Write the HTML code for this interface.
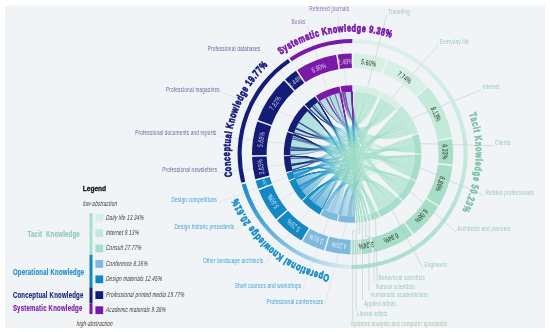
<!DOCTYPE html><html><head><meta charset="utf-8"><style>html,body{margin:0;padding:0;background:#fff;}svg{display:block;font-family:"Liberation Sans",Arial,sans-serif;}</style></head><body><svg width="550" height="332" viewBox="0 0 550 332">
<defs>
<linearGradient id="gT" gradientUnits="userSpaceOnUse" x1="352.6" y1="42" x2="351.04" y2="265.99"><stop offset="0" stop-color="#dcf1e9"/><stop offset="1" stop-color="#abdfca"/></linearGradient>
<linearGradient id="gO" gradientUnits="userSpaceOnUse" x1="351.04" y1="265.99" x2="244.39" y2="182.87"><stop offset="0" stop-color="#d9ecf5"/><stop offset="1" stop-color="#1a8cc6"/></linearGradient>
</defs>
<rect width="550" height="332" fill="#ffffff"/>
<rect x="5" y="5.5" width="540" height="322.5" fill="#f0f4f7"/>
<defs><linearGradient id="c0_0" gradientUnits="userSpaceOnUse" x1="354.36" y1="216.28" x2="354.3" y2="91.72"><stop offset="0" stop-color="#7db9dd" stop-opacity="0.95"/><stop offset="0.16" stop-color="#7db9dd" stop-opacity="0.7"/><stop offset="0.32" stop-color="#2a9fd3" stop-opacity="0.4"/><stop offset="0.48" stop-color="#8fd6bd" stop-opacity="0.32"/><stop offset="1" stop-color="#8fd6bd" stop-opacity="0.12"/></linearGradient><linearGradient id="c0_1" gradientUnits="userSpaceOnUse" x1="352.51" y1="216.3" x2="380.84" y2="98.47"><stop offset="0" stop-color="#7db9dd" stop-opacity="0.95"/><stop offset="0.16" stop-color="#7db9dd" stop-opacity="0.7"/><stop offset="0.32" stop-color="#2a9fd3" stop-opacity="0.4"/><stop offset="0.48" stop-color="#8fd6bd" stop-opacity="0.32"/><stop offset="1" stop-color="#8fd6bd" stop-opacity="0.12"/></linearGradient><linearGradient id="c0_2" gradientUnits="userSpaceOnUse" x1="350.57" y1="216.27" x2="398.1" y2="111.45"><stop offset="0" stop-color="#7db9dd" stop-opacity="0.95"/><stop offset="0.16" stop-color="#7db9dd" stop-opacity="0.7"/><stop offset="0.32" stop-color="#2a9fd3" stop-opacity="0.4"/><stop offset="0.48" stop-color="#8fd6bd" stop-opacity="0.32"/><stop offset="1" stop-color="#8fd6bd" stop-opacity="0.12"/></linearGradient><linearGradient id="c0_3" gradientUnits="userSpaceOnUse" x1="349.57" y1="216.23" x2="412.58" y2="137.15"><stop offset="0" stop-color="#7db9dd" stop-opacity="0.95"/><stop offset="0.16" stop-color="#7db9dd" stop-opacity="0.7"/><stop offset="0.32" stop-color="#2a9fd3" stop-opacity="0.4"/><stop offset="0.48" stop-color="#8fd6bd" stop-opacity="0.32"/><stop offset="1" stop-color="#8fd6bd" stop-opacity="0.12"/></linearGradient><linearGradient id="c0_4" gradientUnits="userSpaceOnUse" x1="349.03" y1="216.2" x2="414.88" y2="155.54"><stop offset="0" stop-color="#7db9dd" stop-opacity="0.95"/><stop offset="0.16" stop-color="#7db9dd" stop-opacity="0.7"/><stop offset="0.32" stop-color="#2a9fd3" stop-opacity="0.4"/><stop offset="0.48" stop-color="#8fd6bd" stop-opacity="0.32"/><stop offset="1" stop-color="#8fd6bd" stop-opacity="0.12"/></linearGradient><linearGradient id="c0_5" gradientUnits="userSpaceOnUse" x1="348.35" y1="216.16" x2="409.24" y2="179.94"><stop offset="0" stop-color="#7db9dd" stop-opacity="0.95"/><stop offset="0.16" stop-color="#7db9dd" stop-opacity="0.7"/><stop offset="0.32" stop-color="#2a9fd3" stop-opacity="0.4"/><stop offset="0.48" stop-color="#8fd6bd" stop-opacity="0.32"/><stop offset="1" stop-color="#8fd6bd" stop-opacity="0.12"/></linearGradient><linearGradient id="c0_6" gradientUnits="userSpaceOnUse" x1="344.36" y1="215.75" x2="396.14" y2="198.56"><stop offset="0" stop-color="#7db9dd" stop-opacity="0.95"/><stop offset="0.16" stop-color="#7db9dd" stop-opacity="0.7"/><stop offset="0.32" stop-color="#2a9fd3" stop-opacity="0.4"/><stop offset="0.48" stop-color="#8fd6bd" stop-opacity="0.32"/><stop offset="1" stop-color="#8fd6bd" stop-opacity="0.12"/></linearGradient><linearGradient id="c0_7" gradientUnits="userSpaceOnUse" x1="340.52" y1="215.12" x2="375.76" y2="211.84"><stop offset="0" stop-color="#7db9dd" stop-opacity="0.95"/><stop offset="0.16" stop-color="#7db9dd" stop-opacity="0.7"/><stop offset="0.32" stop-color="#2a9fd3" stop-opacity="0.4"/><stop offset="0.48" stop-color="#8fd6bd" stop-opacity="0.32"/><stop offset="1" stop-color="#8fd6bd" stop-opacity="0.12"/></linearGradient><linearGradient id="c0_8" gradientUnits="userSpaceOnUse" x1="339.98" y1="215.01" x2="368.27" y2="214.3"><stop offset="0" stop-color="#7db9dd" stop-opacity="0.95"/><stop offset="0.16" stop-color="#7db9dd" stop-opacity="0.7"/><stop offset="0.32" stop-color="#2a9fd3" stop-opacity="0.4"/><stop offset="0.48" stop-color="#8fd6bd" stop-opacity="0.32"/><stop offset="1" stop-color="#8fd6bd" stop-opacity="0.12"/></linearGradient><linearGradient id="c0_9" gradientUnits="userSpaceOnUse" x1="339.69" y1="214.95" x2="365.31" y2="214.99"><stop offset="0" stop-color="#7db9dd" stop-opacity="0.95"/><stop offset="0.16" stop-color="#7db9dd" stop-opacity="0.7"/><stop offset="0.32" stop-color="#2a9fd3" stop-opacity="0.4"/><stop offset="0.48" stop-color="#8fd6bd" stop-opacity="0.32"/><stop offset="1" stop-color="#8fd6bd" stop-opacity="0.12"/></linearGradient><linearGradient id="c0_10" gradientUnits="userSpaceOnUse" x1="339.55" y1="214.92" x2="362.01" y2="215.58"><stop offset="0" stop-color="#7db9dd" stop-opacity="0.95"/><stop offset="0.16" stop-color="#7db9dd" stop-opacity="0.7"/><stop offset="0.32" stop-color="#2a9fd3" stop-opacity="0.4"/><stop offset="0.48" stop-color="#8fd6bd" stop-opacity="0.32"/><stop offset="1" stop-color="#8fd6bd" stop-opacity="0.12"/></linearGradient><linearGradient id="c0_11" gradientUnits="userSpaceOnUse" x1="339.43" y1="214.89" x2="359.45" y2="215.92"><stop offset="0" stop-color="#7db9dd" stop-opacity="0.95"/><stop offset="0.16" stop-color="#7db9dd" stop-opacity="0.7"/><stop offset="0.32" stop-color="#2a9fd3" stop-opacity="0.4"/><stop offset="0.48" stop-color="#8fd6bd" stop-opacity="0.32"/><stop offset="1" stop-color="#8fd6bd" stop-opacity="0.12"/></linearGradient><linearGradient id="c0_12" gradientUnits="userSpaceOnUse" x1="339.38" y1="214.88" x2="357.05" y2="216.14"><stop offset="0" stop-color="#7db9dd" stop-opacity="0.95"/><stop offset="0.16" stop-color="#7db9dd" stop-opacity="0.7"/><stop offset="0.32" stop-color="#2a9fd3" stop-opacity="0.4"/><stop offset="0.48" stop-color="#8fd6bd" stop-opacity="0.32"/><stop offset="1" stop-color="#8fd6bd" stop-opacity="0.12"/></linearGradient><linearGradient id="c1_0" gradientUnits="userSpaceOnUse" x1="335.47" y1="213.9" x2="356.61" y2="91.83"><stop offset="0" stop-color="#7db9dd" stop-opacity="0.95"/><stop offset="0.16" stop-color="#7db9dd" stop-opacity="0.7"/><stop offset="0.32" stop-color="#2a9fd3" stop-opacity="0.4"/><stop offset="0.48" stop-color="#8fd6bd" stop-opacity="0.32"/><stop offset="1" stop-color="#8fd6bd" stop-opacity="0.12"/></linearGradient><linearGradient id="c1_1" gradientUnits="userSpaceOnUse" x1="331.22" y1="212.52" x2="381.64" y2="98.88"><stop offset="0" stop-color="#7db9dd" stop-opacity="0.95"/><stop offset="0.16" stop-color="#7db9dd" stop-opacity="0.7"/><stop offset="0.32" stop-color="#2a9fd3" stop-opacity="0.4"/><stop offset="0.48" stop-color="#8fd6bd" stop-opacity="0.32"/><stop offset="1" stop-color="#8fd6bd" stop-opacity="0.12"/></linearGradient><linearGradient id="c1_2" gradientUnits="userSpaceOnUse" x1="328.01" y1="211.24" x2="399.67" y2="113.18"><stop offset="0" stop-color="#7db9dd" stop-opacity="0.95"/><stop offset="0.16" stop-color="#7db9dd" stop-opacity="0.7"/><stop offset="0.32" stop-color="#2a9fd3" stop-opacity="0.4"/><stop offset="0.48" stop-color="#8fd6bd" stop-opacity="0.32"/><stop offset="1" stop-color="#8fd6bd" stop-opacity="0.12"/></linearGradient><linearGradient id="c1_3" gradientUnits="userSpaceOnUse" x1="326.09" y1="210.38" x2="412.66" y2="137.46"><stop offset="0" stop-color="#7db9dd" stop-opacity="0.95"/><stop offset="0.16" stop-color="#7db9dd" stop-opacity="0.7"/><stop offset="0.32" stop-color="#2a9fd3" stop-opacity="0.4"/><stop offset="0.48" stop-color="#8fd6bd" stop-opacity="0.32"/><stop offset="1" stop-color="#8fd6bd" stop-opacity="0.12"/></linearGradient><linearGradient id="c1_4" gradientUnits="userSpaceOnUse" x1="325.98" y1="210.33" x2="414.88" y2="155.64"><stop offset="0" stop-color="#7db9dd" stop-opacity="0.95"/><stop offset="0.16" stop-color="#7db9dd" stop-opacity="0.7"/><stop offset="0.32" stop-color="#2a9fd3" stop-opacity="0.4"/><stop offset="0.48" stop-color="#8fd6bd" stop-opacity="0.32"/><stop offset="1" stop-color="#8fd6bd" stop-opacity="0.12"/></linearGradient><linearGradient id="c1_5" gradientUnits="userSpaceOnUse" x1="325.73" y1="210.21" x2="409.08" y2="180.3"><stop offset="0" stop-color="#7db9dd" stop-opacity="0.95"/><stop offset="0.16" stop-color="#7db9dd" stop-opacity="0.7"/><stop offset="0.32" stop-color="#2a9fd3" stop-opacity="0.4"/><stop offset="0.48" stop-color="#8fd6bd" stop-opacity="0.32"/><stop offset="1" stop-color="#8fd6bd" stop-opacity="0.12"/></linearGradient><linearGradient id="c1_6" gradientUnits="userSpaceOnUse" x1="325.15" y1="209.93" x2="395.25" y2="199.41"><stop offset="0" stop-color="#7db9dd" stop-opacity="0.95"/><stop offset="0.16" stop-color="#7db9dd" stop-opacity="0.7"/><stop offset="0.32" stop-color="#2a9fd3" stop-opacity="0.4"/><stop offset="0.48" stop-color="#8fd6bd" stop-opacity="0.32"/><stop offset="1" stop-color="#8fd6bd" stop-opacity="0.12"/></linearGradient><linearGradient id="c1_7" gradientUnits="userSpaceOnUse" x1="324.47" y1="209.59" x2="375.14" y2="212.08"><stop offset="0" stop-color="#7db9dd" stop-opacity="0.95"/><stop offset="0.16" stop-color="#7db9dd" stop-opacity="0.7"/><stop offset="0.32" stop-color="#2a9fd3" stop-opacity="0.4"/><stop offset="0.48" stop-color="#8fd6bd" stop-opacity="0.32"/><stop offset="1" stop-color="#8fd6bd" stop-opacity="0.12"/></linearGradient><linearGradient id="c1_8" gradientUnits="userSpaceOnUse" x1="324.13" y1="209.41" x2="368.02" y2="214.36"><stop offset="0" stop-color="#7db9dd" stop-opacity="0.95"/><stop offset="0.16" stop-color="#7db9dd" stop-opacity="0.7"/><stop offset="0.32" stop-color="#2a9fd3" stop-opacity="0.4"/><stop offset="0.48" stop-color="#8fd6bd" stop-opacity="0.32"/><stop offset="1" stop-color="#8fd6bd" stop-opacity="0.12"/></linearGradient><linearGradient id="c1_9" gradientUnits="userSpaceOnUse" x1="323.97" y1="209.33" x2="365.19" y2="215.01"><stop offset="0" stop-color="#7db9dd" stop-opacity="0.95"/><stop offset="0.16" stop-color="#7db9dd" stop-opacity="0.7"/><stop offset="0.32" stop-color="#2a9fd3" stop-opacity="0.4"/><stop offset="0.48" stop-color="#8fd6bd" stop-opacity="0.32"/><stop offset="1" stop-color="#8fd6bd" stop-opacity="0.12"/></linearGradient><linearGradient id="c1_10" gradientUnits="userSpaceOnUse" x1="323.83" y1="209.26" x2="361.94" y2="215.6"><stop offset="0" stop-color="#7db9dd" stop-opacity="0.95"/><stop offset="0.16" stop-color="#7db9dd" stop-opacity="0.7"/><stop offset="0.32" stop-color="#2a9fd3" stop-opacity="0.4"/><stop offset="0.48" stop-color="#8fd6bd" stop-opacity="0.32"/><stop offset="1" stop-color="#8fd6bd" stop-opacity="0.12"/></linearGradient><linearGradient id="c1_11" gradientUnits="userSpaceOnUse" x1="323.76" y1="209.22" x2="359.34" y2="215.93"><stop offset="0" stop-color="#7db9dd" stop-opacity="0.95"/><stop offset="0.16" stop-color="#7db9dd" stop-opacity="0.7"/><stop offset="0.32" stop-color="#2a9fd3" stop-opacity="0.4"/><stop offset="0.48" stop-color="#8fd6bd" stop-opacity="0.32"/><stop offset="1" stop-color="#8fd6bd" stop-opacity="0.12"/></linearGradient><linearGradient id="c1_12" gradientUnits="userSpaceOnUse" x1="323.65" y1="209.16" x2="357.02" y2="216.14"><stop offset="0" stop-color="#7db9dd" stop-opacity="0.95"/><stop offset="0.16" stop-color="#7db9dd" stop-opacity="0.7"/><stop offset="0.32" stop-color="#2a9fd3" stop-opacity="0.4"/><stop offset="0.48" stop-color="#8fd6bd" stop-opacity="0.32"/><stop offset="1" stop-color="#8fd6bd" stop-opacity="0.12"/></linearGradient><linearGradient id="c2_0" gradientUnits="userSpaceOnUse" x1="322.52" y1="208.56" x2="358.8" y2="92.01"><stop offset="0" stop-color="#1388c3" stop-opacity="0.95"/><stop offset="0.16" stop-color="#1388c3" stop-opacity="0.7"/><stop offset="0.32" stop-color="#2a9fd3" stop-opacity="0.4"/><stop offset="0.48" stop-color="#8fd6bd" stop-opacity="0.32"/><stop offset="1" stop-color="#8fd6bd" stop-opacity="0.12"/></linearGradient><linearGradient id="c2_1" gradientUnits="userSpaceOnUse" x1="317.98" y1="205.8" x2="384.68" y2="100.6"><stop offset="0" stop-color="#1388c3" stop-opacity="0.95"/><stop offset="0.16" stop-color="#1388c3" stop-opacity="0.7"/><stop offset="0.32" stop-color="#2a9fd3" stop-opacity="0.4"/><stop offset="0.48" stop-color="#8fd6bd" stop-opacity="0.32"/><stop offset="1" stop-color="#8fd6bd" stop-opacity="0.12"/></linearGradient><linearGradient id="c2_2" gradientUnits="userSpaceOnUse" x1="312.75" y1="201.89" x2="402.22" y2="116.33"><stop offset="0" stop-color="#1388c3" stop-opacity="0.95"/><stop offset="0.16" stop-color="#1388c3" stop-opacity="0.7"/><stop offset="0.32" stop-color="#2a9fd3" stop-opacity="0.4"/><stop offset="0.48" stop-color="#8fd6bd" stop-opacity="0.32"/><stop offset="1" stop-color="#8fd6bd" stop-opacity="0.12"/></linearGradient><linearGradient id="c2_3" gradientUnits="userSpaceOnUse" x1="310.09" y1="199.55" x2="413.38" y2="140.34"><stop offset="0" stop-color="#1388c3" stop-opacity="0.95"/><stop offset="0.16" stop-color="#1388c3" stop-opacity="0.7"/><stop offset="0.32" stop-color="#2a9fd3" stop-opacity="0.4"/><stop offset="0.48" stop-color="#8fd6bd" stop-opacity="0.32"/><stop offset="1" stop-color="#8fd6bd" stop-opacity="0.12"/></linearGradient><linearGradient id="c2_4" gradientUnits="userSpaceOnUse" x1="308.43" y1="197.93" x2="414.87" y2="155.81"><stop offset="0" stop-color="#1388c3" stop-opacity="0.95"/><stop offset="0.16" stop-color="#1388c3" stop-opacity="0.7"/><stop offset="0.32" stop-color="#2a9fd3" stop-opacity="0.4"/><stop offset="0.48" stop-color="#8fd6bd" stop-opacity="0.32"/><stop offset="1" stop-color="#8fd6bd" stop-opacity="0.12"/></linearGradient><linearGradient id="c2_5" gradientUnits="userSpaceOnUse" x1="308.15" y1="197.65" x2="408.96" y2="180.55"><stop offset="0" stop-color="#1388c3" stop-opacity="0.95"/><stop offset="0.16" stop-color="#1388c3" stop-opacity="0.7"/><stop offset="0.32" stop-color="#2a9fd3" stop-opacity="0.4"/><stop offset="0.48" stop-color="#8fd6bd" stop-opacity="0.32"/><stop offset="1" stop-color="#8fd6bd" stop-opacity="0.12"/></linearGradient><linearGradient id="c2_6" gradientUnits="userSpaceOnUse" x1="307.8" y1="197.29" x2="395.03" y2="199.62"><stop offset="0" stop-color="#1388c3" stop-opacity="0.95"/><stop offset="0.16" stop-color="#1388c3" stop-opacity="0.7"/><stop offset="0.32" stop-color="#2a9fd3" stop-opacity="0.4"/><stop offset="0.48" stop-color="#8fd6bd" stop-opacity="0.32"/><stop offset="1" stop-color="#8fd6bd" stop-opacity="0.12"/></linearGradient><linearGradient id="c2_7" gradientUnits="userSpaceOnUse" x1="307.48" y1="196.96" x2="374.66" y2="212.26"><stop offset="0" stop-color="#1388c3" stop-opacity="0.95"/><stop offset="0.16" stop-color="#1388c3" stop-opacity="0.7"/><stop offset="0.32" stop-color="#2a9fd3" stop-opacity="0.4"/><stop offset="0.48" stop-color="#8fd6bd" stop-opacity="0.32"/><stop offset="1" stop-color="#8fd6bd" stop-opacity="0.12"/></linearGradient><linearGradient id="c2_8" gradientUnits="userSpaceOnUse" x1="307.33" y1="196.81" x2="367.82" y2="214.41"><stop offset="0" stop-color="#1388c3" stop-opacity="0.95"/><stop offset="0.16" stop-color="#1388c3" stop-opacity="0.7"/><stop offset="0.32" stop-color="#2a9fd3" stop-opacity="0.4"/><stop offset="0.48" stop-color="#8fd6bd" stop-opacity="0.32"/><stop offset="1" stop-color="#8fd6bd" stop-opacity="0.12"/></linearGradient><linearGradient id="c2_9" gradientUnits="userSpaceOnUse" x1="307.23" y1="196.7" x2="365.06" y2="215.04"><stop offset="0" stop-color="#1388c3" stop-opacity="0.95"/><stop offset="0.16" stop-color="#1388c3" stop-opacity="0.7"/><stop offset="0.32" stop-color="#2a9fd3" stop-opacity="0.4"/><stop offset="0.48" stop-color="#8fd6bd" stop-opacity="0.32"/><stop offset="1" stop-color="#8fd6bd" stop-opacity="0.12"/></linearGradient><linearGradient id="c2_10" gradientUnits="userSpaceOnUse" x1="307.18" y1="196.65" x2="361.91" y2="215.6"><stop offset="0" stop-color="#1388c3" stop-opacity="0.95"/><stop offset="0.16" stop-color="#1388c3" stop-opacity="0.7"/><stop offset="0.32" stop-color="#2a9fd3" stop-opacity="0.4"/><stop offset="0.48" stop-color="#8fd6bd" stop-opacity="0.32"/><stop offset="1" stop-color="#8fd6bd" stop-opacity="0.12"/></linearGradient><linearGradient id="c2_11" gradientUnits="userSpaceOnUse" x1="307.17" y1="196.63" x2="359.26" y2="215.94"><stop offset="0" stop-color="#1388c3" stop-opacity="0.95"/><stop offset="0.16" stop-color="#1388c3" stop-opacity="0.7"/><stop offset="0.32" stop-color="#2a9fd3" stop-opacity="0.4"/><stop offset="0.48" stop-color="#8fd6bd" stop-opacity="0.32"/><stop offset="1" stop-color="#8fd6bd" stop-opacity="0.12"/></linearGradient><linearGradient id="c2_12" gradientUnits="userSpaceOnUse" x1="307.16" y1="196.62" x2="356.99" y2="216.15"><stop offset="0" stop-color="#1388c3" stop-opacity="0.95"/><stop offset="0.16" stop-color="#1388c3" stop-opacity="0.7"/><stop offset="0.32" stop-color="#2a9fd3" stop-opacity="0.4"/><stop offset="0.48" stop-color="#8fd6bd" stop-opacity="0.32"/><stop offset="1" stop-color="#8fd6bd" stop-opacity="0.12"/></linearGradient><linearGradient id="c3_0" gradientUnits="userSpaceOnUse" x1="304.06" y1="193.06" x2="363.2" y2="92.61"><stop offset="0" stop-color="#1388c3" stop-opacity="0.95"/><stop offset="0.16" stop-color="#1388c3" stop-opacity="0.7"/><stop offset="0.32" stop-color="#2a9fd3" stop-opacity="0.4"/><stop offset="0.48" stop-color="#8fd6bd" stop-opacity="0.32"/><stop offset="1" stop-color="#8fd6bd" stop-opacity="0.12"/></linearGradient><linearGradient id="c3_1" gradientUnits="userSpaceOnUse" x1="301.72" y1="189.96" x2="387.33" y2="102.28"><stop offset="0" stop-color="#1388c3" stop-opacity="0.95"/><stop offset="0.16" stop-color="#1388c3" stop-opacity="0.7"/><stop offset="0.32" stop-color="#2a9fd3" stop-opacity="0.4"/><stop offset="0.48" stop-color="#8fd6bd" stop-opacity="0.32"/><stop offset="1" stop-color="#8fd6bd" stop-opacity="0.12"/></linearGradient><linearGradient id="c3_2" gradientUnits="userSpaceOnUse" x1="301.03" y1="188.96" x2="404.48" y2="119.51"><stop offset="0" stop-color="#1388c3" stop-opacity="0.95"/><stop offset="0.16" stop-color="#1388c3" stop-opacity="0.7"/><stop offset="0.32" stop-color="#2a9fd3" stop-opacity="0.4"/><stop offset="0.48" stop-color="#8fd6bd" stop-opacity="0.32"/><stop offset="1" stop-color="#8fd6bd" stop-opacity="0.12"/></linearGradient><linearGradient id="c3_3" gradientUnits="userSpaceOnUse" x1="300.02" y1="187.42" x2="414.13" y2="144.24"><stop offset="0" stop-color="#1388c3" stop-opacity="0.95"/><stop offset="0.16" stop-color="#1388c3" stop-opacity="0.7"/><stop offset="0.32" stop-color="#2a9fd3" stop-opacity="0.4"/><stop offset="0.48" stop-color="#8fd6bd" stop-opacity="0.32"/><stop offset="1" stop-color="#8fd6bd" stop-opacity="0.12"/></linearGradient><linearGradient id="c3_4" gradientUnits="userSpaceOnUse" x1="299.57" y1="186.69" x2="414.87" y2="155.99"><stop offset="0" stop-color="#1388c3" stop-opacity="0.95"/><stop offset="0.16" stop-color="#1388c3" stop-opacity="0.7"/><stop offset="0.32" stop-color="#2a9fd3" stop-opacity="0.4"/><stop offset="0.48" stop-color="#8fd6bd" stop-opacity="0.32"/><stop offset="1" stop-color="#8fd6bd" stop-opacity="0.12"/></linearGradient><linearGradient id="c3_5" gradientUnits="userSpaceOnUse" x1="299.23" y1="186.15" x2="408.65" y2="181.19"><stop offset="0" stop-color="#1388c3" stop-opacity="0.95"/><stop offset="0.16" stop-color="#1388c3" stop-opacity="0.7"/><stop offset="0.32" stop-color="#2a9fd3" stop-opacity="0.4"/><stop offset="0.48" stop-color="#8fd6bd" stop-opacity="0.32"/><stop offset="1" stop-color="#8fd6bd" stop-opacity="0.12"/></linearGradient><linearGradient id="c3_6" gradientUnits="userSpaceOnUse" x1="297.12" y1="182.34" x2="393.46" y2="201.03"><stop offset="0" stop-color="#1388c3" stop-opacity="0.95"/><stop offset="0.16" stop-color="#1388c3" stop-opacity="0.7"/><stop offset="0.32" stop-color="#2a9fd3" stop-opacity="0.4"/><stop offset="0.48" stop-color="#8fd6bd" stop-opacity="0.32"/><stop offset="1" stop-color="#8fd6bd" stop-opacity="0.12"/></linearGradient><linearGradient id="c3_7" gradientUnits="userSpaceOnUse" x1="295.49" y1="178.9" x2="374.44" y2="212.35"><stop offset="0" stop-color="#1388c3" stop-opacity="0.95"/><stop offset="0.16" stop-color="#1388c3" stop-opacity="0.7"/><stop offset="0.32" stop-color="#2a9fd3" stop-opacity="0.4"/><stop offset="0.48" stop-color="#8fd6bd" stop-opacity="0.32"/><stop offset="1" stop-color="#8fd6bd" stop-opacity="0.12"/></linearGradient><linearGradient id="c3_8" gradientUnits="userSpaceOnUse" x1="295.48" y1="178.86" x2="367.63" y2="214.46"><stop offset="0" stop-color="#1388c3" stop-opacity="0.95"/><stop offset="0.16" stop-color="#1388c3" stop-opacity="0.7"/><stop offset="0.32" stop-color="#2a9fd3" stop-opacity="0.4"/><stop offset="0.48" stop-color="#8fd6bd" stop-opacity="0.32"/><stop offset="1" stop-color="#8fd6bd" stop-opacity="0.12"/></linearGradient><linearGradient id="c3_9" gradientUnits="userSpaceOnUse" x1="295.45" y1="178.8" x2="364.96" y2="215.06"><stop offset="0" stop-color="#1388c3" stop-opacity="0.95"/><stop offset="0.16" stop-color="#1388c3" stop-opacity="0.7"/><stop offset="0.32" stop-color="#2a9fd3" stop-opacity="0.4"/><stop offset="0.48" stop-color="#8fd6bd" stop-opacity="0.32"/><stop offset="1" stop-color="#8fd6bd" stop-opacity="0.12"/></linearGradient><linearGradient id="c3_10" gradientUnits="userSpaceOnUse" x1="295.43" y1="178.76" x2="361.87" y2="215.61"><stop offset="0" stop-color="#1388c3" stop-opacity="0.95"/><stop offset="0.16" stop-color="#1388c3" stop-opacity="0.7"/><stop offset="0.32" stop-color="#2a9fd3" stop-opacity="0.4"/><stop offset="0.48" stop-color="#8fd6bd" stop-opacity="0.32"/><stop offset="1" stop-color="#8fd6bd" stop-opacity="0.12"/></linearGradient><linearGradient id="c3_11" gradientUnits="userSpaceOnUse" x1="295.4" y1="178.69" x2="359.14" y2="215.96"><stop offset="0" stop-color="#1388c3" stop-opacity="0.95"/><stop offset="0.16" stop-color="#1388c3" stop-opacity="0.7"/><stop offset="0.32" stop-color="#2a9fd3" stop-opacity="0.4"/><stop offset="0.48" stop-color="#8fd6bd" stop-opacity="0.32"/><stop offset="1" stop-color="#8fd6bd" stop-opacity="0.12"/></linearGradient><linearGradient id="c3_12" gradientUnits="userSpaceOnUse" x1="295.37" y1="178.61" x2="356.96" y2="216.15"><stop offset="0" stop-color="#1388c3" stop-opacity="0.95"/><stop offset="0.16" stop-color="#1388c3" stop-opacity="0.7"/><stop offset="0.32" stop-color="#2a9fd3" stop-opacity="0.4"/><stop offset="0.48" stop-color="#8fd6bd" stop-opacity="0.32"/><stop offset="1" stop-color="#8fd6bd" stop-opacity="0.12"/></linearGradient><linearGradient id="c4_0" gradientUnits="userSpaceOnUse" x1="294.97" y1="177.67" x2="367.3" y2="93.46"><stop offset="0" stop-color="#1388c3" stop-opacity="0.95"/><stop offset="0.16" stop-color="#1388c3" stop-opacity="0.7"/><stop offset="0.32" stop-color="#2a9fd3" stop-opacity="0.4"/><stop offset="0.48" stop-color="#8fd6bd" stop-opacity="0.32"/><stop offset="1" stop-color="#8fd6bd" stop-opacity="0.12"/></linearGradient><linearGradient id="c4_1" gradientUnits="userSpaceOnUse" x1="294.78" y1="177.2" x2="387.65" y2="102.5"><stop offset="0" stop-color="#1388c3" stop-opacity="0.95"/><stop offset="0.16" stop-color="#1388c3" stop-opacity="0.7"/><stop offset="0.32" stop-color="#2a9fd3" stop-opacity="0.4"/><stop offset="0.48" stop-color="#8fd6bd" stop-opacity="0.32"/><stop offset="1" stop-color="#8fd6bd" stop-opacity="0.12"/></linearGradient><linearGradient id="c4_2" gradientUnits="userSpaceOnUse" x1="294.41" y1="176.25" x2="405.82" y2="121.62"><stop offset="0" stop-color="#1388c3" stop-opacity="0.95"/><stop offset="0.16" stop-color="#1388c3" stop-opacity="0.7"/><stop offset="0.32" stop-color="#2a9fd3" stop-opacity="0.4"/><stop offset="0.48" stop-color="#8fd6bd" stop-opacity="0.32"/><stop offset="1" stop-color="#8fd6bd" stop-opacity="0.12"/></linearGradient><linearGradient id="c4_3" gradientUnits="userSpaceOnUse" x1="294.05" y1="175.28" x2="414.38" y2="145.97"><stop offset="0" stop-color="#1388c3" stop-opacity="0.95"/><stop offset="0.16" stop-color="#1388c3" stop-opacity="0.7"/><stop offset="0.32" stop-color="#2a9fd3" stop-opacity="0.4"/><stop offset="0.48" stop-color="#8fd6bd" stop-opacity="0.32"/><stop offset="1" stop-color="#8fd6bd" stop-opacity="0.12"/></linearGradient><linearGradient id="c4_4" gradientUnits="userSpaceOnUse" x1="293.46" y1="173.58" x2="414.83" y2="156.91"><stop offset="0" stop-color="#1388c3" stop-opacity="0.95"/><stop offset="0.16" stop-color="#1388c3" stop-opacity="0.7"/><stop offset="0.32" stop-color="#2a9fd3" stop-opacity="0.4"/><stop offset="0.48" stop-color="#8fd6bd" stop-opacity="0.32"/><stop offset="1" stop-color="#8fd6bd" stop-opacity="0.12"/></linearGradient><linearGradient id="c4_5" gradientUnits="userSpaceOnUse" x1="292.98" y1="172.07" x2="408.3" y2="181.92"><stop offset="0" stop-color="#1388c3" stop-opacity="0.95"/><stop offset="0.16" stop-color="#1388c3" stop-opacity="0.7"/><stop offset="0.32" stop-color="#2a9fd3" stop-opacity="0.4"/><stop offset="0.48" stop-color="#8fd6bd" stop-opacity="0.32"/><stop offset="1" stop-color="#8fd6bd" stop-opacity="0.12"/></linearGradient><linearGradient id="c4_6" gradientUnits="userSpaceOnUse" x1="292.85" y1="171.63" x2="391.91" y2="202.34"><stop offset="0" stop-color="#1388c3" stop-opacity="0.95"/><stop offset="0.16" stop-color="#1388c3" stop-opacity="0.7"/><stop offset="0.32" stop-color="#2a9fd3" stop-opacity="0.4"/><stop offset="0.48" stop-color="#8fd6bd" stop-opacity="0.32"/><stop offset="1" stop-color="#8fd6bd" stop-opacity="0.12"/></linearGradient><linearGradient id="c4_7" gradientUnits="userSpaceOnUse" x1="292.78" y1="171.42" x2="374.42" y2="212.36"><stop offset="0" stop-color="#1388c3" stop-opacity="0.95"/><stop offset="0.16" stop-color="#1388c3" stop-opacity="0.7"/><stop offset="0.32" stop-color="#2a9fd3" stop-opacity="0.4"/><stop offset="0.48" stop-color="#8fd6bd" stop-opacity="0.32"/><stop offset="1" stop-color="#8fd6bd" stop-opacity="0.12"/></linearGradient><linearGradient id="c4_8" gradientUnits="userSpaceOnUse" x1="292.77" y1="171.38" x2="367.53" y2="214.48"><stop offset="0" stop-color="#1388c3" stop-opacity="0.95"/><stop offset="0.16" stop-color="#1388c3" stop-opacity="0.7"/><stop offset="0.32" stop-color="#2a9fd3" stop-opacity="0.4"/><stop offset="0.48" stop-color="#8fd6bd" stop-opacity="0.32"/><stop offset="1" stop-color="#8fd6bd" stop-opacity="0.12"/></linearGradient><linearGradient id="c4_9" gradientUnits="userSpaceOnUse" x1="292.76" y1="171.35" x2="364.92" y2="215.07"><stop offset="0" stop-color="#1388c3" stop-opacity="0.95"/><stop offset="0.16" stop-color="#1388c3" stop-opacity="0.7"/><stop offset="0.32" stop-color="#2a9fd3" stop-opacity="0.4"/><stop offset="0.48" stop-color="#8fd6bd" stop-opacity="0.32"/><stop offset="1" stop-color="#8fd6bd" stop-opacity="0.12"/></linearGradient><linearGradient id="c4_10" gradientUnits="userSpaceOnUse" x1="292.76" y1="171.34" x2="361.85" y2="215.61"><stop offset="0" stop-color="#1388c3" stop-opacity="0.95"/><stop offset="0.16" stop-color="#1388c3" stop-opacity="0.7"/><stop offset="0.32" stop-color="#2a9fd3" stop-opacity="0.4"/><stop offset="0.48" stop-color="#8fd6bd" stop-opacity="0.32"/><stop offset="1" stop-color="#8fd6bd" stop-opacity="0.12"/></linearGradient><linearGradient id="c4_11" gradientUnits="userSpaceOnUse" x1="292.76" y1="171.33" x2="359.04" y2="215.97"><stop offset="0" stop-color="#1388c3" stop-opacity="0.95"/><stop offset="0.16" stop-color="#1388c3" stop-opacity="0.7"/><stop offset="0.32" stop-color="#2a9fd3" stop-opacity="0.4"/><stop offset="0.48" stop-color="#8fd6bd" stop-opacity="0.32"/><stop offset="1" stop-color="#8fd6bd" stop-opacity="0.12"/></linearGradient><linearGradient id="c4_12" gradientUnits="userSpaceOnUse" x1="292.76" y1="171.33" x2="356.94" y2="216.15"><stop offset="0" stop-color="#1388c3" stop-opacity="0.95"/><stop offset="0.16" stop-color="#1388c3" stop-opacity="0.7"/><stop offset="0.32" stop-color="#2a9fd3" stop-opacity="0.4"/><stop offset="0.48" stop-color="#8fd6bd" stop-opacity="0.32"/><stop offset="1" stop-color="#8fd6bd" stop-opacity="0.12"/></linearGradient><linearGradient id="c5_0" gradientUnits="userSpaceOnUse" x1="292.43" y1="170.16" x2="367.57" y2="93.53"><stop offset="0" stop-color="#141c78" stop-opacity="0.95"/><stop offset="0.16" stop-color="#141c78" stop-opacity="0.7"/><stop offset="0.32" stop-color="#2a9fd3" stop-opacity="0.4"/><stop offset="0.48" stop-color="#8fd6bd" stop-opacity="0.32"/><stop offset="1" stop-color="#8fd6bd" stop-opacity="0.12"/></linearGradient><linearGradient id="c5_1" gradientUnits="userSpaceOnUse" x1="291.83" y1="167.74" x2="388.9" y2="103.37"><stop offset="0" stop-color="#141c78" stop-opacity="0.95"/><stop offset="0.16" stop-color="#141c78" stop-opacity="0.7"/><stop offset="0.32" stop-color="#2a9fd3" stop-opacity="0.4"/><stop offset="0.48" stop-color="#8fd6bd" stop-opacity="0.32"/><stop offset="1" stop-color="#8fd6bd" stop-opacity="0.12"/></linearGradient><linearGradient id="c5_2" gradientUnits="userSpaceOnUse" x1="291.37" y1="165.49" x2="406.32" y2="122.45"><stop offset="0" stop-color="#141c78" stop-opacity="0.95"/><stop offset="0.16" stop-color="#141c78" stop-opacity="0.7"/><stop offset="0.32" stop-color="#2a9fd3" stop-opacity="0.4"/><stop offset="0.48" stop-color="#8fd6bd" stop-opacity="0.32"/><stop offset="1" stop-color="#8fd6bd" stop-opacity="0.12"/></linearGradient><linearGradient id="c5_3" gradientUnits="userSpaceOnUse" x1="291.36" y1="165.42" x2="414.47" y2="146.72"><stop offset="0" stop-color="#141c78" stop-opacity="0.95"/><stop offset="0.16" stop-color="#141c78" stop-opacity="0.7"/><stop offset="0.32" stop-color="#2a9fd3" stop-opacity="0.4"/><stop offset="0.48" stop-color="#8fd6bd" stop-opacity="0.32"/><stop offset="1" stop-color="#8fd6bd" stop-opacity="0.12"/></linearGradient><linearGradient id="c5_4" gradientUnits="userSpaceOnUse" x1="291.24" y1="164.77" x2="414.76" y2="158.14"><stop offset="0" stop-color="#141c78" stop-opacity="0.95"/><stop offset="0.16" stop-color="#141c78" stop-opacity="0.7"/><stop offset="0.32" stop-color="#2a9fd3" stop-opacity="0.4"/><stop offset="0.48" stop-color="#8fd6bd" stop-opacity="0.32"/><stop offset="1" stop-color="#8fd6bd" stop-opacity="0.12"/></linearGradient><linearGradient id="c5_5" gradientUnits="userSpaceOnUse" x1="290.73" y1="161.31" x2="406.93" y2="184.49"><stop offset="0" stop-color="#141c78" stop-opacity="0.95"/><stop offset="0.16" stop-color="#141c78" stop-opacity="0.7"/><stop offset="0.32" stop-color="#2a9fd3" stop-opacity="0.4"/><stop offset="0.48" stop-color="#8fd6bd" stop-opacity="0.32"/><stop offset="1" stop-color="#8fd6bd" stop-opacity="0.12"/></linearGradient><linearGradient id="c5_6" gradientUnits="userSpaceOnUse" x1="290.39" y1="157.43" x2="391.44" y2="202.71"><stop offset="0" stop-color="#141c78" stop-opacity="0.95"/><stop offset="0.16" stop-color="#141c78" stop-opacity="0.7"/><stop offset="0.32" stop-color="#2a9fd3" stop-opacity="0.4"/><stop offset="0.48" stop-color="#8fd6bd" stop-opacity="0.32"/><stop offset="1" stop-color="#8fd6bd" stop-opacity="0.12"/></linearGradient><linearGradient id="c5_7" gradientUnits="userSpaceOnUse" x1="290.35" y1="156.42" x2="374.39" y2="212.36"><stop offset="0" stop-color="#141c78" stop-opacity="0.95"/><stop offset="0.16" stop-color="#141c78" stop-opacity="0.7"/><stop offset="0.32" stop-color="#2a9fd3" stop-opacity="0.4"/><stop offset="0.48" stop-color="#8fd6bd" stop-opacity="0.32"/><stop offset="1" stop-color="#8fd6bd" stop-opacity="0.12"/></linearGradient><linearGradient id="c5_8" gradientUnits="userSpaceOnUse" x1="290.35" y1="156.41" x2="367.48" y2="214.5"><stop offset="0" stop-color="#141c78" stop-opacity="0.95"/><stop offset="0.16" stop-color="#141c78" stop-opacity="0.7"/><stop offset="0.32" stop-color="#2a9fd3" stop-opacity="0.4"/><stop offset="0.48" stop-color="#8fd6bd" stop-opacity="0.32"/><stop offset="1" stop-color="#8fd6bd" stop-opacity="0.12"/></linearGradient><linearGradient id="c5_9" gradientUnits="userSpaceOnUse" x1="290.34" y1="156.35" x2="364.86" y2="215.08"><stop offset="0" stop-color="#141c78" stop-opacity="0.95"/><stop offset="0.16" stop-color="#141c78" stop-opacity="0.7"/><stop offset="0.32" stop-color="#2a9fd3" stop-opacity="0.4"/><stop offset="0.48" stop-color="#8fd6bd" stop-opacity="0.32"/><stop offset="1" stop-color="#8fd6bd" stop-opacity="0.12"/></linearGradient><linearGradient id="c5_10" gradientUnits="userSpaceOnUse" x1="290.34" y1="156.29" x2="361.83" y2="215.61"><stop offset="0" stop-color="#141c78" stop-opacity="0.95"/><stop offset="0.16" stop-color="#141c78" stop-opacity="0.7"/><stop offset="0.32" stop-color="#2a9fd3" stop-opacity="0.4"/><stop offset="0.48" stop-color="#8fd6bd" stop-opacity="0.32"/><stop offset="1" stop-color="#8fd6bd" stop-opacity="0.12"/></linearGradient><linearGradient id="c5_11" gradientUnits="userSpaceOnUse" x1="290.34" y1="156.28" x2="359.02" y2="215.97"><stop offset="0" stop-color="#141c78" stop-opacity="0.95"/><stop offset="0.16" stop-color="#141c78" stop-opacity="0.7"/><stop offset="0.32" stop-color="#2a9fd3" stop-opacity="0.4"/><stop offset="0.48" stop-color="#8fd6bd" stop-opacity="0.32"/><stop offset="1" stop-color="#8fd6bd" stop-opacity="0.12"/></linearGradient><linearGradient id="c5_12" gradientUnits="userSpaceOnUse" x1="290.34" y1="156.2" x2="356.89" y2="216.15"><stop offset="0" stop-color="#141c78" stop-opacity="0.95"/><stop offset="0.16" stop-color="#141c78" stop-opacity="0.7"/><stop offset="0.32" stop-color="#2a9fd3" stop-opacity="0.4"/><stop offset="0.48" stop-color="#8fd6bd" stop-opacity="0.32"/><stop offset="1" stop-color="#8fd6bd" stop-opacity="0.12"/></linearGradient><linearGradient id="c6_0" gradientUnits="userSpaceOnUse" x1="290.31" y1="152.83" x2="371.31" y2="94.58"><stop offset="0" stop-color="#141c78" stop-opacity="0.95"/><stop offset="0.16" stop-color="#141c78" stop-opacity="0.7"/><stop offset="0.32" stop-color="#2a9fd3" stop-opacity="0.4"/><stop offset="0.48" stop-color="#8fd6bd" stop-opacity="0.32"/><stop offset="1" stop-color="#8fd6bd" stop-opacity="0.12"/></linearGradient><linearGradient id="c6_1" gradientUnits="userSpaceOnUse" x1="290.42" y1="150.06" x2="390.18" y2="104.31"><stop offset="0" stop-color="#141c78" stop-opacity="0.95"/><stop offset="0.16" stop-color="#141c78" stop-opacity="0.7"/><stop offset="0.32" stop-color="#2a9fd3" stop-opacity="0.4"/><stop offset="0.48" stop-color="#8fd6bd" stop-opacity="0.32"/><stop offset="1" stop-color="#8fd6bd" stop-opacity="0.12"/></linearGradient><linearGradient id="c6_2" gradientUnits="userSpaceOnUse" x1="290.52" y1="148.83" x2="407.15" y2="123.91"><stop offset="0" stop-color="#141c78" stop-opacity="0.95"/><stop offset="0.16" stop-color="#141c78" stop-opacity="0.7"/><stop offset="0.32" stop-color="#2a9fd3" stop-opacity="0.4"/><stop offset="0.48" stop-color="#8fd6bd" stop-opacity="0.32"/><stop offset="1" stop-color="#8fd6bd" stop-opacity="0.12"/></linearGradient><linearGradient id="c6_3" gradientUnits="userSpaceOnUse" x1="290.64" y1="147.48" x2="414.6" y2="147.85"><stop offset="0" stop-color="#141c78" stop-opacity="0.95"/><stop offset="0.16" stop-color="#141c78" stop-opacity="0.7"/><stop offset="0.32" stop-color="#2a9fd3" stop-opacity="0.4"/><stop offset="0.48" stop-color="#8fd6bd" stop-opacity="0.32"/><stop offset="1" stop-color="#8fd6bd" stop-opacity="0.12"/></linearGradient><linearGradient id="c6_4" gradientUnits="userSpaceOnUse" x1="291.31" y1="142.82" x2="414.4" y2="161.91"><stop offset="0" stop-color="#141c78" stop-opacity="0.95"/><stop offset="0.16" stop-color="#141c78" stop-opacity="0.7"/><stop offset="0.32" stop-color="#2a9fd3" stop-opacity="0.4"/><stop offset="0.48" stop-color="#8fd6bd" stop-opacity="0.32"/><stop offset="1" stop-color="#8fd6bd" stop-opacity="0.12"/></linearGradient><linearGradient id="c6_5" gradientUnits="userSpaceOnUse" x1="292.41" y1="137.91" x2="404.93" y2="187.81"><stop offset="0" stop-color="#141c78" stop-opacity="0.95"/><stop offset="0.16" stop-color="#141c78" stop-opacity="0.7"/><stop offset="0.32" stop-color="#2a9fd3" stop-opacity="0.4"/><stop offset="0.48" stop-color="#8fd6bd" stop-opacity="0.32"/><stop offset="1" stop-color="#8fd6bd" stop-opacity="0.12"/></linearGradient><linearGradient id="c6_6" gradientUnits="userSpaceOnUse" x1="292.92" y1="136.14" x2="390.54" y2="203.42"><stop offset="0" stop-color="#141c78" stop-opacity="0.95"/><stop offset="0.16" stop-color="#141c78" stop-opacity="0.7"/><stop offset="0.32" stop-color="#2a9fd3" stop-opacity="0.4"/><stop offset="0.48" stop-color="#8fd6bd" stop-opacity="0.32"/><stop offset="1" stop-color="#8fd6bd" stop-opacity="0.12"/></linearGradient><linearGradient id="c6_7" gradientUnits="userSpaceOnUse" x1="293.26" y1="135.02" x2="373.84" y2="212.57"><stop offset="0" stop-color="#141c78" stop-opacity="0.95"/><stop offset="0.16" stop-color="#141c78" stop-opacity="0.7"/><stop offset="0.32" stop-color="#2a9fd3" stop-opacity="0.4"/><stop offset="0.48" stop-color="#8fd6bd" stop-opacity="0.32"/><stop offset="1" stop-color="#8fd6bd" stop-opacity="0.12"/></linearGradient><linearGradient id="c6_8" gradientUnits="userSpaceOnUse" x1="293.34" y1="134.78" x2="367.47" y2="214.5"><stop offset="0" stop-color="#141c78" stop-opacity="0.95"/><stop offset="0.16" stop-color="#141c78" stop-opacity="0.7"/><stop offset="0.32" stop-color="#2a9fd3" stop-opacity="0.4"/><stop offset="0.48" stop-color="#8fd6bd" stop-opacity="0.32"/><stop offset="1" stop-color="#8fd6bd" stop-opacity="0.12"/></linearGradient><linearGradient id="c6_9" gradientUnits="userSpaceOnUse" x1="293.4" y1="134.58" x2="364.53" y2="215.15"><stop offset="0" stop-color="#141c78" stop-opacity="0.95"/><stop offset="0.16" stop-color="#141c78" stop-opacity="0.7"/><stop offset="0.32" stop-color="#2a9fd3" stop-opacity="0.4"/><stop offset="0.48" stop-color="#8fd6bd" stop-opacity="0.32"/><stop offset="1" stop-color="#8fd6bd" stop-opacity="0.12"/></linearGradient><linearGradient id="c6_10" gradientUnits="userSpaceOnUse" x1="293.49" y1="134.31" x2="361.65" y2="215.64"><stop offset="0" stop-color="#141c78" stop-opacity="0.95"/><stop offset="0.16" stop-color="#141c78" stop-opacity="0.7"/><stop offset="0.32" stop-color="#2a9fd3" stop-opacity="0.4"/><stop offset="0.48" stop-color="#8fd6bd" stop-opacity="0.32"/><stop offset="1" stop-color="#8fd6bd" stop-opacity="0.12"/></linearGradient><linearGradient id="c6_11" gradientUnits="userSpaceOnUse" x1="293.54" y1="134.18" x2="358.9" y2="215.98"><stop offset="0" stop-color="#141c78" stop-opacity="0.95"/><stop offset="0.16" stop-color="#141c78" stop-opacity="0.7"/><stop offset="0.32" stop-color="#2a9fd3" stop-opacity="0.4"/><stop offset="0.48" stop-color="#8fd6bd" stop-opacity="0.32"/><stop offset="1" stop-color="#8fd6bd" stop-opacity="0.12"/></linearGradient><linearGradient id="c6_12" gradientUnits="userSpaceOnUse" x1="293.55" y1="134.13" x2="356.83" y2="216.16"><stop offset="0" stop-color="#141c78" stop-opacity="0.95"/><stop offset="0.16" stop-color="#141c78" stop-opacity="0.7"/><stop offset="0.32" stop-color="#2a9fd3" stop-opacity="0.4"/><stop offset="0.48" stop-color="#8fd6bd" stop-opacity="0.32"/><stop offset="1" stop-color="#8fd6bd" stop-opacity="0.12"/></linearGradient><linearGradient id="c7_0" gradientUnits="userSpaceOnUse" x1="293.99" y1="132.89" x2="375.13" y2="95.92"><stop offset="0" stop-color="#141c78" stop-opacity="0.95"/><stop offset="0.16" stop-color="#141c78" stop-opacity="0.7"/><stop offset="0.32" stop-color="#2a9fd3" stop-opacity="0.4"/><stop offset="0.48" stop-color="#8fd6bd" stop-opacity="0.32"/><stop offset="1" stop-color="#8fd6bd" stop-opacity="0.12"/></linearGradient><linearGradient id="c7_1" gradientUnits="userSpaceOnUse" x1="294.82" y1="130.69" x2="391.46" y2="105.31"><stop offset="0" stop-color="#141c78" stop-opacity="0.95"/><stop offset="0.16" stop-color="#141c78" stop-opacity="0.7"/><stop offset="0.32" stop-color="#2a9fd3" stop-opacity="0.4"/><stop offset="0.48" stop-color="#8fd6bd" stop-opacity="0.32"/><stop offset="1" stop-color="#8fd6bd" stop-opacity="0.12"/></linearGradient><linearGradient id="c7_2" gradientUnits="userSpaceOnUse" x1="295.63" y1="128.78" x2="407.97" y2="125.45"><stop offset="0" stop-color="#141c78" stop-opacity="0.95"/><stop offset="0.16" stop-color="#141c78" stop-opacity="0.7"/><stop offset="0.32" stop-color="#2a9fd3" stop-opacity="0.4"/><stop offset="0.48" stop-color="#8fd6bd" stop-opacity="0.32"/><stop offset="1" stop-color="#8fd6bd" stop-opacity="0.12"/></linearGradient><linearGradient id="c7_3" gradientUnits="userSpaceOnUse" x1="295.83" y1="128.34" x2="414.74" y2="149.53"><stop offset="0" stop-color="#141c78" stop-opacity="0.95"/><stop offset="0.16" stop-color="#141c78" stop-opacity="0.7"/><stop offset="0.32" stop-color="#2a9fd3" stop-opacity="0.4"/><stop offset="0.48" stop-color="#8fd6bd" stop-opacity="0.32"/><stop offset="1" stop-color="#8fd6bd" stop-opacity="0.12"/></linearGradient><linearGradient id="c7_4" gradientUnits="userSpaceOnUse" x1="297.35" y1="125.22" x2="413.47" y2="167.26"><stop offset="0" stop-color="#141c78" stop-opacity="0.95"/><stop offset="0.16" stop-color="#141c78" stop-opacity="0.7"/><stop offset="0.32" stop-color="#2a9fd3" stop-opacity="0.4"/><stop offset="0.48" stop-color="#8fd6bd" stop-opacity="0.32"/><stop offset="1" stop-color="#8fd6bd" stop-opacity="0.12"/></linearGradient><linearGradient id="c7_5" gradientUnits="userSpaceOnUse" x1="298.88" y1="122.46" x2="404.19" y2="188.93"><stop offset="0" stop-color="#141c78" stop-opacity="0.95"/><stop offset="0.16" stop-color="#141c78" stop-opacity="0.7"/><stop offset="0.32" stop-color="#2a9fd3" stop-opacity="0.4"/><stop offset="0.48" stop-color="#8fd6bd" stop-opacity="0.32"/><stop offset="1" stop-color="#8fd6bd" stop-opacity="0.12"/></linearGradient><linearGradient id="c7_6" gradientUnits="userSpaceOnUse" x1="302.85" y1="116.5" x2="386.79" y2="206.08"><stop offset="0" stop-color="#141c78" stop-opacity="0.95"/><stop offset="0.16" stop-color="#141c78" stop-opacity="0.7"/><stop offset="0.32" stop-color="#2a9fd3" stop-opacity="0.4"/><stop offset="0.48" stop-color="#8fd6bd" stop-opacity="0.32"/><stop offset="1" stop-color="#8fd6bd" stop-opacity="0.12"/></linearGradient><linearGradient id="c7_7" gradientUnits="userSpaceOnUse" x1="307.69" y1="110.82" x2="372.58" y2="213.01"><stop offset="0" stop-color="#141c78" stop-opacity="0.95"/><stop offset="0.16" stop-color="#141c78" stop-opacity="0.7"/><stop offset="0.32" stop-color="#2a9fd3" stop-opacity="0.4"/><stop offset="0.48" stop-color="#8fd6bd" stop-opacity="0.32"/><stop offset="1" stop-color="#8fd6bd" stop-opacity="0.12"/></linearGradient><linearGradient id="c7_8" gradientUnits="userSpaceOnUse" x1="308.01" y1="110.49" x2="367.39" y2="214.52"><stop offset="0" stop-color="#141c78" stop-opacity="0.95"/><stop offset="0.16" stop-color="#141c78" stop-opacity="0.7"/><stop offset="0.32" stop-color="#2a9fd3" stop-opacity="0.4"/><stop offset="0.48" stop-color="#8fd6bd" stop-opacity="0.32"/><stop offset="1" stop-color="#8fd6bd" stop-opacity="0.12"/></linearGradient><linearGradient id="c7_9" gradientUnits="userSpaceOnUse" x1="308.1" y1="110.4" x2="364.15" y2="215.22"><stop offset="0" stop-color="#141c78" stop-opacity="0.95"/><stop offset="0.16" stop-color="#141c78" stop-opacity="0.7"/><stop offset="0.32" stop-color="#2a9fd3" stop-opacity="0.4"/><stop offset="0.48" stop-color="#8fd6bd" stop-opacity="0.32"/><stop offset="1" stop-color="#8fd6bd" stop-opacity="0.12"/></linearGradient><linearGradient id="c7_10" gradientUnits="userSpaceOnUse" x1="308.23" y1="110.27" x2="361.33" y2="215.68"><stop offset="0" stop-color="#141c78" stop-opacity="0.95"/><stop offset="0.16" stop-color="#141c78" stop-opacity="0.7"/><stop offset="0.32" stop-color="#2a9fd3" stop-opacity="0.4"/><stop offset="0.48" stop-color="#8fd6bd" stop-opacity="0.32"/><stop offset="1" stop-color="#8fd6bd" stop-opacity="0.12"/></linearGradient><linearGradient id="c7_11" gradientUnits="userSpaceOnUse" x1="308.33" y1="110.17" x2="358.7" y2="216"><stop offset="0" stop-color="#141c78" stop-opacity="0.95"/><stop offset="0.16" stop-color="#141c78" stop-opacity="0.7"/><stop offset="0.32" stop-color="#2a9fd3" stop-opacity="0.4"/><stop offset="0.48" stop-color="#8fd6bd" stop-opacity="0.32"/><stop offset="1" stop-color="#8fd6bd" stop-opacity="0.12"/></linearGradient><linearGradient id="c7_12" gradientUnits="userSpaceOnUse" x1="308.47" y1="110.02" x2="356.7" y2="216.17"><stop offset="0" stop-color="#141c78" stop-opacity="0.95"/><stop offset="0.16" stop-color="#141c78" stop-opacity="0.7"/><stop offset="0.32" stop-color="#2a9fd3" stop-opacity="0.4"/><stop offset="0.48" stop-color="#8fd6bd" stop-opacity="0.32"/><stop offset="1" stop-color="#8fd6bd" stop-opacity="0.12"/></linearGradient><linearGradient id="c8_0" gradientUnits="userSpaceOnUse" x1="309.38" y1="109.13" x2="375.68" y2="96.13"><stop offset="0" stop-color="#141c78" stop-opacity="0.95"/><stop offset="0.16" stop-color="#141c78" stop-opacity="0.7"/><stop offset="0.32" stop-color="#2a9fd3" stop-opacity="0.4"/><stop offset="0.48" stop-color="#8fd6bd" stop-opacity="0.32"/><stop offset="1" stop-color="#8fd6bd" stop-opacity="0.12"/></linearGradient><linearGradient id="c8_1" gradientUnits="userSpaceOnUse" x1="309.59" y1="108.93" x2="392.51" y2="106.16"><stop offset="0" stop-color="#141c78" stop-opacity="0.95"/><stop offset="0.16" stop-color="#141c78" stop-opacity="0.7"/><stop offset="0.32" stop-color="#2a9fd3" stop-opacity="0.4"/><stop offset="0.48" stop-color="#8fd6bd" stop-opacity="0.32"/><stop offset="1" stop-color="#8fd6bd" stop-opacity="0.12"/></linearGradient><linearGradient id="c8_2" gradientUnits="userSpaceOnUse" x1="310.91" y1="107.71" x2="409.23" y2="128.03"><stop offset="0" stop-color="#141c78" stop-opacity="0.95"/><stop offset="0.16" stop-color="#141c78" stop-opacity="0.7"/><stop offset="0.32" stop-color="#2a9fd3" stop-opacity="0.4"/><stop offset="0.48" stop-color="#8fd6bd" stop-opacity="0.32"/><stop offset="1" stop-color="#8fd6bd" stop-opacity="0.12"/></linearGradient><linearGradient id="c8_3" gradientUnits="userSpaceOnUse" x1="312.33" y1="106.46" x2="414.8" y2="150.47"><stop offset="0" stop-color="#141c78" stop-opacity="0.95"/><stop offset="0.16" stop-color="#141c78" stop-opacity="0.7"/><stop offset="0.32" stop-color="#2a9fd3" stop-opacity="0.4"/><stop offset="0.48" stop-color="#8fd6bd" stop-opacity="0.32"/><stop offset="1" stop-color="#8fd6bd" stop-opacity="0.12"/></linearGradient><linearGradient id="c8_4" gradientUnits="userSpaceOnUse" x1="312.58" y1="106.25" x2="413" y2="169.27"><stop offset="0" stop-color="#141c78" stop-opacity="0.95"/><stop offset="0.16" stop-color="#141c78" stop-opacity="0.7"/><stop offset="0.32" stop-color="#2a9fd3" stop-opacity="0.4"/><stop offset="0.48" stop-color="#8fd6bd" stop-opacity="0.32"/><stop offset="1" stop-color="#8fd6bd" stop-opacity="0.12"/></linearGradient><linearGradient id="c8_5" gradientUnits="userSpaceOnUse" x1="313.44" y1="105.55" x2="403.51" y2="189.91"><stop offset="0" stop-color="#141c78" stop-opacity="0.95"/><stop offset="0.16" stop-color="#141c78" stop-opacity="0.7"/><stop offset="0.32" stop-color="#2a9fd3" stop-opacity="0.4"/><stop offset="0.48" stop-color="#8fd6bd" stop-opacity="0.32"/><stop offset="1" stop-color="#8fd6bd" stop-opacity="0.12"/></linearGradient><linearGradient id="c8_6" gradientUnits="userSpaceOnUse" x1="316.2" y1="103.44" x2="382.22" y2="208.81"><stop offset="0" stop-color="#141c78" stop-opacity="0.95"/><stop offset="0.16" stop-color="#141c78" stop-opacity="0.7"/><stop offset="0.32" stop-color="#2a9fd3" stop-opacity="0.4"/><stop offset="0.48" stop-color="#8fd6bd" stop-opacity="0.32"/><stop offset="1" stop-color="#8fd6bd" stop-opacity="0.12"/></linearGradient><linearGradient id="c8_7" gradientUnits="userSpaceOnUse" x1="318.25" y1="102.02" x2="371.79" y2="213.27"><stop offset="0" stop-color="#141c78" stop-opacity="0.95"/><stop offset="0.16" stop-color="#141c78" stop-opacity="0.7"/><stop offset="0.32" stop-color="#2a9fd3" stop-opacity="0.4"/><stop offset="0.48" stop-color="#8fd6bd" stop-opacity="0.32"/><stop offset="1" stop-color="#8fd6bd" stop-opacity="0.12"/></linearGradient><linearGradient id="c8_8" gradientUnits="userSpaceOnUse" x1="318.29" y1="102" x2="367.32" y2="214.54"><stop offset="0" stop-color="#141c78" stop-opacity="0.95"/><stop offset="0.16" stop-color="#141c78" stop-opacity="0.7"/><stop offset="0.32" stop-color="#2a9fd3" stop-opacity="0.4"/><stop offset="0.48" stop-color="#8fd6bd" stop-opacity="0.32"/><stop offset="1" stop-color="#8fd6bd" stop-opacity="0.12"/></linearGradient><linearGradient id="c8_9" gradientUnits="userSpaceOnUse" x1="318.31" y1="101.98" x2="364.03" y2="215.24"><stop offset="0" stop-color="#141c78" stop-opacity="0.95"/><stop offset="0.16" stop-color="#141c78" stop-opacity="0.7"/><stop offset="0.32" stop-color="#2a9fd3" stop-opacity="0.4"/><stop offset="0.48" stop-color="#8fd6bd" stop-opacity="0.32"/><stop offset="1" stop-color="#8fd6bd" stop-opacity="0.12"/></linearGradient><linearGradient id="c8_10" gradientUnits="userSpaceOnUse" x1="318.34" y1="101.97" x2="361.17" y2="215.71"><stop offset="0" stop-color="#141c78" stop-opacity="0.95"/><stop offset="0.16" stop-color="#141c78" stop-opacity="0.7"/><stop offset="0.32" stop-color="#2a9fd3" stop-opacity="0.4"/><stop offset="0.48" stop-color="#8fd6bd" stop-opacity="0.32"/><stop offset="1" stop-color="#8fd6bd" stop-opacity="0.12"/></linearGradient><linearGradient id="c8_11" gradientUnits="userSpaceOnUse" x1="318.36" y1="101.95" x2="358.6" y2="216.01"><stop offset="0" stop-color="#141c78" stop-opacity="0.95"/><stop offset="0.16" stop-color="#141c78" stop-opacity="0.7"/><stop offset="0.32" stop-color="#2a9fd3" stop-opacity="0.4"/><stop offset="0.48" stop-color="#8fd6bd" stop-opacity="0.32"/><stop offset="1" stop-color="#8fd6bd" stop-opacity="0.12"/></linearGradient><linearGradient id="c8_12" gradientUnits="userSpaceOnUse" x1="318.45" y1="101.89" x2="356.49" y2="216.18"><stop offset="0" stop-color="#141c78" stop-opacity="0.95"/><stop offset="0.16" stop-color="#141c78" stop-opacity="0.7"/><stop offset="0.32" stop-color="#2a9fd3" stop-opacity="0.4"/><stop offset="0.48" stop-color="#8fd6bd" stop-opacity="0.32"/><stop offset="1" stop-color="#8fd6bd" stop-opacity="0.12"/></linearGradient><linearGradient id="c9_0" gradientUnits="userSpaceOnUse" x1="319.51" y1="101.21" x2="376.02" y2="96.27"><stop offset="0" stop-color="#7a19a8" stop-opacity="0.95"/><stop offset="0.16" stop-color="#7a19a8" stop-opacity="0.7"/><stop offset="0.32" stop-color="#2a9fd3" stop-opacity="0.4"/><stop offset="0.48" stop-color="#8fd6bd" stop-opacity="0.32"/><stop offset="1" stop-color="#8fd6bd" stop-opacity="0.12"/></linearGradient><linearGradient id="c9_1" gradientUnits="userSpaceOnUse" x1="322.66" y1="99.36" x2="394" y2="107.45"><stop offset="0" stop-color="#7a19a8" stop-opacity="0.95"/><stop offset="0.16" stop-color="#7a19a8" stop-opacity="0.7"/><stop offset="0.32" stop-color="#2a9fd3" stop-opacity="0.4"/><stop offset="0.48" stop-color="#8fd6bd" stop-opacity="0.32"/><stop offset="1" stop-color="#8fd6bd" stop-opacity="0.12"/></linearGradient><linearGradient id="c9_2" gradientUnits="userSpaceOnUse" x1="325.88" y1="97.72" x2="410.4" y2="130.75"><stop offset="0" stop-color="#7a19a8" stop-opacity="0.95"/><stop offset="0.16" stop-color="#7a19a8" stop-opacity="0.7"/><stop offset="0.32" stop-color="#2a9fd3" stop-opacity="0.4"/><stop offset="0.48" stop-color="#8fd6bd" stop-opacity="0.32"/><stop offset="1" stop-color="#8fd6bd" stop-opacity="0.12"/></linearGradient><linearGradient id="c9_3" gradientUnits="userSpaceOnUse" x1="326.16" y1="97.59" x2="414.83" y2="151.02"><stop offset="0" stop-color="#7a19a8" stop-opacity="0.95"/><stop offset="0.16" stop-color="#7a19a8" stop-opacity="0.7"/><stop offset="0.32" stop-color="#2a9fd3" stop-opacity="0.4"/><stop offset="0.48" stop-color="#8fd6bd" stop-opacity="0.32"/><stop offset="1" stop-color="#8fd6bd" stop-opacity="0.12"/></linearGradient><linearGradient id="c9_4" gradientUnits="userSpaceOnUse" x1="327.87" y1="96.82" x2="412.74" y2="170.27"><stop offset="0" stop-color="#7a19a8" stop-opacity="0.95"/><stop offset="0.16" stop-color="#7a19a8" stop-opacity="0.7"/><stop offset="0.32" stop-color="#2a9fd3" stop-opacity="0.4"/><stop offset="0.48" stop-color="#8fd6bd" stop-opacity="0.32"/><stop offset="1" stop-color="#8fd6bd" stop-opacity="0.12"/></linearGradient><linearGradient id="c9_5" gradientUnits="userSpaceOnUse" x1="332.22" y1="95.13" x2="401.22" y2="192.95"><stop offset="0" stop-color="#7a19a8" stop-opacity="0.95"/><stop offset="0.16" stop-color="#7a19a8" stop-opacity="0.7"/><stop offset="0.32" stop-color="#2a9fd3" stop-opacity="0.4"/><stop offset="0.48" stop-color="#8fd6bd" stop-opacity="0.32"/><stop offset="1" stop-color="#8fd6bd" stop-opacity="0.12"/></linearGradient><linearGradient id="c9_6" gradientUnits="userSpaceOnUse" x1="337.33" y1="93.6" x2="379.98" y2="209.96"><stop offset="0" stop-color="#7a19a8" stop-opacity="0.95"/><stop offset="0.16" stop-color="#7a19a8" stop-opacity="0.7"/><stop offset="0.32" stop-color="#2a9fd3" stop-opacity="0.4"/><stop offset="0.48" stop-color="#8fd6bd" stop-opacity="0.32"/><stop offset="1" stop-color="#8fd6bd" stop-opacity="0.12"/></linearGradient><linearGradient id="c9_7" gradientUnits="userSpaceOnUse" x1="339.92" y1="93" x2="371.26" y2="213.44"><stop offset="0" stop-color="#7a19a8" stop-opacity="0.95"/><stop offset="0.16" stop-color="#7a19a8" stop-opacity="0.7"/><stop offset="0.32" stop-color="#2a9fd3" stop-opacity="0.4"/><stop offset="0.48" stop-color="#8fd6bd" stop-opacity="0.32"/><stop offset="1" stop-color="#8fd6bd" stop-opacity="0.12"/></linearGradient><linearGradient id="c9_8" gradientUnits="userSpaceOnUse" x1="340.27" y1="92.93" x2="367.22" y2="214.56"><stop offset="0" stop-color="#7a19a8" stop-opacity="0.95"/><stop offset="0.16" stop-color="#7a19a8" stop-opacity="0.7"/><stop offset="0.32" stop-color="#2a9fd3" stop-opacity="0.4"/><stop offset="0.48" stop-color="#8fd6bd" stop-opacity="0.32"/><stop offset="1" stop-color="#8fd6bd" stop-opacity="0.12"/></linearGradient><linearGradient id="c9_9" gradientUnits="userSpaceOnUse" x1="340.39" y1="92.91" x2="363.95" y2="215.26"><stop offset="0" stop-color="#7a19a8" stop-opacity="0.95"/><stop offset="0.16" stop-color="#7a19a8" stop-opacity="0.7"/><stop offset="0.32" stop-color="#2a9fd3" stop-opacity="0.4"/><stop offset="0.48" stop-color="#8fd6bd" stop-opacity="0.32"/><stop offset="1" stop-color="#8fd6bd" stop-opacity="0.12"/></linearGradient><linearGradient id="c9_10" gradientUnits="userSpaceOnUse" x1="340.54" y1="92.88" x2="361.04" y2="215.73"><stop offset="0" stop-color="#7a19a8" stop-opacity="0.95"/><stop offset="0.16" stop-color="#7a19a8" stop-opacity="0.7"/><stop offset="0.32" stop-color="#2a9fd3" stop-opacity="0.4"/><stop offset="0.48" stop-color="#8fd6bd" stop-opacity="0.32"/><stop offset="1" stop-color="#8fd6bd" stop-opacity="0.12"/></linearGradient><linearGradient id="c9_11" gradientUnits="userSpaceOnUse" x1="340.65" y1="92.86" x2="358.53" y2="216.02"><stop offset="0" stop-color="#7a19a8" stop-opacity="0.95"/><stop offset="0.16" stop-color="#7a19a8" stop-opacity="0.7"/><stop offset="0.32" stop-color="#2a9fd3" stop-opacity="0.4"/><stop offset="0.48" stop-color="#8fd6bd" stop-opacity="0.32"/><stop offset="1" stop-color="#8fd6bd" stop-opacity="0.12"/></linearGradient><linearGradient id="c9_12" gradientUnits="userSpaceOnUse" x1="340.72" y1="92.84" x2="356.38" y2="216.19"><stop offset="0" stop-color="#7a19a8" stop-opacity="0.95"/><stop offset="0.16" stop-color="#7a19a8" stop-opacity="0.7"/><stop offset="0.32" stop-color="#2a9fd3" stop-opacity="0.4"/><stop offset="0.48" stop-color="#8fd6bd" stop-opacity="0.32"/><stop offset="1" stop-color="#8fd6bd" stop-opacity="0.12"/></linearGradient><linearGradient id="c10_0" gradientUnits="userSpaceOnUse" x1="342.19" y1="92.58" x2="377" y2="96.68"><stop offset="0" stop-color="#7a19a8" stop-opacity="0.95"/><stop offset="0.16" stop-color="#7a19a8" stop-opacity="0.7"/><stop offset="0.32" stop-color="#2a9fd3" stop-opacity="0.4"/><stop offset="0.48" stop-color="#8fd6bd" stop-opacity="0.32"/><stop offset="1" stop-color="#8fd6bd" stop-opacity="0.12"/></linearGradient><linearGradient id="c10_1" gradientUnits="userSpaceOnUse" x1="342.8" y1="92.48" x2="395.5" y2="108.82"><stop offset="0" stop-color="#7a19a8" stop-opacity="0.95"/><stop offset="0.16" stop-color="#7a19a8" stop-opacity="0.7"/><stop offset="0.32" stop-color="#2a9fd3" stop-opacity="0.4"/><stop offset="0.48" stop-color="#8fd6bd" stop-opacity="0.32"/><stop offset="1" stop-color="#8fd6bd" stop-opacity="0.12"/></linearGradient><linearGradient id="c10_2" gradientUnits="userSpaceOnUse" x1="343.62" y1="92.35" x2="411.07" y2="132.5"><stop offset="0" stop-color="#7a19a8" stop-opacity="0.95"/><stop offset="0.16" stop-color="#7a19a8" stop-opacity="0.7"/><stop offset="0.32" stop-color="#2a9fd3" stop-opacity="0.4"/><stop offset="0.48" stop-color="#8fd6bd" stop-opacity="0.32"/><stop offset="1" stop-color="#8fd6bd" stop-opacity="0.12"/></linearGradient><linearGradient id="c10_3" gradientUnits="userSpaceOnUse" x1="344.58" y1="92.22" x2="414.86" y2="151.88"><stop offset="0" stop-color="#7a19a8" stop-opacity="0.95"/><stop offset="0.16" stop-color="#7a19a8" stop-opacity="0.7"/><stop offset="0.32" stop-color="#2a9fd3" stop-opacity="0.4"/><stop offset="0.48" stop-color="#8fd6bd" stop-opacity="0.32"/><stop offset="1" stop-color="#8fd6bd" stop-opacity="0.12"/></linearGradient><linearGradient id="c10_4" gradientUnits="userSpaceOnUse" x1="347.99" y1="91.87" x2="411.56" y2="174.12"><stop offset="0" stop-color="#7a19a8" stop-opacity="0.95"/><stop offset="0.16" stop-color="#7a19a8" stop-opacity="0.7"/><stop offset="0.32" stop-color="#2a9fd3" stop-opacity="0.4"/><stop offset="0.48" stop-color="#8fd6bd" stop-opacity="0.32"/><stop offset="1" stop-color="#8fd6bd" stop-opacity="0.12"/></linearGradient><linearGradient id="c10_5" gradientUnits="userSpaceOnUse" x1="351.36" y1="91.71" x2="399.2" y2="195.34"><stop offset="0" stop-color="#7a19a8" stop-opacity="0.95"/><stop offset="0.16" stop-color="#7a19a8" stop-opacity="0.7"/><stop offset="0.32" stop-color="#2a9fd3" stop-opacity="0.4"/><stop offset="0.48" stop-color="#8fd6bd" stop-opacity="0.32"/><stop offset="1" stop-color="#8fd6bd" stop-opacity="0.12"/></linearGradient><linearGradient id="c10_6" gradientUnits="userSpaceOnUse" x1="351.72" y1="91.71" x2="378.86" y2="210.5"><stop offset="0" stop-color="#7a19a8" stop-opacity="0.95"/><stop offset="0.16" stop-color="#7a19a8" stop-opacity="0.7"/><stop offset="0.32" stop-color="#2a9fd3" stop-opacity="0.4"/><stop offset="0.48" stop-color="#8fd6bd" stop-opacity="0.32"/><stop offset="1" stop-color="#8fd6bd" stop-opacity="0.12"/></linearGradient><linearGradient id="c10_7" gradientUnits="userSpaceOnUse" x1="351.86" y1="91.7" x2="370.73" y2="213.6"><stop offset="0" stop-color="#7a19a8" stop-opacity="0.95"/><stop offset="0.16" stop-color="#7a19a8" stop-opacity="0.7"/><stop offset="0.32" stop-color="#2a9fd3" stop-opacity="0.4"/><stop offset="0.48" stop-color="#8fd6bd" stop-opacity="0.32"/><stop offset="1" stop-color="#8fd6bd" stop-opacity="0.12"/></linearGradient><linearGradient id="c10_8" gradientUnits="userSpaceOnUse" x1="351.9" y1="91.7" x2="367.1" y2="214.59"><stop offset="0" stop-color="#7a19a8" stop-opacity="0.95"/><stop offset="0.16" stop-color="#7a19a8" stop-opacity="0.7"/><stop offset="0.32" stop-color="#2a9fd3" stop-opacity="0.4"/><stop offset="0.48" stop-color="#8fd6bd" stop-opacity="0.32"/><stop offset="1" stop-color="#8fd6bd" stop-opacity="0.12"/></linearGradient><linearGradient id="c10_9" gradientUnits="userSpaceOnUse" x1="351.96" y1="91.7" x2="363.8" y2="215.28"><stop offset="0" stop-color="#7a19a8" stop-opacity="0.95"/><stop offset="0.16" stop-color="#7a19a8" stop-opacity="0.7"/><stop offset="0.32" stop-color="#2a9fd3" stop-opacity="0.4"/><stop offset="0.48" stop-color="#8fd6bd" stop-opacity="0.32"/><stop offset="1" stop-color="#8fd6bd" stop-opacity="0.12"/></linearGradient><linearGradient id="c10_10" gradientUnits="userSpaceOnUse" x1="352.02" y1="91.7" x2="360.91" y2="215.74"><stop offset="0" stop-color="#7a19a8" stop-opacity="0.95"/><stop offset="0.16" stop-color="#7a19a8" stop-opacity="0.7"/><stop offset="0.32" stop-color="#2a9fd3" stop-opacity="0.4"/><stop offset="0.48" stop-color="#8fd6bd" stop-opacity="0.32"/><stop offset="1" stop-color="#8fd6bd" stop-opacity="0.12"/></linearGradient><linearGradient id="c10_11" gradientUnits="userSpaceOnUse" x1="352.04" y1="91.7" x2="358.44" y2="216.03"><stop offset="0" stop-color="#7a19a8" stop-opacity="0.95"/><stop offset="0.16" stop-color="#7a19a8" stop-opacity="0.7"/><stop offset="0.32" stop-color="#2a9fd3" stop-opacity="0.4"/><stop offset="0.48" stop-color="#8fd6bd" stop-opacity="0.32"/><stop offset="1" stop-color="#8fd6bd" stop-opacity="0.12"/></linearGradient><linearGradient id="c10_12" gradientUnits="userSpaceOnUse" x1="352.17" y1="91.7" x2="356.21" y2="216.2"><stop offset="0" stop-color="#7a19a8" stop-opacity="0.95"/><stop offset="0.16" stop-color="#7a19a8" stop-opacity="0.7"/><stop offset="0.32" stop-color="#2a9fd3" stop-opacity="0.4"/><stop offset="0.48" stop-color="#8fd6bd" stop-opacity="0.32"/><stop offset="1" stop-color="#8fd6bd" stop-opacity="0.12"/></linearGradient><linearGradient id="fc0_0" gradientUnits="userSpaceOnUse" x1="354.36" y1="216.28" x2="354.3" y2="91.72"><stop offset="0" stop-color="#7db9dd" stop-opacity="0.55"/><stop offset="0.3" stop-color="#9adcd2" stop-opacity="0.55"/><stop offset="0.5" stop-color="#b6e6d3" stop-opacity="0.62"/><stop offset="1" stop-color="#b3e5d1" stop-opacity="0.8"/></linearGradient><linearGradient id="fc0_1" gradientUnits="userSpaceOnUse" x1="352.51" y1="216.3" x2="380.84" y2="98.47"><stop offset="0" stop-color="#7db9dd" stop-opacity="0.55"/><stop offset="0.3" stop-color="#9adcd2" stop-opacity="0.55"/><stop offset="0.5" stop-color="#b6e6d3" stop-opacity="0.62"/><stop offset="1" stop-color="#b3e5d1" stop-opacity="0.8"/></linearGradient><linearGradient id="fc0_2" gradientUnits="userSpaceOnUse" x1="350.57" y1="216.27" x2="398.1" y2="111.45"><stop offset="0" stop-color="#7db9dd" stop-opacity="0.55"/><stop offset="0.3" stop-color="#9adcd2" stop-opacity="0.55"/><stop offset="0.5" stop-color="#b6e6d3" stop-opacity="0.62"/><stop offset="1" stop-color="#b3e5d1" stop-opacity="0.8"/></linearGradient><linearGradient id="fc0_3" gradientUnits="userSpaceOnUse" x1="349.57" y1="216.23" x2="412.58" y2="137.15"><stop offset="0" stop-color="#7db9dd" stop-opacity="0.55"/><stop offset="0.3" stop-color="#9adcd2" stop-opacity="0.55"/><stop offset="0.5" stop-color="#b6e6d3" stop-opacity="0.62"/><stop offset="1" stop-color="#b3e5d1" stop-opacity="0.8"/></linearGradient><linearGradient id="fc0_4" gradientUnits="userSpaceOnUse" x1="349.03" y1="216.2" x2="414.88" y2="155.54"><stop offset="0" stop-color="#7db9dd" stop-opacity="0.55"/><stop offset="0.3" stop-color="#9adcd2" stop-opacity="0.55"/><stop offset="0.5" stop-color="#b6e6d3" stop-opacity="0.62"/><stop offset="1" stop-color="#b3e5d1" stop-opacity="0.8"/></linearGradient><linearGradient id="fc0_5" gradientUnits="userSpaceOnUse" x1="348.35" y1="216.16" x2="409.24" y2="179.94"><stop offset="0" stop-color="#7db9dd" stop-opacity="0.55"/><stop offset="0.3" stop-color="#9adcd2" stop-opacity="0.55"/><stop offset="0.5" stop-color="#b6e6d3" stop-opacity="0.62"/><stop offset="1" stop-color="#b3e5d1" stop-opacity="0.8"/></linearGradient><linearGradient id="fc0_6" gradientUnits="userSpaceOnUse" x1="344.36" y1="215.75" x2="396.14" y2="198.56"><stop offset="0" stop-color="#7db9dd" stop-opacity="0.55"/><stop offset="0.3" stop-color="#9adcd2" stop-opacity="0.55"/><stop offset="0.5" stop-color="#b6e6d3" stop-opacity="0.62"/><stop offset="1" stop-color="#b3e5d1" stop-opacity="0.8"/></linearGradient><linearGradient id="fc0_7" gradientUnits="userSpaceOnUse" x1="340.52" y1="215.12" x2="375.76" y2="211.84"><stop offset="0" stop-color="#7db9dd" stop-opacity="0.55"/><stop offset="0.3" stop-color="#9adcd2" stop-opacity="0.55"/><stop offset="0.5" stop-color="#b6e6d3" stop-opacity="0.62"/><stop offset="1" stop-color="#b3e5d1" stop-opacity="0.8"/></linearGradient><linearGradient id="fc0_8" gradientUnits="userSpaceOnUse" x1="339.98" y1="215.01" x2="368.27" y2="214.3"><stop offset="0" stop-color="#7db9dd" stop-opacity="0.55"/><stop offset="0.3" stop-color="#9adcd2" stop-opacity="0.55"/><stop offset="0.5" stop-color="#b6e6d3" stop-opacity="0.62"/><stop offset="1" stop-color="#b3e5d1" stop-opacity="0.8"/></linearGradient><linearGradient id="fc0_9" gradientUnits="userSpaceOnUse" x1="339.69" y1="214.95" x2="365.31" y2="214.99"><stop offset="0" stop-color="#7db9dd" stop-opacity="0.55"/><stop offset="0.3" stop-color="#9adcd2" stop-opacity="0.55"/><stop offset="0.5" stop-color="#b6e6d3" stop-opacity="0.62"/><stop offset="1" stop-color="#b3e5d1" stop-opacity="0.8"/></linearGradient><linearGradient id="fc0_10" gradientUnits="userSpaceOnUse" x1="339.55" y1="214.92" x2="362.01" y2="215.58"><stop offset="0" stop-color="#7db9dd" stop-opacity="0.55"/><stop offset="0.3" stop-color="#9adcd2" stop-opacity="0.55"/><stop offset="0.5" stop-color="#b6e6d3" stop-opacity="0.62"/><stop offset="1" stop-color="#b3e5d1" stop-opacity="0.8"/></linearGradient><linearGradient id="fc0_11" gradientUnits="userSpaceOnUse" x1="339.43" y1="214.89" x2="359.45" y2="215.92"><stop offset="0" stop-color="#7db9dd" stop-opacity="0.55"/><stop offset="0.3" stop-color="#9adcd2" stop-opacity="0.55"/><stop offset="0.5" stop-color="#b6e6d3" stop-opacity="0.62"/><stop offset="1" stop-color="#b3e5d1" stop-opacity="0.8"/></linearGradient><linearGradient id="fc0_12" gradientUnits="userSpaceOnUse" x1="339.38" y1="214.88" x2="357.05" y2="216.14"><stop offset="0" stop-color="#7db9dd" stop-opacity="0.55"/><stop offset="0.3" stop-color="#9adcd2" stop-opacity="0.55"/><stop offset="0.5" stop-color="#b6e6d3" stop-opacity="0.62"/><stop offset="1" stop-color="#b3e5d1" stop-opacity="0.8"/></linearGradient><linearGradient id="fc1_0" gradientUnits="userSpaceOnUse" x1="335.47" y1="213.9" x2="356.61" y2="91.83"><stop offset="0" stop-color="#7db9dd" stop-opacity="0.55"/><stop offset="0.3" stop-color="#9adcd2" stop-opacity="0.55"/><stop offset="0.5" stop-color="#b6e6d3" stop-opacity="0.62"/><stop offset="1" stop-color="#b3e5d1" stop-opacity="0.8"/></linearGradient><linearGradient id="fc1_1" gradientUnits="userSpaceOnUse" x1="331.22" y1="212.52" x2="381.64" y2="98.88"><stop offset="0" stop-color="#7db9dd" stop-opacity="0.55"/><stop offset="0.3" stop-color="#9adcd2" stop-opacity="0.55"/><stop offset="0.5" stop-color="#b6e6d3" stop-opacity="0.62"/><stop offset="1" stop-color="#b3e5d1" stop-opacity="0.8"/></linearGradient><linearGradient id="fc1_2" gradientUnits="userSpaceOnUse" x1="328.01" y1="211.24" x2="399.67" y2="113.18"><stop offset="0" stop-color="#7db9dd" stop-opacity="0.55"/><stop offset="0.3" stop-color="#9adcd2" stop-opacity="0.55"/><stop offset="0.5" stop-color="#b6e6d3" stop-opacity="0.62"/><stop offset="1" stop-color="#b3e5d1" stop-opacity="0.8"/></linearGradient><linearGradient id="fc1_3" gradientUnits="userSpaceOnUse" x1="326.09" y1="210.38" x2="412.66" y2="137.46"><stop offset="0" stop-color="#7db9dd" stop-opacity="0.55"/><stop offset="0.3" stop-color="#9adcd2" stop-opacity="0.55"/><stop offset="0.5" stop-color="#b6e6d3" stop-opacity="0.62"/><stop offset="1" stop-color="#b3e5d1" stop-opacity="0.8"/></linearGradient><linearGradient id="fc1_4" gradientUnits="userSpaceOnUse" x1="325.98" y1="210.33" x2="414.88" y2="155.64"><stop offset="0" stop-color="#7db9dd" stop-opacity="0.55"/><stop offset="0.3" stop-color="#9adcd2" stop-opacity="0.55"/><stop offset="0.5" stop-color="#b6e6d3" stop-opacity="0.62"/><stop offset="1" stop-color="#b3e5d1" stop-opacity="0.8"/></linearGradient><linearGradient id="fc1_5" gradientUnits="userSpaceOnUse" x1="325.73" y1="210.21" x2="409.08" y2="180.3"><stop offset="0" stop-color="#7db9dd" stop-opacity="0.55"/><stop offset="0.3" stop-color="#9adcd2" stop-opacity="0.55"/><stop offset="0.5" stop-color="#b6e6d3" stop-opacity="0.62"/><stop offset="1" stop-color="#b3e5d1" stop-opacity="0.8"/></linearGradient><linearGradient id="fc1_6" gradientUnits="userSpaceOnUse" x1="325.15" y1="209.93" x2="395.25" y2="199.41"><stop offset="0" stop-color="#7db9dd" stop-opacity="0.55"/><stop offset="0.3" stop-color="#9adcd2" stop-opacity="0.55"/><stop offset="0.5" stop-color="#b6e6d3" stop-opacity="0.62"/><stop offset="1" stop-color="#b3e5d1" stop-opacity="0.8"/></linearGradient><linearGradient id="fc1_7" gradientUnits="userSpaceOnUse" x1="324.47" y1="209.59" x2="375.14" y2="212.08"><stop offset="0" stop-color="#7db9dd" stop-opacity="0.55"/><stop offset="0.3" stop-color="#9adcd2" stop-opacity="0.55"/><stop offset="0.5" stop-color="#b6e6d3" stop-opacity="0.62"/><stop offset="1" stop-color="#b3e5d1" stop-opacity="0.8"/></linearGradient><linearGradient id="fc1_8" gradientUnits="userSpaceOnUse" x1="324.13" y1="209.41" x2="368.02" y2="214.36"><stop offset="0" stop-color="#7db9dd" stop-opacity="0.55"/><stop offset="0.3" stop-color="#9adcd2" stop-opacity="0.55"/><stop offset="0.5" stop-color="#b6e6d3" stop-opacity="0.62"/><stop offset="1" stop-color="#b3e5d1" stop-opacity="0.8"/></linearGradient><linearGradient id="fc1_9" gradientUnits="userSpaceOnUse" x1="323.97" y1="209.33" x2="365.19" y2="215.01"><stop offset="0" stop-color="#7db9dd" stop-opacity="0.55"/><stop offset="0.3" stop-color="#9adcd2" stop-opacity="0.55"/><stop offset="0.5" stop-color="#b6e6d3" stop-opacity="0.62"/><stop offset="1" stop-color="#b3e5d1" stop-opacity="0.8"/></linearGradient><linearGradient id="fc1_10" gradientUnits="userSpaceOnUse" x1="323.83" y1="209.26" x2="361.94" y2="215.6"><stop offset="0" stop-color="#7db9dd" stop-opacity="0.55"/><stop offset="0.3" stop-color="#9adcd2" stop-opacity="0.55"/><stop offset="0.5" stop-color="#b6e6d3" stop-opacity="0.62"/><stop offset="1" stop-color="#b3e5d1" stop-opacity="0.8"/></linearGradient><linearGradient id="fc1_11" gradientUnits="userSpaceOnUse" x1="323.76" y1="209.22" x2="359.34" y2="215.93"><stop offset="0" stop-color="#7db9dd" stop-opacity="0.55"/><stop offset="0.3" stop-color="#9adcd2" stop-opacity="0.55"/><stop offset="0.5" stop-color="#b6e6d3" stop-opacity="0.62"/><stop offset="1" stop-color="#b3e5d1" stop-opacity="0.8"/></linearGradient><linearGradient id="fc1_12" gradientUnits="userSpaceOnUse" x1="323.65" y1="209.16" x2="357.02" y2="216.14"><stop offset="0" stop-color="#7db9dd" stop-opacity="0.55"/><stop offset="0.3" stop-color="#9adcd2" stop-opacity="0.55"/><stop offset="0.5" stop-color="#b6e6d3" stop-opacity="0.62"/><stop offset="1" stop-color="#b3e5d1" stop-opacity="0.8"/></linearGradient><linearGradient id="fc2_0" gradientUnits="userSpaceOnUse" x1="322.52" y1="208.56" x2="358.8" y2="92.01"><stop offset="0" stop-color="#1388c3" stop-opacity="0.55"/><stop offset="0.3" stop-color="#9adcd2" stop-opacity="0.55"/><stop offset="0.5" stop-color="#b6e6d3" stop-opacity="0.62"/><stop offset="1" stop-color="#b3e5d1" stop-opacity="0.8"/></linearGradient><linearGradient id="fc2_1" gradientUnits="userSpaceOnUse" x1="317.98" y1="205.8" x2="384.68" y2="100.6"><stop offset="0" stop-color="#1388c3" stop-opacity="0.55"/><stop offset="0.3" stop-color="#9adcd2" stop-opacity="0.55"/><stop offset="0.5" stop-color="#b6e6d3" stop-opacity="0.62"/><stop offset="1" stop-color="#b3e5d1" stop-opacity="0.8"/></linearGradient><linearGradient id="fc2_2" gradientUnits="userSpaceOnUse" x1="312.75" y1="201.89" x2="402.22" y2="116.33"><stop offset="0" stop-color="#1388c3" stop-opacity="0.55"/><stop offset="0.3" stop-color="#9adcd2" stop-opacity="0.55"/><stop offset="0.5" stop-color="#b6e6d3" stop-opacity="0.62"/><stop offset="1" stop-color="#b3e5d1" stop-opacity="0.8"/></linearGradient><linearGradient id="fc2_3" gradientUnits="userSpaceOnUse" x1="310.09" y1="199.55" x2="413.38" y2="140.34"><stop offset="0" stop-color="#1388c3" stop-opacity="0.55"/><stop offset="0.3" stop-color="#9adcd2" stop-opacity="0.55"/><stop offset="0.5" stop-color="#b6e6d3" stop-opacity="0.62"/><stop offset="1" stop-color="#b3e5d1" stop-opacity="0.8"/></linearGradient><linearGradient id="fc2_4" gradientUnits="userSpaceOnUse" x1="308.43" y1="197.93" x2="414.87" y2="155.81"><stop offset="0" stop-color="#1388c3" stop-opacity="0.55"/><stop offset="0.3" stop-color="#9adcd2" stop-opacity="0.55"/><stop offset="0.5" stop-color="#b6e6d3" stop-opacity="0.62"/><stop offset="1" stop-color="#b3e5d1" stop-opacity="0.8"/></linearGradient><linearGradient id="fc2_5" gradientUnits="userSpaceOnUse" x1="308.15" y1="197.65" x2="408.96" y2="180.55"><stop offset="0" stop-color="#1388c3" stop-opacity="0.55"/><stop offset="0.3" stop-color="#9adcd2" stop-opacity="0.55"/><stop offset="0.5" stop-color="#b6e6d3" stop-opacity="0.62"/><stop offset="1" stop-color="#b3e5d1" stop-opacity="0.8"/></linearGradient><linearGradient id="fc2_6" gradientUnits="userSpaceOnUse" x1="307.8" y1="197.29" x2="395.03" y2="199.62"><stop offset="0" stop-color="#1388c3" stop-opacity="0.55"/><stop offset="0.3" stop-color="#9adcd2" stop-opacity="0.55"/><stop offset="0.5" stop-color="#b6e6d3" stop-opacity="0.62"/><stop offset="1" stop-color="#b3e5d1" stop-opacity="0.8"/></linearGradient><linearGradient id="fc2_7" gradientUnits="userSpaceOnUse" x1="307.48" y1="196.96" x2="374.66" y2="212.26"><stop offset="0" stop-color="#1388c3" stop-opacity="0.55"/><stop offset="0.3" stop-color="#9adcd2" stop-opacity="0.55"/><stop offset="0.5" stop-color="#b6e6d3" stop-opacity="0.62"/><stop offset="1" stop-color="#b3e5d1" stop-opacity="0.8"/></linearGradient><linearGradient id="fc2_8" gradientUnits="userSpaceOnUse" x1="307.33" y1="196.81" x2="367.82" y2="214.41"><stop offset="0" stop-color="#1388c3" stop-opacity="0.55"/><stop offset="0.3" stop-color="#9adcd2" stop-opacity="0.55"/><stop offset="0.5" stop-color="#b6e6d3" stop-opacity="0.62"/><stop offset="1" stop-color="#b3e5d1" stop-opacity="0.8"/></linearGradient><linearGradient id="fc2_9" gradientUnits="userSpaceOnUse" x1="307.23" y1="196.7" x2="365.06" y2="215.04"><stop offset="0" stop-color="#1388c3" stop-opacity="0.55"/><stop offset="0.3" stop-color="#9adcd2" stop-opacity="0.55"/><stop offset="0.5" stop-color="#b6e6d3" stop-opacity="0.62"/><stop offset="1" stop-color="#b3e5d1" stop-opacity="0.8"/></linearGradient><linearGradient id="fc2_10" gradientUnits="userSpaceOnUse" x1="307.18" y1="196.65" x2="361.91" y2="215.6"><stop offset="0" stop-color="#1388c3" stop-opacity="0.55"/><stop offset="0.3" stop-color="#9adcd2" stop-opacity="0.55"/><stop offset="0.5" stop-color="#b6e6d3" stop-opacity="0.62"/><stop offset="1" stop-color="#b3e5d1" stop-opacity="0.8"/></linearGradient><linearGradient id="fc2_11" gradientUnits="userSpaceOnUse" x1="307.17" y1="196.63" x2="359.26" y2="215.94"><stop offset="0" stop-color="#1388c3" stop-opacity="0.55"/><stop offset="0.3" stop-color="#9adcd2" stop-opacity="0.55"/><stop offset="0.5" stop-color="#b6e6d3" stop-opacity="0.62"/><stop offset="1" stop-color="#b3e5d1" stop-opacity="0.8"/></linearGradient><linearGradient id="fc2_12" gradientUnits="userSpaceOnUse" x1="307.16" y1="196.62" x2="356.99" y2="216.15"><stop offset="0" stop-color="#1388c3" stop-opacity="0.55"/><stop offset="0.3" stop-color="#9adcd2" stop-opacity="0.55"/><stop offset="0.5" stop-color="#b6e6d3" stop-opacity="0.62"/><stop offset="1" stop-color="#b3e5d1" stop-opacity="0.8"/></linearGradient><linearGradient id="fc3_0" gradientUnits="userSpaceOnUse" x1="304.06" y1="193.06" x2="363.2" y2="92.61"><stop offset="0" stop-color="#1388c3" stop-opacity="0.55"/><stop offset="0.3" stop-color="#9adcd2" stop-opacity="0.55"/><stop offset="0.5" stop-color="#b6e6d3" stop-opacity="0.62"/><stop offset="1" stop-color="#b3e5d1" stop-opacity="0.8"/></linearGradient><linearGradient id="fc3_1" gradientUnits="userSpaceOnUse" x1="301.72" y1="189.96" x2="387.33" y2="102.28"><stop offset="0" stop-color="#1388c3" stop-opacity="0.55"/><stop offset="0.3" stop-color="#9adcd2" stop-opacity="0.55"/><stop offset="0.5" stop-color="#b6e6d3" stop-opacity="0.62"/><stop offset="1" stop-color="#b3e5d1" stop-opacity="0.8"/></linearGradient><linearGradient id="fc3_2" gradientUnits="userSpaceOnUse" x1="301.03" y1="188.96" x2="404.48" y2="119.51"><stop offset="0" stop-color="#1388c3" stop-opacity="0.55"/><stop offset="0.3" stop-color="#9adcd2" stop-opacity="0.55"/><stop offset="0.5" stop-color="#b6e6d3" stop-opacity="0.62"/><stop offset="1" stop-color="#b3e5d1" stop-opacity="0.8"/></linearGradient><linearGradient id="fc3_3" gradientUnits="userSpaceOnUse" x1="300.02" y1="187.42" x2="414.13" y2="144.24"><stop offset="0" stop-color="#1388c3" stop-opacity="0.55"/><stop offset="0.3" stop-color="#9adcd2" stop-opacity="0.55"/><stop offset="0.5" stop-color="#b6e6d3" stop-opacity="0.62"/><stop offset="1" stop-color="#b3e5d1" stop-opacity="0.8"/></linearGradient><linearGradient id="fc3_4" gradientUnits="userSpaceOnUse" x1="299.57" y1="186.69" x2="414.87" y2="155.99"><stop offset="0" stop-color="#1388c3" stop-opacity="0.55"/><stop offset="0.3" stop-color="#9adcd2" stop-opacity="0.55"/><stop offset="0.5" stop-color="#b6e6d3" stop-opacity="0.62"/><stop offset="1" stop-color="#b3e5d1" stop-opacity="0.8"/></linearGradient><linearGradient id="fc3_5" gradientUnits="userSpaceOnUse" x1="299.23" y1="186.15" x2="408.65" y2="181.19"><stop offset="0" stop-color="#1388c3" stop-opacity="0.55"/><stop offset="0.3" stop-color="#9adcd2" stop-opacity="0.55"/><stop offset="0.5" stop-color="#b6e6d3" stop-opacity="0.62"/><stop offset="1" stop-color="#b3e5d1" stop-opacity="0.8"/></linearGradient><linearGradient id="fc3_6" gradientUnits="userSpaceOnUse" x1="297.12" y1="182.34" x2="393.46" y2="201.03"><stop offset="0" stop-color="#1388c3" stop-opacity="0.55"/><stop offset="0.3" stop-color="#9adcd2" stop-opacity="0.55"/><stop offset="0.5" stop-color="#b6e6d3" stop-opacity="0.62"/><stop offset="1" stop-color="#b3e5d1" stop-opacity="0.8"/></linearGradient><linearGradient id="fc3_7" gradientUnits="userSpaceOnUse" x1="295.49" y1="178.9" x2="374.44" y2="212.35"><stop offset="0" stop-color="#1388c3" stop-opacity="0.55"/><stop offset="0.3" stop-color="#9adcd2" stop-opacity="0.55"/><stop offset="0.5" stop-color="#b6e6d3" stop-opacity="0.62"/><stop offset="1" stop-color="#b3e5d1" stop-opacity="0.8"/></linearGradient><linearGradient id="fc3_8" gradientUnits="userSpaceOnUse" x1="295.48" y1="178.86" x2="367.63" y2="214.46"><stop offset="0" stop-color="#1388c3" stop-opacity="0.55"/><stop offset="0.3" stop-color="#9adcd2" stop-opacity="0.55"/><stop offset="0.5" stop-color="#b6e6d3" stop-opacity="0.62"/><stop offset="1" stop-color="#b3e5d1" stop-opacity="0.8"/></linearGradient><linearGradient id="fc3_9" gradientUnits="userSpaceOnUse" x1="295.45" y1="178.8" x2="364.96" y2="215.06"><stop offset="0" stop-color="#1388c3" stop-opacity="0.55"/><stop offset="0.3" stop-color="#9adcd2" stop-opacity="0.55"/><stop offset="0.5" stop-color="#b6e6d3" stop-opacity="0.62"/><stop offset="1" stop-color="#b3e5d1" stop-opacity="0.8"/></linearGradient><linearGradient id="fc3_10" gradientUnits="userSpaceOnUse" x1="295.43" y1="178.76" x2="361.87" y2="215.61"><stop offset="0" stop-color="#1388c3" stop-opacity="0.55"/><stop offset="0.3" stop-color="#9adcd2" stop-opacity="0.55"/><stop offset="0.5" stop-color="#b6e6d3" stop-opacity="0.62"/><stop offset="1" stop-color="#b3e5d1" stop-opacity="0.8"/></linearGradient><linearGradient id="fc3_11" gradientUnits="userSpaceOnUse" x1="295.4" y1="178.69" x2="359.14" y2="215.96"><stop offset="0" stop-color="#1388c3" stop-opacity="0.55"/><stop offset="0.3" stop-color="#9adcd2" stop-opacity="0.55"/><stop offset="0.5" stop-color="#b6e6d3" stop-opacity="0.62"/><stop offset="1" stop-color="#b3e5d1" stop-opacity="0.8"/></linearGradient><linearGradient id="fc3_12" gradientUnits="userSpaceOnUse" x1="295.37" y1="178.61" x2="356.96" y2="216.15"><stop offset="0" stop-color="#1388c3" stop-opacity="0.55"/><stop offset="0.3" stop-color="#9adcd2" stop-opacity="0.55"/><stop offset="0.5" stop-color="#b6e6d3" stop-opacity="0.62"/><stop offset="1" stop-color="#b3e5d1" stop-opacity="0.8"/></linearGradient><linearGradient id="fc4_0" gradientUnits="userSpaceOnUse" x1="294.97" y1="177.67" x2="367.3" y2="93.46"><stop offset="0" stop-color="#1388c3" stop-opacity="0.55"/><stop offset="0.3" stop-color="#9adcd2" stop-opacity="0.55"/><stop offset="0.5" stop-color="#b6e6d3" stop-opacity="0.62"/><stop offset="1" stop-color="#b3e5d1" stop-opacity="0.8"/></linearGradient><linearGradient id="fc4_1" gradientUnits="userSpaceOnUse" x1="294.78" y1="177.2" x2="387.65" y2="102.5"><stop offset="0" stop-color="#1388c3" stop-opacity="0.55"/><stop offset="0.3" stop-color="#9adcd2" stop-opacity="0.55"/><stop offset="0.5" stop-color="#b6e6d3" stop-opacity="0.62"/><stop offset="1" stop-color="#b3e5d1" stop-opacity="0.8"/></linearGradient><linearGradient id="fc4_2" gradientUnits="userSpaceOnUse" x1="294.41" y1="176.25" x2="405.82" y2="121.62"><stop offset="0" stop-color="#1388c3" stop-opacity="0.55"/><stop offset="0.3" stop-color="#9adcd2" stop-opacity="0.55"/><stop offset="0.5" stop-color="#b6e6d3" stop-opacity="0.62"/><stop offset="1" stop-color="#b3e5d1" stop-opacity="0.8"/></linearGradient><linearGradient id="fc4_3" gradientUnits="userSpaceOnUse" x1="294.05" y1="175.28" x2="414.38" y2="145.97"><stop offset="0" stop-color="#1388c3" stop-opacity="0.55"/><stop offset="0.3" stop-color="#9adcd2" stop-opacity="0.55"/><stop offset="0.5" stop-color="#b6e6d3" stop-opacity="0.62"/><stop offset="1" stop-color="#b3e5d1" stop-opacity="0.8"/></linearGradient><linearGradient id="fc4_4" gradientUnits="userSpaceOnUse" x1="293.46" y1="173.58" x2="414.83" y2="156.91"><stop offset="0" stop-color="#1388c3" stop-opacity="0.55"/><stop offset="0.3" stop-color="#9adcd2" stop-opacity="0.55"/><stop offset="0.5" stop-color="#b6e6d3" stop-opacity="0.62"/><stop offset="1" stop-color="#b3e5d1" stop-opacity="0.8"/></linearGradient><linearGradient id="fc4_5" gradientUnits="userSpaceOnUse" x1="292.98" y1="172.07" x2="408.3" y2="181.92"><stop offset="0" stop-color="#1388c3" stop-opacity="0.55"/><stop offset="0.3" stop-color="#9adcd2" stop-opacity="0.55"/><stop offset="0.5" stop-color="#b6e6d3" stop-opacity="0.62"/><stop offset="1" stop-color="#b3e5d1" stop-opacity="0.8"/></linearGradient><linearGradient id="fc4_6" gradientUnits="userSpaceOnUse" x1="292.85" y1="171.63" x2="391.91" y2="202.34"><stop offset="0" stop-color="#1388c3" stop-opacity="0.55"/><stop offset="0.3" stop-color="#9adcd2" stop-opacity="0.55"/><stop offset="0.5" stop-color="#b6e6d3" stop-opacity="0.62"/><stop offset="1" stop-color="#b3e5d1" stop-opacity="0.8"/></linearGradient><linearGradient id="fc4_7" gradientUnits="userSpaceOnUse" x1="292.78" y1="171.42" x2="374.42" y2="212.36"><stop offset="0" stop-color="#1388c3" stop-opacity="0.55"/><stop offset="0.3" stop-color="#9adcd2" stop-opacity="0.55"/><stop offset="0.5" stop-color="#b6e6d3" stop-opacity="0.62"/><stop offset="1" stop-color="#b3e5d1" stop-opacity="0.8"/></linearGradient><linearGradient id="fc4_8" gradientUnits="userSpaceOnUse" x1="292.77" y1="171.38" x2="367.53" y2="214.48"><stop offset="0" stop-color="#1388c3" stop-opacity="0.55"/><stop offset="0.3" stop-color="#9adcd2" stop-opacity="0.55"/><stop offset="0.5" stop-color="#b6e6d3" stop-opacity="0.62"/><stop offset="1" stop-color="#b3e5d1" stop-opacity="0.8"/></linearGradient><linearGradient id="fc4_9" gradientUnits="userSpaceOnUse" x1="292.76" y1="171.35" x2="364.92" y2="215.07"><stop offset="0" stop-color="#1388c3" stop-opacity="0.55"/><stop offset="0.3" stop-color="#9adcd2" stop-opacity="0.55"/><stop offset="0.5" stop-color="#b6e6d3" stop-opacity="0.62"/><stop offset="1" stop-color="#b3e5d1" stop-opacity="0.8"/></linearGradient><linearGradient id="fc4_10" gradientUnits="userSpaceOnUse" x1="292.76" y1="171.34" x2="361.85" y2="215.61"><stop offset="0" stop-color="#1388c3" stop-opacity="0.55"/><stop offset="0.3" stop-color="#9adcd2" stop-opacity="0.55"/><stop offset="0.5" stop-color="#b6e6d3" stop-opacity="0.62"/><stop offset="1" stop-color="#b3e5d1" stop-opacity="0.8"/></linearGradient><linearGradient id="fc4_11" gradientUnits="userSpaceOnUse" x1="292.76" y1="171.33" x2="359.04" y2="215.97"><stop offset="0" stop-color="#1388c3" stop-opacity="0.55"/><stop offset="0.3" stop-color="#9adcd2" stop-opacity="0.55"/><stop offset="0.5" stop-color="#b6e6d3" stop-opacity="0.62"/><stop offset="1" stop-color="#b3e5d1" stop-opacity="0.8"/></linearGradient><linearGradient id="fc4_12" gradientUnits="userSpaceOnUse" x1="292.76" y1="171.33" x2="356.94" y2="216.15"><stop offset="0" stop-color="#1388c3" stop-opacity="0.55"/><stop offset="0.3" stop-color="#9adcd2" stop-opacity="0.55"/><stop offset="0.5" stop-color="#b6e6d3" stop-opacity="0.62"/><stop offset="1" stop-color="#b3e5d1" stop-opacity="0.8"/></linearGradient><linearGradient id="fc5_0" gradientUnits="userSpaceOnUse" x1="292.43" y1="170.16" x2="367.57" y2="93.53"><stop offset="0" stop-color="#74cfc6" stop-opacity="0.55"/><stop offset="0.3" stop-color="#9adcd2" stop-opacity="0.55"/><stop offset="0.5" stop-color="#b6e6d3" stop-opacity="0.62"/><stop offset="1" stop-color="#b3e5d1" stop-opacity="0.8"/></linearGradient><linearGradient id="fc5_1" gradientUnits="userSpaceOnUse" x1="291.83" y1="167.74" x2="388.9" y2="103.37"><stop offset="0" stop-color="#74cfc6" stop-opacity="0.55"/><stop offset="0.3" stop-color="#9adcd2" stop-opacity="0.55"/><stop offset="0.5" stop-color="#b6e6d3" stop-opacity="0.62"/><stop offset="1" stop-color="#b3e5d1" stop-opacity="0.8"/></linearGradient><linearGradient id="fc5_2" gradientUnits="userSpaceOnUse" x1="291.37" y1="165.49" x2="406.32" y2="122.45"><stop offset="0" stop-color="#74cfc6" stop-opacity="0.55"/><stop offset="0.3" stop-color="#9adcd2" stop-opacity="0.55"/><stop offset="0.5" stop-color="#b6e6d3" stop-opacity="0.62"/><stop offset="1" stop-color="#b3e5d1" stop-opacity="0.8"/></linearGradient><linearGradient id="fc5_3" gradientUnits="userSpaceOnUse" x1="291.36" y1="165.42" x2="414.47" y2="146.72"><stop offset="0" stop-color="#74cfc6" stop-opacity="0.55"/><stop offset="0.3" stop-color="#9adcd2" stop-opacity="0.55"/><stop offset="0.5" stop-color="#b6e6d3" stop-opacity="0.62"/><stop offset="1" stop-color="#b3e5d1" stop-opacity="0.8"/></linearGradient><linearGradient id="fc5_4" gradientUnits="userSpaceOnUse" x1="291.24" y1="164.77" x2="414.76" y2="158.14"><stop offset="0" stop-color="#74cfc6" stop-opacity="0.55"/><stop offset="0.3" stop-color="#9adcd2" stop-opacity="0.55"/><stop offset="0.5" stop-color="#b6e6d3" stop-opacity="0.62"/><stop offset="1" stop-color="#b3e5d1" stop-opacity="0.8"/></linearGradient><linearGradient id="fc5_5" gradientUnits="userSpaceOnUse" x1="290.73" y1="161.31" x2="406.93" y2="184.49"><stop offset="0" stop-color="#74cfc6" stop-opacity="0.55"/><stop offset="0.3" stop-color="#9adcd2" stop-opacity="0.55"/><stop offset="0.5" stop-color="#b6e6d3" stop-opacity="0.62"/><stop offset="1" stop-color="#b3e5d1" stop-opacity="0.8"/></linearGradient><linearGradient id="fc5_6" gradientUnits="userSpaceOnUse" x1="290.39" y1="157.43" x2="391.44" y2="202.71"><stop offset="0" stop-color="#74cfc6" stop-opacity="0.55"/><stop offset="0.3" stop-color="#9adcd2" stop-opacity="0.55"/><stop offset="0.5" stop-color="#b6e6d3" stop-opacity="0.62"/><stop offset="1" stop-color="#b3e5d1" stop-opacity="0.8"/></linearGradient><linearGradient id="fc5_7" gradientUnits="userSpaceOnUse" x1="290.35" y1="156.42" x2="374.39" y2="212.36"><stop offset="0" stop-color="#74cfc6" stop-opacity="0.55"/><stop offset="0.3" stop-color="#9adcd2" stop-opacity="0.55"/><stop offset="0.5" stop-color="#b6e6d3" stop-opacity="0.62"/><stop offset="1" stop-color="#b3e5d1" stop-opacity="0.8"/></linearGradient><linearGradient id="fc5_8" gradientUnits="userSpaceOnUse" x1="290.35" y1="156.41" x2="367.48" y2="214.5"><stop offset="0" stop-color="#74cfc6" stop-opacity="0.55"/><stop offset="0.3" stop-color="#9adcd2" stop-opacity="0.55"/><stop offset="0.5" stop-color="#b6e6d3" stop-opacity="0.62"/><stop offset="1" stop-color="#b3e5d1" stop-opacity="0.8"/></linearGradient><linearGradient id="fc5_9" gradientUnits="userSpaceOnUse" x1="290.34" y1="156.35" x2="364.86" y2="215.08"><stop offset="0" stop-color="#74cfc6" stop-opacity="0.55"/><stop offset="0.3" stop-color="#9adcd2" stop-opacity="0.55"/><stop offset="0.5" stop-color="#b6e6d3" stop-opacity="0.62"/><stop offset="1" stop-color="#b3e5d1" stop-opacity="0.8"/></linearGradient><linearGradient id="fc5_10" gradientUnits="userSpaceOnUse" x1="290.34" y1="156.29" x2="361.83" y2="215.61"><stop offset="0" stop-color="#74cfc6" stop-opacity="0.55"/><stop offset="0.3" stop-color="#9adcd2" stop-opacity="0.55"/><stop offset="0.5" stop-color="#b6e6d3" stop-opacity="0.62"/><stop offset="1" stop-color="#b3e5d1" stop-opacity="0.8"/></linearGradient><linearGradient id="fc5_11" gradientUnits="userSpaceOnUse" x1="290.34" y1="156.28" x2="359.02" y2="215.97"><stop offset="0" stop-color="#74cfc6" stop-opacity="0.55"/><stop offset="0.3" stop-color="#9adcd2" stop-opacity="0.55"/><stop offset="0.5" stop-color="#b6e6d3" stop-opacity="0.62"/><stop offset="1" stop-color="#b3e5d1" stop-opacity="0.8"/></linearGradient><linearGradient id="fc5_12" gradientUnits="userSpaceOnUse" x1="290.34" y1="156.2" x2="356.89" y2="216.15"><stop offset="0" stop-color="#74cfc6" stop-opacity="0.55"/><stop offset="0.3" stop-color="#9adcd2" stop-opacity="0.55"/><stop offset="0.5" stop-color="#b6e6d3" stop-opacity="0.62"/><stop offset="1" stop-color="#b3e5d1" stop-opacity="0.8"/></linearGradient><linearGradient id="fc6_0" gradientUnits="userSpaceOnUse" x1="290.31" y1="152.83" x2="371.31" y2="94.58"><stop offset="0" stop-color="#74cfc6" stop-opacity="0.55"/><stop offset="0.3" stop-color="#9adcd2" stop-opacity="0.55"/><stop offset="0.5" stop-color="#b6e6d3" stop-opacity="0.62"/><stop offset="1" stop-color="#b3e5d1" stop-opacity="0.8"/></linearGradient><linearGradient id="fc6_1" gradientUnits="userSpaceOnUse" x1="290.42" y1="150.06" x2="390.18" y2="104.31"><stop offset="0" stop-color="#74cfc6" stop-opacity="0.55"/><stop offset="0.3" stop-color="#9adcd2" stop-opacity="0.55"/><stop offset="0.5" stop-color="#b6e6d3" stop-opacity="0.62"/><stop offset="1" stop-color="#b3e5d1" stop-opacity="0.8"/></linearGradient><linearGradient id="fc6_2" gradientUnits="userSpaceOnUse" x1="290.52" y1="148.83" x2="407.15" y2="123.91"><stop offset="0" stop-color="#74cfc6" stop-opacity="0.55"/><stop offset="0.3" stop-color="#9adcd2" stop-opacity="0.55"/><stop offset="0.5" stop-color="#b6e6d3" stop-opacity="0.62"/><stop offset="1" stop-color="#b3e5d1" stop-opacity="0.8"/></linearGradient><linearGradient id="fc6_3" gradientUnits="userSpaceOnUse" x1="290.64" y1="147.48" x2="414.6" y2="147.85"><stop offset="0" stop-color="#74cfc6" stop-opacity="0.55"/><stop offset="0.3" stop-color="#9adcd2" stop-opacity="0.55"/><stop offset="0.5" stop-color="#b6e6d3" stop-opacity="0.62"/><stop offset="1" stop-color="#b3e5d1" stop-opacity="0.8"/></linearGradient><linearGradient id="fc6_4" gradientUnits="userSpaceOnUse" x1="291.31" y1="142.82" x2="414.4" y2="161.91"><stop offset="0" stop-color="#74cfc6" stop-opacity="0.55"/><stop offset="0.3" stop-color="#9adcd2" stop-opacity="0.55"/><stop offset="0.5" stop-color="#b6e6d3" stop-opacity="0.62"/><stop offset="1" stop-color="#b3e5d1" stop-opacity="0.8"/></linearGradient><linearGradient id="fc6_5" gradientUnits="userSpaceOnUse" x1="292.41" y1="137.91" x2="404.93" y2="187.81"><stop offset="0" stop-color="#74cfc6" stop-opacity="0.55"/><stop offset="0.3" stop-color="#9adcd2" stop-opacity="0.55"/><stop offset="0.5" stop-color="#b6e6d3" stop-opacity="0.62"/><stop offset="1" stop-color="#b3e5d1" stop-opacity="0.8"/></linearGradient><linearGradient id="fc6_6" gradientUnits="userSpaceOnUse" x1="292.92" y1="136.14" x2="390.54" y2="203.42"><stop offset="0" stop-color="#74cfc6" stop-opacity="0.55"/><stop offset="0.3" stop-color="#9adcd2" stop-opacity="0.55"/><stop offset="0.5" stop-color="#b6e6d3" stop-opacity="0.62"/><stop offset="1" stop-color="#b3e5d1" stop-opacity="0.8"/></linearGradient><linearGradient id="fc6_7" gradientUnits="userSpaceOnUse" x1="293.26" y1="135.02" x2="373.84" y2="212.57"><stop offset="0" stop-color="#74cfc6" stop-opacity="0.55"/><stop offset="0.3" stop-color="#9adcd2" stop-opacity="0.55"/><stop offset="0.5" stop-color="#b6e6d3" stop-opacity="0.62"/><stop offset="1" stop-color="#b3e5d1" stop-opacity="0.8"/></linearGradient><linearGradient id="fc6_8" gradientUnits="userSpaceOnUse" x1="293.34" y1="134.78" x2="367.47" y2="214.5"><stop offset="0" stop-color="#74cfc6" stop-opacity="0.55"/><stop offset="0.3" stop-color="#9adcd2" stop-opacity="0.55"/><stop offset="0.5" stop-color="#b6e6d3" stop-opacity="0.62"/><stop offset="1" stop-color="#b3e5d1" stop-opacity="0.8"/></linearGradient><linearGradient id="fc6_9" gradientUnits="userSpaceOnUse" x1="293.4" y1="134.58" x2="364.53" y2="215.15"><stop offset="0" stop-color="#74cfc6" stop-opacity="0.55"/><stop offset="0.3" stop-color="#9adcd2" stop-opacity="0.55"/><stop offset="0.5" stop-color="#b6e6d3" stop-opacity="0.62"/><stop offset="1" stop-color="#b3e5d1" stop-opacity="0.8"/></linearGradient><linearGradient id="fc6_10" gradientUnits="userSpaceOnUse" x1="293.49" y1="134.31" x2="361.65" y2="215.64"><stop offset="0" stop-color="#74cfc6" stop-opacity="0.55"/><stop offset="0.3" stop-color="#9adcd2" stop-opacity="0.55"/><stop offset="0.5" stop-color="#b6e6d3" stop-opacity="0.62"/><stop offset="1" stop-color="#b3e5d1" stop-opacity="0.8"/></linearGradient><linearGradient id="fc6_11" gradientUnits="userSpaceOnUse" x1="293.54" y1="134.18" x2="358.9" y2="215.98"><stop offset="0" stop-color="#74cfc6" stop-opacity="0.55"/><stop offset="0.3" stop-color="#9adcd2" stop-opacity="0.55"/><stop offset="0.5" stop-color="#b6e6d3" stop-opacity="0.62"/><stop offset="1" stop-color="#b3e5d1" stop-opacity="0.8"/></linearGradient><linearGradient id="fc6_12" gradientUnits="userSpaceOnUse" x1="293.55" y1="134.13" x2="356.83" y2="216.16"><stop offset="0" stop-color="#74cfc6" stop-opacity="0.55"/><stop offset="0.3" stop-color="#9adcd2" stop-opacity="0.55"/><stop offset="0.5" stop-color="#b6e6d3" stop-opacity="0.62"/><stop offset="1" stop-color="#b3e5d1" stop-opacity="0.8"/></linearGradient><linearGradient id="fc7_0" gradientUnits="userSpaceOnUse" x1="293.99" y1="132.89" x2="375.13" y2="95.92"><stop offset="0" stop-color="#74cfc6" stop-opacity="0.55"/><stop offset="0.3" stop-color="#9adcd2" stop-opacity="0.55"/><stop offset="0.5" stop-color="#b6e6d3" stop-opacity="0.62"/><stop offset="1" stop-color="#b3e5d1" stop-opacity="0.8"/></linearGradient><linearGradient id="fc7_1" gradientUnits="userSpaceOnUse" x1="294.82" y1="130.69" x2="391.46" y2="105.31"><stop offset="0" stop-color="#74cfc6" stop-opacity="0.55"/><stop offset="0.3" stop-color="#9adcd2" stop-opacity="0.55"/><stop offset="0.5" stop-color="#b6e6d3" stop-opacity="0.62"/><stop offset="1" stop-color="#b3e5d1" stop-opacity="0.8"/></linearGradient><linearGradient id="fc7_2" gradientUnits="userSpaceOnUse" x1="295.63" y1="128.78" x2="407.97" y2="125.45"><stop offset="0" stop-color="#74cfc6" stop-opacity="0.55"/><stop offset="0.3" stop-color="#9adcd2" stop-opacity="0.55"/><stop offset="0.5" stop-color="#b6e6d3" stop-opacity="0.62"/><stop offset="1" stop-color="#b3e5d1" stop-opacity="0.8"/></linearGradient><linearGradient id="fc7_3" gradientUnits="userSpaceOnUse" x1="295.83" y1="128.34" x2="414.74" y2="149.53"><stop offset="0" stop-color="#74cfc6" stop-opacity="0.55"/><stop offset="0.3" stop-color="#9adcd2" stop-opacity="0.55"/><stop offset="0.5" stop-color="#b6e6d3" stop-opacity="0.62"/><stop offset="1" stop-color="#b3e5d1" stop-opacity="0.8"/></linearGradient><linearGradient id="fc7_4" gradientUnits="userSpaceOnUse" x1="297.35" y1="125.22" x2="413.47" y2="167.26"><stop offset="0" stop-color="#74cfc6" stop-opacity="0.55"/><stop offset="0.3" stop-color="#9adcd2" stop-opacity="0.55"/><stop offset="0.5" stop-color="#b6e6d3" stop-opacity="0.62"/><stop offset="1" stop-color="#b3e5d1" stop-opacity="0.8"/></linearGradient><linearGradient id="fc7_5" gradientUnits="userSpaceOnUse" x1="298.88" y1="122.46" x2="404.19" y2="188.93"><stop offset="0" stop-color="#74cfc6" stop-opacity="0.55"/><stop offset="0.3" stop-color="#9adcd2" stop-opacity="0.55"/><stop offset="0.5" stop-color="#b6e6d3" stop-opacity="0.62"/><stop offset="1" stop-color="#b3e5d1" stop-opacity="0.8"/></linearGradient><linearGradient id="fc7_6" gradientUnits="userSpaceOnUse" x1="302.85" y1="116.5" x2="386.79" y2="206.08"><stop offset="0" stop-color="#74cfc6" stop-opacity="0.55"/><stop offset="0.3" stop-color="#9adcd2" stop-opacity="0.55"/><stop offset="0.5" stop-color="#b6e6d3" stop-opacity="0.62"/><stop offset="1" stop-color="#b3e5d1" stop-opacity="0.8"/></linearGradient><linearGradient id="fc7_7" gradientUnits="userSpaceOnUse" x1="307.69" y1="110.82" x2="372.58" y2="213.01"><stop offset="0" stop-color="#74cfc6" stop-opacity="0.55"/><stop offset="0.3" stop-color="#9adcd2" stop-opacity="0.55"/><stop offset="0.5" stop-color="#b6e6d3" stop-opacity="0.62"/><stop offset="1" stop-color="#b3e5d1" stop-opacity="0.8"/></linearGradient><linearGradient id="fc7_8" gradientUnits="userSpaceOnUse" x1="308.01" y1="110.49" x2="367.39" y2="214.52"><stop offset="0" stop-color="#74cfc6" stop-opacity="0.55"/><stop offset="0.3" stop-color="#9adcd2" stop-opacity="0.55"/><stop offset="0.5" stop-color="#b6e6d3" stop-opacity="0.62"/><stop offset="1" stop-color="#b3e5d1" stop-opacity="0.8"/></linearGradient><linearGradient id="fc7_9" gradientUnits="userSpaceOnUse" x1="308.1" y1="110.4" x2="364.15" y2="215.22"><stop offset="0" stop-color="#74cfc6" stop-opacity="0.55"/><stop offset="0.3" stop-color="#9adcd2" stop-opacity="0.55"/><stop offset="0.5" stop-color="#b6e6d3" stop-opacity="0.62"/><stop offset="1" stop-color="#b3e5d1" stop-opacity="0.8"/></linearGradient><linearGradient id="fc7_10" gradientUnits="userSpaceOnUse" x1="308.23" y1="110.27" x2="361.33" y2="215.68"><stop offset="0" stop-color="#74cfc6" stop-opacity="0.55"/><stop offset="0.3" stop-color="#9adcd2" stop-opacity="0.55"/><stop offset="0.5" stop-color="#b6e6d3" stop-opacity="0.62"/><stop offset="1" stop-color="#b3e5d1" stop-opacity="0.8"/></linearGradient><linearGradient id="fc7_11" gradientUnits="userSpaceOnUse" x1="308.33" y1="110.17" x2="358.7" y2="216"><stop offset="0" stop-color="#74cfc6" stop-opacity="0.55"/><stop offset="0.3" stop-color="#9adcd2" stop-opacity="0.55"/><stop offset="0.5" stop-color="#b6e6d3" stop-opacity="0.62"/><stop offset="1" stop-color="#b3e5d1" stop-opacity="0.8"/></linearGradient><linearGradient id="fc7_12" gradientUnits="userSpaceOnUse" x1="308.47" y1="110.02" x2="356.7" y2="216.17"><stop offset="0" stop-color="#74cfc6" stop-opacity="0.55"/><stop offset="0.3" stop-color="#9adcd2" stop-opacity="0.55"/><stop offset="0.5" stop-color="#b6e6d3" stop-opacity="0.62"/><stop offset="1" stop-color="#b3e5d1" stop-opacity="0.8"/></linearGradient><linearGradient id="fc8_0" gradientUnits="userSpaceOnUse" x1="309.38" y1="109.13" x2="375.68" y2="96.13"><stop offset="0" stop-color="#74cfc6" stop-opacity="0.55"/><stop offset="0.3" stop-color="#9adcd2" stop-opacity="0.55"/><stop offset="0.5" stop-color="#b6e6d3" stop-opacity="0.62"/><stop offset="1" stop-color="#b3e5d1" stop-opacity="0.8"/></linearGradient><linearGradient id="fc8_1" gradientUnits="userSpaceOnUse" x1="309.59" y1="108.93" x2="392.51" y2="106.16"><stop offset="0" stop-color="#74cfc6" stop-opacity="0.55"/><stop offset="0.3" stop-color="#9adcd2" stop-opacity="0.55"/><stop offset="0.5" stop-color="#b6e6d3" stop-opacity="0.62"/><stop offset="1" stop-color="#b3e5d1" stop-opacity="0.8"/></linearGradient><linearGradient id="fc8_2" gradientUnits="userSpaceOnUse" x1="310.91" y1="107.71" x2="409.23" y2="128.03"><stop offset="0" stop-color="#74cfc6" stop-opacity="0.55"/><stop offset="0.3" stop-color="#9adcd2" stop-opacity="0.55"/><stop offset="0.5" stop-color="#b6e6d3" stop-opacity="0.62"/><stop offset="1" stop-color="#b3e5d1" stop-opacity="0.8"/></linearGradient><linearGradient id="fc8_3" gradientUnits="userSpaceOnUse" x1="312.33" y1="106.46" x2="414.8" y2="150.47"><stop offset="0" stop-color="#74cfc6" stop-opacity="0.55"/><stop offset="0.3" stop-color="#9adcd2" stop-opacity="0.55"/><stop offset="0.5" stop-color="#b6e6d3" stop-opacity="0.62"/><stop offset="1" stop-color="#b3e5d1" stop-opacity="0.8"/></linearGradient><linearGradient id="fc8_4" gradientUnits="userSpaceOnUse" x1="312.58" y1="106.25" x2="413" y2="169.27"><stop offset="0" stop-color="#74cfc6" stop-opacity="0.55"/><stop offset="0.3" stop-color="#9adcd2" stop-opacity="0.55"/><stop offset="0.5" stop-color="#b6e6d3" stop-opacity="0.62"/><stop offset="1" stop-color="#b3e5d1" stop-opacity="0.8"/></linearGradient><linearGradient id="fc8_5" gradientUnits="userSpaceOnUse" x1="313.44" y1="105.55" x2="403.51" y2="189.91"><stop offset="0" stop-color="#74cfc6" stop-opacity="0.55"/><stop offset="0.3" stop-color="#9adcd2" stop-opacity="0.55"/><stop offset="0.5" stop-color="#b6e6d3" stop-opacity="0.62"/><stop offset="1" stop-color="#b3e5d1" stop-opacity="0.8"/></linearGradient><linearGradient id="fc8_6" gradientUnits="userSpaceOnUse" x1="316.2" y1="103.44" x2="382.22" y2="208.81"><stop offset="0" stop-color="#74cfc6" stop-opacity="0.55"/><stop offset="0.3" stop-color="#9adcd2" stop-opacity="0.55"/><stop offset="0.5" stop-color="#b6e6d3" stop-opacity="0.62"/><stop offset="1" stop-color="#b3e5d1" stop-opacity="0.8"/></linearGradient><linearGradient id="fc8_7" gradientUnits="userSpaceOnUse" x1="318.25" y1="102.02" x2="371.79" y2="213.27"><stop offset="0" stop-color="#74cfc6" stop-opacity="0.55"/><stop offset="0.3" stop-color="#9adcd2" stop-opacity="0.55"/><stop offset="0.5" stop-color="#b6e6d3" stop-opacity="0.62"/><stop offset="1" stop-color="#b3e5d1" stop-opacity="0.8"/></linearGradient><linearGradient id="fc8_8" gradientUnits="userSpaceOnUse" x1="318.29" y1="102" x2="367.32" y2="214.54"><stop offset="0" stop-color="#74cfc6" stop-opacity="0.55"/><stop offset="0.3" stop-color="#9adcd2" stop-opacity="0.55"/><stop offset="0.5" stop-color="#b6e6d3" stop-opacity="0.62"/><stop offset="1" stop-color="#b3e5d1" stop-opacity="0.8"/></linearGradient><linearGradient id="fc8_9" gradientUnits="userSpaceOnUse" x1="318.31" y1="101.98" x2="364.03" y2="215.24"><stop offset="0" stop-color="#74cfc6" stop-opacity="0.55"/><stop offset="0.3" stop-color="#9adcd2" stop-opacity="0.55"/><stop offset="0.5" stop-color="#b6e6d3" stop-opacity="0.62"/><stop offset="1" stop-color="#b3e5d1" stop-opacity="0.8"/></linearGradient><linearGradient id="fc8_10" gradientUnits="userSpaceOnUse" x1="318.34" y1="101.97" x2="361.17" y2="215.71"><stop offset="0" stop-color="#74cfc6" stop-opacity="0.55"/><stop offset="0.3" stop-color="#9adcd2" stop-opacity="0.55"/><stop offset="0.5" stop-color="#b6e6d3" stop-opacity="0.62"/><stop offset="1" stop-color="#b3e5d1" stop-opacity="0.8"/></linearGradient><linearGradient id="fc8_11" gradientUnits="userSpaceOnUse" x1="318.36" y1="101.95" x2="358.6" y2="216.01"><stop offset="0" stop-color="#74cfc6" stop-opacity="0.55"/><stop offset="0.3" stop-color="#9adcd2" stop-opacity="0.55"/><stop offset="0.5" stop-color="#b6e6d3" stop-opacity="0.62"/><stop offset="1" stop-color="#b3e5d1" stop-opacity="0.8"/></linearGradient><linearGradient id="fc8_12" gradientUnits="userSpaceOnUse" x1="318.45" y1="101.89" x2="356.49" y2="216.18"><stop offset="0" stop-color="#74cfc6" stop-opacity="0.55"/><stop offset="0.3" stop-color="#9adcd2" stop-opacity="0.55"/><stop offset="0.5" stop-color="#b6e6d3" stop-opacity="0.62"/><stop offset="1" stop-color="#b3e5d1" stop-opacity="0.8"/></linearGradient><linearGradient id="fc9_0" gradientUnits="userSpaceOnUse" x1="319.51" y1="101.21" x2="376.02" y2="96.27"><stop offset="0" stop-color="#74cfc6" stop-opacity="0.55"/><stop offset="0.3" stop-color="#9adcd2" stop-opacity="0.55"/><stop offset="0.5" stop-color="#b6e6d3" stop-opacity="0.62"/><stop offset="1" stop-color="#b3e5d1" stop-opacity="0.8"/></linearGradient><linearGradient id="fc9_1" gradientUnits="userSpaceOnUse" x1="322.66" y1="99.36" x2="394" y2="107.45"><stop offset="0" stop-color="#74cfc6" stop-opacity="0.55"/><stop offset="0.3" stop-color="#9adcd2" stop-opacity="0.55"/><stop offset="0.5" stop-color="#b6e6d3" stop-opacity="0.62"/><stop offset="1" stop-color="#b3e5d1" stop-opacity="0.8"/></linearGradient><linearGradient id="fc9_2" gradientUnits="userSpaceOnUse" x1="325.88" y1="97.72" x2="410.4" y2="130.75"><stop offset="0" stop-color="#74cfc6" stop-opacity="0.55"/><stop offset="0.3" stop-color="#9adcd2" stop-opacity="0.55"/><stop offset="0.5" stop-color="#b6e6d3" stop-opacity="0.62"/><stop offset="1" stop-color="#b3e5d1" stop-opacity="0.8"/></linearGradient><linearGradient id="fc9_3" gradientUnits="userSpaceOnUse" x1="326.16" y1="97.59" x2="414.83" y2="151.02"><stop offset="0" stop-color="#74cfc6" stop-opacity="0.55"/><stop offset="0.3" stop-color="#9adcd2" stop-opacity="0.55"/><stop offset="0.5" stop-color="#b6e6d3" stop-opacity="0.62"/><stop offset="1" stop-color="#b3e5d1" stop-opacity="0.8"/></linearGradient><linearGradient id="fc9_4" gradientUnits="userSpaceOnUse" x1="327.87" y1="96.82" x2="412.74" y2="170.27"><stop offset="0" stop-color="#74cfc6" stop-opacity="0.55"/><stop offset="0.3" stop-color="#9adcd2" stop-opacity="0.55"/><stop offset="0.5" stop-color="#b6e6d3" stop-opacity="0.62"/><stop offset="1" stop-color="#b3e5d1" stop-opacity="0.8"/></linearGradient><linearGradient id="fc9_5" gradientUnits="userSpaceOnUse" x1="332.22" y1="95.13" x2="401.22" y2="192.95"><stop offset="0" stop-color="#74cfc6" stop-opacity="0.55"/><stop offset="0.3" stop-color="#9adcd2" stop-opacity="0.55"/><stop offset="0.5" stop-color="#b6e6d3" stop-opacity="0.62"/><stop offset="1" stop-color="#b3e5d1" stop-opacity="0.8"/></linearGradient><linearGradient id="fc9_6" gradientUnits="userSpaceOnUse" x1="337.33" y1="93.6" x2="379.98" y2="209.96"><stop offset="0" stop-color="#74cfc6" stop-opacity="0.55"/><stop offset="0.3" stop-color="#9adcd2" stop-opacity="0.55"/><stop offset="0.5" stop-color="#b6e6d3" stop-opacity="0.62"/><stop offset="1" stop-color="#b3e5d1" stop-opacity="0.8"/></linearGradient><linearGradient id="fc9_7" gradientUnits="userSpaceOnUse" x1="339.92" y1="93" x2="371.26" y2="213.44"><stop offset="0" stop-color="#74cfc6" stop-opacity="0.55"/><stop offset="0.3" stop-color="#9adcd2" stop-opacity="0.55"/><stop offset="0.5" stop-color="#b6e6d3" stop-opacity="0.62"/><stop offset="1" stop-color="#b3e5d1" stop-opacity="0.8"/></linearGradient><linearGradient id="fc9_8" gradientUnits="userSpaceOnUse" x1="340.27" y1="92.93" x2="367.22" y2="214.56"><stop offset="0" stop-color="#74cfc6" stop-opacity="0.55"/><stop offset="0.3" stop-color="#9adcd2" stop-opacity="0.55"/><stop offset="0.5" stop-color="#b6e6d3" stop-opacity="0.62"/><stop offset="1" stop-color="#b3e5d1" stop-opacity="0.8"/></linearGradient><linearGradient id="fc9_9" gradientUnits="userSpaceOnUse" x1="340.39" y1="92.91" x2="363.95" y2="215.26"><stop offset="0" stop-color="#74cfc6" stop-opacity="0.55"/><stop offset="0.3" stop-color="#9adcd2" stop-opacity="0.55"/><stop offset="0.5" stop-color="#b6e6d3" stop-opacity="0.62"/><stop offset="1" stop-color="#b3e5d1" stop-opacity="0.8"/></linearGradient><linearGradient id="fc9_10" gradientUnits="userSpaceOnUse" x1="340.54" y1="92.88" x2="361.04" y2="215.73"><stop offset="0" stop-color="#74cfc6" stop-opacity="0.55"/><stop offset="0.3" stop-color="#9adcd2" stop-opacity="0.55"/><stop offset="0.5" stop-color="#b6e6d3" stop-opacity="0.62"/><stop offset="1" stop-color="#b3e5d1" stop-opacity="0.8"/></linearGradient><linearGradient id="fc9_11" gradientUnits="userSpaceOnUse" x1="340.65" y1="92.86" x2="358.53" y2="216.02"><stop offset="0" stop-color="#74cfc6" stop-opacity="0.55"/><stop offset="0.3" stop-color="#9adcd2" stop-opacity="0.55"/><stop offset="0.5" stop-color="#b6e6d3" stop-opacity="0.62"/><stop offset="1" stop-color="#b3e5d1" stop-opacity="0.8"/></linearGradient><linearGradient id="fc9_12" gradientUnits="userSpaceOnUse" x1="340.72" y1="92.84" x2="356.38" y2="216.19"><stop offset="0" stop-color="#74cfc6" stop-opacity="0.55"/><stop offset="0.3" stop-color="#9adcd2" stop-opacity="0.55"/><stop offset="0.5" stop-color="#b6e6d3" stop-opacity="0.62"/><stop offset="1" stop-color="#b3e5d1" stop-opacity="0.8"/></linearGradient><linearGradient id="fc10_0" gradientUnits="userSpaceOnUse" x1="342.19" y1="92.58" x2="377" y2="96.68"><stop offset="0" stop-color="#74cfc6" stop-opacity="0.55"/><stop offset="0.3" stop-color="#9adcd2" stop-opacity="0.55"/><stop offset="0.5" stop-color="#b6e6d3" stop-opacity="0.62"/><stop offset="1" stop-color="#b3e5d1" stop-opacity="0.8"/></linearGradient><linearGradient id="fc10_1" gradientUnits="userSpaceOnUse" x1="342.8" y1="92.48" x2="395.5" y2="108.82"><stop offset="0" stop-color="#74cfc6" stop-opacity="0.55"/><stop offset="0.3" stop-color="#9adcd2" stop-opacity="0.55"/><stop offset="0.5" stop-color="#b6e6d3" stop-opacity="0.62"/><stop offset="1" stop-color="#b3e5d1" stop-opacity="0.8"/></linearGradient><linearGradient id="fc10_2" gradientUnits="userSpaceOnUse" x1="343.62" y1="92.35" x2="411.07" y2="132.5"><stop offset="0" stop-color="#74cfc6" stop-opacity="0.55"/><stop offset="0.3" stop-color="#9adcd2" stop-opacity="0.55"/><stop offset="0.5" stop-color="#b6e6d3" stop-opacity="0.62"/><stop offset="1" stop-color="#b3e5d1" stop-opacity="0.8"/></linearGradient><linearGradient id="fc10_3" gradientUnits="userSpaceOnUse" x1="344.58" y1="92.22" x2="414.86" y2="151.88"><stop offset="0" stop-color="#74cfc6" stop-opacity="0.55"/><stop offset="0.3" stop-color="#9adcd2" stop-opacity="0.55"/><stop offset="0.5" stop-color="#b6e6d3" stop-opacity="0.62"/><stop offset="1" stop-color="#b3e5d1" stop-opacity="0.8"/></linearGradient><linearGradient id="fc10_4" gradientUnits="userSpaceOnUse" x1="347.99" y1="91.87" x2="411.56" y2="174.12"><stop offset="0" stop-color="#74cfc6" stop-opacity="0.55"/><stop offset="0.3" stop-color="#9adcd2" stop-opacity="0.55"/><stop offset="0.5" stop-color="#b6e6d3" stop-opacity="0.62"/><stop offset="1" stop-color="#b3e5d1" stop-opacity="0.8"/></linearGradient><linearGradient id="fc10_5" gradientUnits="userSpaceOnUse" x1="351.36" y1="91.71" x2="399.2" y2="195.34"><stop offset="0" stop-color="#74cfc6" stop-opacity="0.55"/><stop offset="0.3" stop-color="#9adcd2" stop-opacity="0.55"/><stop offset="0.5" stop-color="#b6e6d3" stop-opacity="0.62"/><stop offset="1" stop-color="#b3e5d1" stop-opacity="0.8"/></linearGradient><linearGradient id="fc10_6" gradientUnits="userSpaceOnUse" x1="351.72" y1="91.71" x2="378.86" y2="210.5"><stop offset="0" stop-color="#74cfc6" stop-opacity="0.55"/><stop offset="0.3" stop-color="#9adcd2" stop-opacity="0.55"/><stop offset="0.5" stop-color="#b6e6d3" stop-opacity="0.62"/><stop offset="1" stop-color="#b3e5d1" stop-opacity="0.8"/></linearGradient><linearGradient id="fc10_7" gradientUnits="userSpaceOnUse" x1="351.86" y1="91.7" x2="370.73" y2="213.6"><stop offset="0" stop-color="#74cfc6" stop-opacity="0.55"/><stop offset="0.3" stop-color="#9adcd2" stop-opacity="0.55"/><stop offset="0.5" stop-color="#b6e6d3" stop-opacity="0.62"/><stop offset="1" stop-color="#b3e5d1" stop-opacity="0.8"/></linearGradient><linearGradient id="fc10_8" gradientUnits="userSpaceOnUse" x1="351.9" y1="91.7" x2="367.1" y2="214.59"><stop offset="0" stop-color="#74cfc6" stop-opacity="0.55"/><stop offset="0.3" stop-color="#9adcd2" stop-opacity="0.55"/><stop offset="0.5" stop-color="#b6e6d3" stop-opacity="0.62"/><stop offset="1" stop-color="#b3e5d1" stop-opacity="0.8"/></linearGradient><linearGradient id="fc10_9" gradientUnits="userSpaceOnUse" x1="351.96" y1="91.7" x2="363.8" y2="215.28"><stop offset="0" stop-color="#74cfc6" stop-opacity="0.55"/><stop offset="0.3" stop-color="#9adcd2" stop-opacity="0.55"/><stop offset="0.5" stop-color="#b6e6d3" stop-opacity="0.62"/><stop offset="1" stop-color="#b3e5d1" stop-opacity="0.8"/></linearGradient><linearGradient id="fc10_10" gradientUnits="userSpaceOnUse" x1="352.02" y1="91.7" x2="360.91" y2="215.74"><stop offset="0" stop-color="#74cfc6" stop-opacity="0.55"/><stop offset="0.3" stop-color="#9adcd2" stop-opacity="0.55"/><stop offset="0.5" stop-color="#b6e6d3" stop-opacity="0.62"/><stop offset="1" stop-color="#b3e5d1" stop-opacity="0.8"/></linearGradient><linearGradient id="fc10_11" gradientUnits="userSpaceOnUse" x1="352.04" y1="91.7" x2="358.44" y2="216.03"><stop offset="0" stop-color="#74cfc6" stop-opacity="0.55"/><stop offset="0.3" stop-color="#9adcd2" stop-opacity="0.55"/><stop offset="0.5" stop-color="#b6e6d3" stop-opacity="0.62"/><stop offset="1" stop-color="#b3e5d1" stop-opacity="0.8"/></linearGradient><linearGradient id="fc10_12" gradientUnits="userSpaceOnUse" x1="352.17" y1="91.7" x2="356.21" y2="216.2"><stop offset="0" stop-color="#74cfc6" stop-opacity="0.55"/><stop offset="0.3" stop-color="#9adcd2" stop-opacity="0.55"/><stop offset="0.5" stop-color="#b6e6d3" stop-opacity="0.62"/><stop offset="1" stop-color="#b3e5d1" stop-opacity="0.8"/></linearGradient></defs><g stroke="none"><path d="M354.94,216.26A62.3,62.3 0 0 1 353.79,216.29Q352.6,154.0 353.9,91.71A62.3,62.3 0 0 1 354.7,91.74Q352.6,154.0 354.94,216.26Z" fill="url(#fc0_0)"/><path d="M353.79,216.29A62.3,62.3 0 0 1 351.24,216.29Q352.6,154.0 380.45,98.27A62.3,62.3 0 0 1 381.24,98.67Q352.6,154.0 353.79,216.29Z" fill="url(#fc0_1)"/><path d="M351.24,216.29A62.3,62.3 0 0 1 349.91,216.24Q352.6,154.0 397.68,111A62.3,62.3 0 0 1 398.52,111.9Q352.6,154.0 351.24,216.29Z" fill="url(#fc0_2)"/><path d="M349.91,216.24A62.3,62.3 0 0 1 349.23,216.21Q352.6,154.0 412.5,136.88A62.3,62.3 0 0 1 412.65,137.42Q352.6,154.0 349.91,216.24Z" fill="url(#fc0_3)"/><path d="M349.23,216.21A62.3,62.3 0 0 1 348.83,216.19Q352.6,154.0 414.88,155.47A62.3,62.3 0 0 1 414.88,155.61Q352.6,154.0 349.23,216.21Z" fill="url(#fc0_4)"/><path d="M348.83,216.19A62.3,62.3 0 0 1 347.88,216.12Q352.6,154.0 409.36,179.69A62.3,62.3 0 0 1 409.12,180.2Q352.6,154.0 348.83,216.19Z" fill="url(#fc0_5)"/><path d="M347.88,216.12A62.3,62.3 0 0 1 340.87,215.19Q352.6,154.0 396.92,197.78A62.3,62.3 0 0 1 395.34,199.33Q352.6,154.0 347.88,216.12Z" fill="url(#fc0_6)"/><path d="M340.87,215.19A62.3,62.3 0 0 1 340.18,215.05Q352.6,154.0 376.09,211.7A62.3,62.3 0 0 1 375.43,211.97Q352.6,154.0 340.87,215.19Z" fill="url(#fc0_7)"/><path d="M340.18,215.05A62.3,62.3 0 0 1 339.77,214.96Q352.6,154.0 368.48,214.24A62.3,62.3 0 0 1 368.06,214.35Q352.6,154.0 340.18,215.05Z" fill="url(#fc0_8)"/><path d="M339.77,214.96A62.3,62.3 0 0 1 339.62,214.93Q352.6,154.0 365.36,214.98A62.3,62.3 0 0 1 365.26,215Q352.6,154.0 339.77,214.96Z" fill="url(#fc0_9)"/><path d="M339.62,214.93A62.3,62.3 0 0 1 339.48,214.9Q352.6,154.0 362.07,215.58A62.3,62.3 0 0 1 361.96,215.59Q352.6,154.0 339.62,214.93Z" fill="url(#fc0_10)"/><path d="M339.48,214.9A62.3,62.3 0 0 1 339.39,214.88Q352.6,154.0 359.5,215.92A62.3,62.3 0 0 1 359.4,215.93Q352.6,154.0 339.48,214.9Z" fill="url(#fc0_11)"/><path d="M339.39,214.88A62.3,62.3 0 0 1 339.38,214.88Q352.6,154.0 357.05,216.14A62.3,62.3 0 0 1 357.05,216.14Q352.6,154.0 339.39,214.88Z" fill="url(#fc0_12)"/><path d="M338.43,214.67A62.3,62.3 0 0 1 332.56,212.99Q352.6,154.0 354.7,91.74A62.3,62.3 0 0 1 358.52,91.98Q352.6,154.0 338.43,214.67Z" fill="url(#fc1_0)"/><path d="M332.56,212.99A62.3,62.3 0 0 1 329.9,212.02Q352.6,154.0 381.24,98.67A62.3,62.3 0 0 1 382.03,99.09Q352.6,154.0 332.56,212.99Z" fill="url(#fc1_1)"/><path d="M329.9,212.02A62.3,62.3 0 0 1 326.14,210.4Q352.6,154.0 398.52,111.9A62.3,62.3 0 0 1 400.78,114.5Q352.6,154.0 329.9,212.02Z" fill="url(#fc1_2)"/><path d="M326.14,210.4A62.3,62.3 0 0 1 326.04,210.36Q352.6,154.0 412.65,137.42A62.3,62.3 0 0 1 412.67,137.5Q352.6,154.0 326.14,210.4Z" fill="url(#fc1_3)"/><path d="M326.04,210.36A62.3,62.3 0 0 1 325.91,210.29Q352.6,154.0 414.88,155.61A62.3,62.3 0 0 1 414.88,155.66Q352.6,154.0 326.04,210.36Z" fill="url(#fc1_4)"/><path d="M325.91,210.29A62.3,62.3 0 0 1 325.54,210.12Q352.6,154.0 409.12,180.2A62.3,62.3 0 0 1 409.03,180.4Q352.6,154.0 325.91,210.29Z" fill="url(#fc1_5)"/><path d="M325.54,210.12A62.3,62.3 0 0 1 324.76,209.73Q352.6,154.0 395.34,199.33A62.3,62.3 0 0 1 395.16,199.5Q352.6,154.0 325.54,210.12Z" fill="url(#fc1_6)"/><path d="M324.76,209.73A62.3,62.3 0 0 1 324.17,209.44Q352.6,154.0 375.43,211.97A62.3,62.3 0 0 1 374.86,212.19Q352.6,154.0 324.76,209.73Z" fill="url(#fc1_7)"/><path d="M324.17,209.44A62.3,62.3 0 0 1 324.08,209.39Q352.6,154.0 368.06,214.35A62.3,62.3 0 0 1 367.97,214.37Q352.6,154.0 324.17,209.44Z" fill="url(#fc1_8)"/><path d="M324.08,209.39A62.3,62.3 0 0 1 323.85,209.27Q352.6,154.0 365.26,215A62.3,62.3 0 0 1 365.12,215.03Q352.6,154.0 324.08,209.39Z" fill="url(#fc1_9)"/><path d="M323.85,209.27A62.3,62.3 0 0 1 323.82,209.25Q352.6,154.0 361.96,215.59A62.3,62.3 0 0 1 361.93,215.6Q352.6,154.0 323.85,209.27Z" fill="url(#fc1_10)"/><path d="M323.82,209.25A62.3,62.3 0 0 1 323.7,209.19Q352.6,154.0 359.4,215.93A62.3,62.3 0 0 1 359.28,215.94Q352.6,154.0 323.82,209.25Z" fill="url(#fc1_11)"/><path d="M323.7,209.19A62.3,62.3 0 0 1 323.59,209.13Q352.6,154.0 357.05,216.14A62.3,62.3 0 0 1 357,216.14Q352.6,154.0 323.7,209.19Z" fill="url(#fc1_12)"/><path d="M322.73,208.67A62.3,62.3 0 0 1 322.31,208.44Q352.6,154.0 358.52,91.98A62.3,62.3 0 0 1 359.09,92.04Q352.6,154.0 322.73,208.67Z" fill="url(#fc2_0)"/><path d="M322.31,208.44A62.3,62.3 0 0 1 313.89,202.81Q352.6,154.0 382.03,99.09A62.3,62.3 0 0 1 387.25,102.23Q352.6,154.0 322.31,208.44Z" fill="url(#fc2_1)"/><path d="M313.89,202.81A62.3,62.3 0 0 1 311.64,200.95Q352.6,154.0 400.78,114.5A62.3,62.3 0 0 1 403.59,118.21Q352.6,154.0 313.89,202.81Z" fill="url(#fc2_2)"/><path d="M311.64,200.95A62.3,62.3 0 0 1 308.59,198.1Q352.6,154.0 412.67,137.5A62.3,62.3 0 0 1 413.96,143.22Q352.6,154.0 311.64,200.95Z" fill="url(#fc2_3)"/><path d="M308.59,198.1A62.3,62.3 0 0 1 308.27,197.77Q352.6,154.0 414.88,155.66A62.3,62.3 0 0 1 414.87,155.95Q352.6,154.0 308.59,198.1Z" fill="url(#fc2_4)"/><path d="M308.27,197.77A62.3,62.3 0 0 1 308.03,197.53Q352.6,154.0 409.03,180.4A62.3,62.3 0 0 1 408.88,180.71Q352.6,154.0 308.27,197.77Z" fill="url(#fc2_5)"/><path d="M308.03,197.53A62.3,62.3 0 0 1 307.56,197.05Q352.6,154.0 395.16,199.5A62.3,62.3 0 0 1 394.89,199.75Q352.6,154.0 308.03,197.53Z" fill="url(#fc2_6)"/><path d="M307.56,197.05A62.3,62.3 0 0 1 307.39,196.87Q352.6,154.0 374.86,212.19A62.3,62.3 0 0 1 374.46,212.34Q352.6,154.0 307.56,197.05Z" fill="url(#fc2_7)"/><path d="M307.39,196.87A62.3,62.3 0 0 1 307.27,196.74Q352.6,154.0 367.97,214.37A62.3,62.3 0 0 1 367.67,214.45Q352.6,154.0 307.39,196.87Z" fill="url(#fc2_8)"/><path d="M307.27,196.74A62.3,62.3 0 0 1 307.2,196.66Q352.6,154.0 365.12,215.03A62.3,62.3 0 0 1 365,215.05Q352.6,154.0 307.27,196.74Z" fill="url(#fc2_9)"/><path d="M307.2,196.66A62.3,62.3 0 0 1 307.17,196.63Q352.6,154.0 361.93,215.6A62.3,62.3 0 0 1 361.88,215.6Q352.6,154.0 307.2,196.66Z" fill="url(#fc2_10)"/><path d="M307.17,196.63A62.3,62.3 0 0 1 307.16,196.62Q352.6,154.0 359.28,215.94A62.3,62.3 0 0 1 359.25,215.94Q352.6,154.0 307.17,196.63Z" fill="url(#fc2_11)"/><path d="M307.16,196.62A62.3,62.3 0 0 1 307.15,196.61Q352.6,154.0 357,216.14A62.3,62.3 0 0 1 356.98,216.15Q352.6,154.0 307.16,196.62Z" fill="url(#fc2_12)"/><path d="M306.48,195.89A62.3,62.3 0 0 1 301.82,190.09Q352.6,154.0 359.09,92.04A62.3,62.3 0 0 1 367.27,93.45Q352.6,154.0 306.48,195.89Z" fill="url(#fc3_0)"/><path d="M301.82,190.09A62.3,62.3 0 0 1 301.63,189.82Q352.6,154.0 387.25,102.23A62.3,62.3 0 0 1 387.41,102.33Q352.6,154.0 301.82,190.09Z" fill="url(#fc3_1)"/><path d="M301.63,189.82A62.3,62.3 0 0 1 300.45,188.09Q352.6,154.0 403.59,118.21A62.3,62.3 0 0 1 405.33,120.83Q352.6,154.0 301.63,189.82Z" fill="url(#fc3_2)"/><path d="M300.45,188.09A62.3,62.3 0 0 1 299.6,186.75Q352.6,154.0 413.96,143.22A62.3,62.3 0 0 1 414.29,145.27Q352.6,154.0 300.45,188.09Z" fill="url(#fc3_3)"/><path d="M299.6,186.75A62.3,62.3 0 0 1 299.53,186.63Q352.6,154.0 414.87,155.95A62.3,62.3 0 0 1 414.87,156.04Q352.6,154.0 299.6,186.75Z" fill="url(#fc3_4)"/><path d="M299.53,186.63A62.3,62.3 0 0 1 298.95,185.67Q352.6,154.0 408.88,180.71A62.3,62.3 0 0 1 408.42,181.67Q352.6,154.0 299.53,186.63Z" fill="url(#fc3_5)"/><path d="M298.95,185.67A62.3,62.3 0 0 1 295.49,178.9Q352.6,154.0 394.89,199.75A62.3,62.3 0 0 1 392,202.26Q352.6,154.0 298.95,185.67Z" fill="url(#fc3_6)"/><path d="M295.49,178.9A62.3,62.3 0 0 1 295.49,178.89Q352.6,154.0 374.46,212.34A62.3,62.3 0 0 1 374.43,212.35Q352.6,154.0 295.49,178.9Z" fill="url(#fc3_7)"/><path d="M295.49,178.89A62.3,62.3 0 0 1 295.47,178.84Q352.6,154.0 367.67,214.45A62.3,62.3 0 0 1 367.58,214.47Q352.6,154.0 295.49,178.89Z" fill="url(#fc3_8)"/><path d="M295.47,178.84A62.3,62.3 0 0 1 295.44,178.77Q352.6,154.0 365,215.05A62.3,62.3 0 0 1 364.92,215.07Q352.6,154.0 295.47,178.84Z" fill="url(#fc3_9)"/><path d="M295.44,178.77A62.3,62.3 0 0 1 295.43,178.75Q352.6,154.0 361.88,215.6A62.3,62.3 0 0 1 361.86,215.61Q352.6,154.0 295.44,178.77Z" fill="url(#fc3_10)"/><path d="M295.43,178.75A62.3,62.3 0 0 1 295.38,178.64Q352.6,154.0 359.25,215.94A62.3,62.3 0 0 1 359.04,215.97Q352.6,154.0 295.43,178.75Z" fill="url(#fc3_11)"/><path d="M295.38,178.64A62.3,62.3 0 0 1 295.36,178.59Q352.6,154.0 356.98,216.15A62.3,62.3 0 0 1 356.94,216.15Q352.6,154.0 295.38,178.64Z" fill="url(#fc3_12)"/><path d="M294.98,177.69A62.3,62.3 0 0 1 294.96,177.64Q352.6,154.0 367.27,93.45A62.3,62.3 0 0 1 367.33,93.47Q352.6,154.0 294.98,177.69Z" fill="url(#fc4_0)"/><path d="M294.96,177.64A62.3,62.3 0 0 1 294.61,176.76Q352.6,154.0 387.41,102.33A62.3,62.3 0 0 1 387.9,102.67Q352.6,154.0 294.96,177.64Z" fill="url(#fc4_1)"/><path d="M294.61,176.76A62.3,62.3 0 0 1 294.21,175.73Q352.6,154.0 405.33,120.83A62.3,62.3 0 0 1 406.3,122.41Q352.6,154.0 294.61,176.76Z" fill="url(#fc4_2)"/><path d="M294.21,175.73A62.3,62.3 0 0 1 293.89,174.83Q352.6,154.0 414.29,145.27A62.3,62.3 0 0 1 414.47,146.67Q352.6,154.0 294.21,175.73Z" fill="url(#fc4_3)"/><path d="M293.89,174.83A62.3,62.3 0 0 1 293.05,172.31Q352.6,154.0 414.87,156.04A62.3,62.3 0 0 1 414.78,157.79Q352.6,154.0 293.89,174.83Z" fill="url(#fc4_4)"/><path d="M293.05,172.31A62.3,62.3 0 0 1 292.91,171.83Q352.6,154.0 408.42,181.67A62.3,62.3 0 0 1 408.17,182.16Q352.6,154.0 293.05,172.31Z" fill="url(#fc4_5)"/><path d="M292.91,171.83A62.3,62.3 0 0 1 292.79,171.42Q352.6,154.0 392,202.26A62.3,62.3 0 0 1 391.81,202.41Q352.6,154.0 292.91,171.83Z" fill="url(#fc4_6)"/><path d="M292.79,171.42A62.3,62.3 0 0 1 292.78,171.41Q352.6,154.0 374.43,212.35A62.3,62.3 0 0 1 374.4,212.36Q352.6,154.0 292.79,171.42Z" fill="url(#fc4_7)"/><path d="M292.78,171.41A62.3,62.3 0 0 1 292.77,171.36Q352.6,154.0 367.58,214.47A62.3,62.3 0 0 1 367.48,214.5Q352.6,154.0 292.78,171.41Z" fill="url(#fc4_8)"/><path d="M292.77,171.36A62.3,62.3 0 0 1 292.76,171.35Q352.6,154.0 364.92,215.07A62.3,62.3 0 0 1 364.91,215.07Q352.6,154.0 292.77,171.36Z" fill="url(#fc4_9)"/><path d="M292.76,171.35A62.3,62.3 0 0 1 292.76,171.34Q352.6,154.0 361.86,215.61A62.3,62.3 0 0 1 361.84,215.61Q352.6,154.0 292.76,171.35Z" fill="url(#fc4_10)"/><path d="M292.76,171.34A62.3,62.3 0 0 1 292.76,171.33Q352.6,154.0 359.04,215.97A62.3,62.3 0 0 1 359.03,215.97Q352.6,154.0 292.76,171.34Z" fill="url(#fc4_11)"/><path d="M292.76,171.33A62.3,62.3 0 0 1 292.76,171.33Q352.6,154.0 356.94,216.15A62.3,62.3 0 0 1 356.94,216.15Q352.6,154.0 292.76,171.33Z" fill="url(#fc4_12)"/><path d="M292.49,170.39A62.3,62.3 0 0 1 292.37,169.93Q352.6,154.0 367.33,93.47A62.3,62.3 0 0 1 367.81,93.59Q352.6,154.0 292.49,170.39Z" fill="url(#fc5_0)"/><path d="M292.37,169.93A62.3,62.3 0 0 1 291.38,165.52Q352.6,154.0 387.9,102.67A62.3,62.3 0 0 1 389.89,104.09Q352.6,154.0 292.37,169.93Z" fill="url(#fc5_1)"/><path d="M291.38,165.52A62.3,62.3 0 0 1 291.36,165.46Q352.6,154.0 406.3,122.41A62.3,62.3 0 0 1 406.35,122.49Q352.6,154.0 291.38,165.52Z" fill="url(#fc5_2)"/><path d="M291.36,165.46A62.3,62.3 0 0 1 291.35,165.38Q352.6,154.0 414.47,146.67A62.3,62.3 0 0 1 414.48,146.77Q352.6,154.0 291.36,165.46Z" fill="url(#fc5_3)"/><path d="M291.35,165.38A62.3,62.3 0 0 1 291.13,164.17Q352.6,154.0 414.78,157.79A62.3,62.3 0 0 1 414.74,158.48Q352.6,154.0 291.35,165.38Z" fill="url(#fc5_4)"/><path d="M291.13,164.17A62.3,62.3 0 0 1 290.46,158.43Q352.6,154.0 408.17,182.16A62.3,62.3 0 0 1 405.58,186.77Q352.6,154.0 291.13,164.17Z" fill="url(#fc5_5)"/><path d="M290.46,158.43A62.3,62.3 0 0 1 290.35,156.43Q352.6,154.0 391.81,202.41A62.3,62.3 0 0 1 391.06,203.01Q352.6,154.0 290.46,158.43Z" fill="url(#fc5_6)"/><path d="M290.35,156.43A62.3,62.3 0 0 1 290.35,156.41Q352.6,154.0 374.4,212.36A62.3,62.3 0 0 1 374.38,212.37Q352.6,154.0 290.35,156.43Z" fill="url(#fc5_7)"/><path d="M290.35,156.41A62.3,62.3 0 0 1 290.35,156.41Q352.6,154.0 367.48,214.5A62.3,62.3 0 0 1 367.48,214.5Q352.6,154.0 290.35,156.41Z" fill="url(#fc5_8)"/><path d="M290.35,156.41A62.3,62.3 0 0 1 290.34,156.3Q352.6,154.0 364.91,215.07A62.3,62.3 0 0 1 364.81,215.09Q352.6,154.0 290.35,156.41Z" fill="url(#fc5_9)"/><path d="M290.34,156.3A62.3,62.3 0 0 1 290.34,156.28Q352.6,154.0 361.84,215.61A62.3,62.3 0 0 1 361.82,215.61Q352.6,154.0 290.34,156.3Z" fill="url(#fc5_10)"/><path d="M290.34,156.28A62.3,62.3 0 0 1 290.34,156.27Q352.6,154.0 359.03,215.97A62.3,62.3 0 0 1 359.02,215.97Q352.6,154.0 290.34,156.28Z" fill="url(#fc5_11)"/><path d="M290.34,156.27A62.3,62.3 0 0 1 290.34,156.12Q352.6,154.0 356.94,216.15A62.3,62.3 0 0 1 356.83,216.16Q352.6,154.0 290.34,156.27Z" fill="url(#fc5_12)"/><path d="M290.31,155.14A62.3,62.3 0 0 1 290.4,150.52Q352.6,154.0 367.81,93.59A62.3,62.3 0 0 1 374.74,95.77Q352.6,154.0 290.31,155.14Z" fill="url(#fc6_0)"/><path d="M290.4,150.52A62.3,62.3 0 0 1 290.46,149.6Q352.6,154.0 389.89,104.09A62.3,62.3 0 0 1 390.48,104.54Q352.6,154.0 290.4,150.52Z" fill="url(#fc6_1)"/><path d="M290.46,149.6A62.3,62.3 0 0 1 290.58,148.06Q352.6,154.0 406.35,122.49A62.3,62.3 0 0 1 407.92,125.34Q352.6,154.0 290.46,149.6Z" fill="url(#fc6_2)"/><path d="M290.58,148.06A62.3,62.3 0 0 1 290.71,146.9Q352.6,154.0 414.48,146.77A62.3,62.3 0 0 1 414.69,148.94Q352.6,154.0 290.58,148.06Z" fill="url(#fc6_3)"/><path d="M290.71,146.9A62.3,62.3 0 0 1 292.19,138.79Q352.6,154.0 414.74,158.48A62.3,62.3 0 0 1 413.87,165.3Q352.6,154.0 290.71,146.9Z" fill="url(#fc6_4)"/><path d="M292.19,138.79A62.3,62.3 0 0 1 292.66,137.03Q352.6,154.0 405.58,186.77A62.3,62.3 0 0 1 404.25,188.84Q352.6,154.0 292.19,138.79Z" fill="url(#fc6_5)"/><path d="M292.66,137.03A62.3,62.3 0 0 1 293.19,135.25Q352.6,154.0 391.06,203.01A62.3,62.3 0 0 1 390.01,203.82Q352.6,154.0 292.66,137.03Z" fill="url(#fc6_6)"/><path d="M293.19,135.25A62.3,62.3 0 0 1 293.34,134.78Q352.6,154.0 374.38,212.37A62.3,62.3 0 0 1 373.29,212.76Q352.6,154.0 293.19,135.25Z" fill="url(#fc6_7)"/><path d="M293.34,134.78A62.3,62.3 0 0 1 293.34,134.77Q352.6,154.0 367.48,214.5A62.3,62.3 0 0 1 367.47,214.5Q352.6,154.0 293.34,134.78Z" fill="url(#fc6_8)"/><path d="M293.34,134.77A62.3,62.3 0 0 1 293.47,134.39Q352.6,154.0 364.81,215.09A62.3,62.3 0 0 1 364.25,215.2Q352.6,154.0 293.34,134.77Z" fill="url(#fc6_9)"/><path d="M293.47,134.39A62.3,62.3 0 0 1 293.52,134.22Q352.6,154.0 361.82,215.61A62.3,62.3 0 0 1 361.48,215.66Q352.6,154.0 293.47,134.39Z" fill="url(#fc6_10)"/><path d="M293.52,134.22A62.3,62.3 0 0 1 293.55,134.13Q352.6,154.0 359.02,215.97A62.3,62.3 0 0 1 358.79,215.99Q352.6,154.0 293.52,134.22Z" fill="url(#fc6_11)"/><path d="M293.55,134.13A62.3,62.3 0 0 1 293.55,134.13Q352.6,154.0 356.83,216.16A62.3,62.3 0 0 1 356.83,216.16Q352.6,154.0 293.55,134.13Z" fill="url(#fc6_12)"/><path d="M293.87,133.2A62.3,62.3 0 0 1 294.1,132.57Q352.6,154.0 374.74,95.77A62.3,62.3 0 0 1 375.52,96.07Q352.6,154.0 293.87,133.2Z" fill="url(#fc7_0)"/><path d="M294.1,132.57A62.3,62.3 0 0 1 295.61,128.84Q352.6,154.0 390.48,104.54A62.3,62.3 0 0 1 392.44,106.1Q352.6,154.0 294.1,132.57Z" fill="url(#fc7_1)"/><path d="M295.61,128.84A62.3,62.3 0 0 1 295.66,128.71Q352.6,154.0 407.92,125.34A62.3,62.3 0 0 1 408.03,125.55Q352.6,154.0 295.61,128.84Z" fill="url(#fc7_2)"/><path d="M295.66,128.71A62.3,62.3 0 0 1 296,127.97Q352.6,154.0 414.69,148.94A62.3,62.3 0 0 1 414.78,150.13Q352.6,154.0 295.66,128.71Z" fill="url(#fc7_3)"/><path d="M296,127.97A62.3,62.3 0 0 1 298.82,122.54Q352.6,154.0 413.87,165.3A62.3,62.3 0 0 1 413.01,169.21Q352.6,154.0 296,127.97Z" fill="url(#fc7_4)"/><path d="M298.82,122.54A62.3,62.3 0 0 1 298.93,122.37Q352.6,154.0 404.25,188.84A62.3,62.3 0 0 1 404.13,189.02Q352.6,154.0 298.82,122.54Z" fill="url(#fc7_5)"/><path d="M298.93,122.37A62.3,62.3 0 0 1 307.41,111.12Q352.6,154.0 390.01,203.82A62.3,62.3 0 0 1 383.42,208.14Q352.6,154.0 298.93,122.37Z" fill="url(#fc7_6)"/><path d="M307.41,111.12A62.3,62.3 0 0 1 307.98,110.52Q352.6,154.0 373.29,212.76A62.3,62.3 0 0 1 371.86,213.25Q352.6,154.0 307.41,111.12Z" fill="url(#fc7_7)"/><path d="M307.98,110.52A62.3,62.3 0 0 1 308.04,110.46Q352.6,154.0 367.47,214.5A62.3,62.3 0 0 1 367.32,214.54Q352.6,154.0 307.98,110.52Z" fill="url(#fc7_8)"/><path d="M308.04,110.46A62.3,62.3 0 0 1 308.16,110.34Q352.6,154.0 364.25,215.2A62.3,62.3 0 0 1 364.06,215.24Q352.6,154.0 308.04,110.46Z" fill="url(#fc7_9)"/><path d="M308.16,110.34A62.3,62.3 0 0 1 308.3,110.2Q352.6,154.0 361.48,215.66A62.3,62.3 0 0 1 361.19,215.71Q352.6,154.0 308.16,110.34Z" fill="url(#fc7_10)"/><path d="M308.3,110.2A62.3,62.3 0 0 1 308.36,110.14Q352.6,154.0 358.79,215.99A62.3,62.3 0 0 1 358.62,216.01Q352.6,154.0 308.3,110.2Z" fill="url(#fc7_11)"/><path d="M308.36,110.14A62.3,62.3 0 0 1 308.59,109.91Q352.6,154.0 356.83,216.16A62.3,62.3 0 0 1 356.57,216.17Q352.6,154.0 308.36,110.14Z" fill="url(#fc7_12)"/><path d="M309.28,109.22A62.3,62.3 0 0 1 309.48,109.03Q352.6,154.0 375.52,96.07A62.3,62.3 0 0 1 375.84,96.2Q352.6,154.0 309.28,109.22Z" fill="url(#fc8_0)"/><path d="M309.48,109.03A62.3,62.3 0 0 1 309.7,108.83Q352.6,154.0 392.44,106.1A62.3,62.3 0 0 1 392.58,106.22Q352.6,154.0 309.48,109.03Z" fill="url(#fc8_1)"/><path d="M309.7,108.83A62.3,62.3 0 0 1 312.15,106.61Q352.6,154.0 408.03,125.55A62.3,62.3 0 0 1 410.32,130.55Q352.6,154.0 309.7,108.83Z" fill="url(#fc8_2)"/><path d="M312.15,106.61A62.3,62.3 0 0 1 312.51,106.31Q352.6,154.0 414.78,150.13A62.3,62.3 0 0 1 414.82,150.81Q352.6,154.0 312.15,106.61Z" fill="url(#fc8_3)"/><path d="M312.51,106.31A62.3,62.3 0 0 1 312.65,106.2Q352.6,154.0 413.01,169.21A62.3,62.3 0 0 1 412.98,169.33Q352.6,154.0 312.51,106.31Z" fill="url(#fc8_4)"/><path d="M312.65,106.2A62.3,62.3 0 0 1 314.23,104.92Q352.6,154.0 404.13,189.02A62.3,62.3 0 0 1 402.88,190.79Q352.6,154.0 312.65,106.2Z" fill="url(#fc8_5)"/><path d="M314.23,104.92A62.3,62.3 0 0 1 318.22,102.05Q352.6,154.0 383.42,208.14A62.3,62.3 0 0 1 381,209.45Q352.6,154.0 314.23,104.92Z" fill="url(#fc8_6)"/><path d="M318.22,102.05A62.3,62.3 0 0 1 318.29,102Q352.6,154.0 371.86,213.25A62.3,62.3 0 0 1 371.71,213.3Q352.6,154.0 318.22,102.05Z" fill="url(#fc8_7)"/><path d="M318.29,102A62.3,62.3 0 0 1 318.29,102Q352.6,154.0 367.32,214.54A62.3,62.3 0 0 1 367.31,214.54Q352.6,154.0 318.29,102Z" fill="url(#fc8_8)"/><path d="M318.29,102A62.3,62.3 0 0 1 318.33,101.97Q352.6,154.0 364.06,215.24A62.3,62.3 0 0 1 364.01,215.25Q352.6,154.0 318.29,102Z" fill="url(#fc8_9)"/><path d="M318.33,101.97A62.3,62.3 0 0 1 318.35,101.96Q352.6,154.0 361.19,215.71A62.3,62.3 0 0 1 361.15,215.71Q352.6,154.0 318.33,101.97Z" fill="url(#fc8_10)"/><path d="M318.35,101.96A62.3,62.3 0 0 1 318.37,101.95Q352.6,154.0 358.62,216.01A62.3,62.3 0 0 1 358.58,216.01Q352.6,154.0 318.35,101.96Z" fill="url(#fc8_11)"/><path d="M318.37,101.95A62.3,62.3 0 0 1 318.53,101.84Q352.6,154.0 356.57,216.17A62.3,62.3 0 0 1 356.41,216.18Q352.6,154.0 318.37,101.95Z" fill="url(#fc8_12)"/><path d="M319.36,101.31A62.3,62.3 0 0 1 319.67,101.11Q352.6,154.0 375.84,96.2A62.3,62.3 0 0 1 376.21,96.35Q352.6,154.0 319.36,101.31Z" fill="url(#fc9_0)"/><path d="M319.67,101.11A62.3,62.3 0 0 1 325.74,97.79Q352.6,154.0 392.58,106.22A62.3,62.3 0 0 1 395.39,108.72Q352.6,154.0 319.67,101.11Z" fill="url(#fc9_1)"/><path d="M325.74,97.79A62.3,62.3 0 0 1 326.01,97.66Q352.6,154.0 410.32,130.55A62.3,62.3 0 0 1 410.48,130.95Q352.6,154.0 325.74,97.79Z" fill="url(#fc9_2)"/><path d="M326.01,97.66A62.3,62.3 0 0 1 326.31,97.52Q352.6,154.0 414.82,150.81A62.3,62.3 0 0 1 414.84,151.23Q352.6,154.0 326.01,97.66Z" fill="url(#fc9_3)"/><path d="M326.31,97.52A62.3,62.3 0 0 1 329.44,96.16Q352.6,154.0 412.98,169.33A62.3,62.3 0 0 1 412.48,171.2Q352.6,154.0 326.31,97.52Z" fill="url(#fc9_4)"/><path d="M329.44,96.16A62.3,62.3 0 0 1 335.04,94.23Q352.6,154.0 402.88,190.79A62.3,62.3 0 0 1 399.47,195.04Q352.6,154.0 329.44,96.16Z" fill="url(#fc9_5)"/><path d="M335.04,94.23A62.3,62.3 0 0 1 339.63,93.06Q352.6,154.0 381,209.45A62.3,62.3 0 0 1 378.94,210.46Q352.6,154.0 335.04,94.23Z" fill="url(#fc9_6)"/><path d="M339.63,93.06A62.3,62.3 0 0 1 340.21,92.94Q352.6,154.0 371.71,213.3A62.3,62.3 0 0 1 370.81,213.58Q352.6,154.0 339.63,93.06Z" fill="url(#fc9_7)"/><path d="M340.21,92.94A62.3,62.3 0 0 1 340.33,92.92Q352.6,154.0 367.31,214.54A62.3,62.3 0 0 1 367.13,214.58Q352.6,154.0 340.21,92.94Z" fill="url(#fc9_8)"/><path d="M340.33,92.92A62.3,62.3 0 0 1 340.46,92.9Q352.6,154.0 364.01,215.25A62.3,62.3 0 0 1 363.89,215.27Q352.6,154.0 340.33,92.92Z" fill="url(#fc9_9)"/><path d="M340.46,92.9A62.3,62.3 0 0 1 340.62,92.86Q352.6,154.0 361.15,215.71A62.3,62.3 0 0 1 360.93,215.74Q352.6,154.0 340.46,92.9Z" fill="url(#fc9_10)"/><path d="M340.62,92.86A62.3,62.3 0 0 1 340.68,92.85Q352.6,154.0 358.58,216.01A62.3,62.3 0 0 1 358.49,216.02Q352.6,154.0 340.62,92.86Z" fill="url(#fc9_11)"/><path d="M340.68,92.85A62.3,62.3 0 0 1 340.77,92.83Q352.6,154.0 356.41,216.18A62.3,62.3 0 0 1 356.34,216.19Q352.6,154.0 340.68,92.85Z" fill="url(#fc9_12)"/><path d="M341.73,92.66A62.3,62.3 0 0 1 342.65,92.5Q352.6,154.0 376.21,96.35A62.3,62.3 0 0 1 377.79,97.02Q352.6,154.0 341.73,92.66Z" fill="url(#fc10_0)"/><path d="M342.65,92.5A62.3,62.3 0 0 1 342.96,92.45Q352.6,154.0 395.39,108.72A62.3,62.3 0 0 1 395.6,108.92Q352.6,154.0 342.65,92.5Z" fill="url(#fc10_1)"/><path d="M342.96,92.45A62.3,62.3 0 0 1 344.29,92.26Q352.6,154.0 410.48,130.95A62.3,62.3 0 0 1 411.63,134.08Q352.6,154.0 342.96,92.45Z" fill="url(#fc10_2)"/><path d="M344.29,92.26A62.3,62.3 0 0 1 344.88,92.18Q352.6,154.0 414.84,151.23A62.3,62.3 0 0 1 414.88,152.53Q352.6,154.0 344.29,92.26Z" fill="url(#fc10_3)"/><path d="M344.88,92.18A62.3,62.3 0 0 1 351.11,91.72Q352.6,154.0 412.48,171.2A62.3,62.3 0 0 1 410.51,176.98Q352.6,154.0 344.88,92.18Z" fill="url(#fc10_4)"/><path d="M351.11,91.72A62.3,62.3 0 0 1 351.62,91.71Q352.6,154.0 399.47,195.04A62.3,62.3 0 0 1 398.93,195.65Q352.6,154.0 351.11,91.72Z" fill="url(#fc10_5)"/><path d="M351.62,91.71A62.3,62.3 0 0 1 351.83,91.7Q352.6,154.0 378.94,210.46A62.3,62.3 0 0 1 378.78,210.53Q352.6,154.0 351.62,91.71Z" fill="url(#fc10_6)"/><path d="M351.83,91.7A62.3,62.3 0 0 1 351.88,91.7Q352.6,154.0 370.81,213.58A62.3,62.3 0 0 1 370.66,213.63Q352.6,154.0 351.83,91.7Z" fill="url(#fc10_7)"/><path d="M351.88,91.7A62.3,62.3 0 0 1 351.91,91.7Q352.6,154.0 367.13,214.58A62.3,62.3 0 0 1 367.07,214.6Q352.6,154.0 351.88,91.7Z" fill="url(#fc10_8)"/><path d="M351.91,91.7A62.3,62.3 0 0 1 352.01,91.7Q352.6,154.0 363.89,215.27A62.3,62.3 0 0 1 363.72,215.3Q352.6,154.0 351.91,91.7Z" fill="url(#fc10_9)"/><path d="M352.01,91.7A62.3,62.3 0 0 1 352.02,91.7Q352.6,154.0 360.93,215.74A62.3,62.3 0 0 1 360.9,215.74Q352.6,154.0 352.01,91.7Z" fill="url(#fc10_10)"/><path d="M352.02,91.7A62.3,62.3 0 0 1 352.06,91.7Q352.6,154.0 358.49,216.02A62.3,62.3 0 0 1 358.4,216.03Q352.6,154.0 352.02,91.7Z" fill="url(#fc10_11)"/><path d="M352.06,91.7A62.3,62.3 0 0 1 352.27,91.7Q352.6,154.0 356.34,216.19A62.3,62.3 0 0 1 356.08,216.2Q352.6,154.0 352.06,91.7Z" fill="url(#fc10_12)"/></g><g fill="none" stroke-width="0.5"><path d="M353.79,216.29Q352.6,154.0 353.9,91.71M354.7,91.74Q352.6,154.0 354.94,216.26" stroke="url(#c0_0)"/><path d="M351.24,216.29Q352.6,154.0 380.45,98.27M381.24,98.67Q352.6,154.0 353.79,216.29" stroke="url(#c0_1)"/><path d="M349.91,216.24Q352.6,154.0 397.68,111M398.52,111.9Q352.6,154.0 351.24,216.29" stroke="url(#c0_2)"/><path d="M349.23,216.21Q352.6,154.0 412.5,136.88M412.65,137.42Q352.6,154.0 349.91,216.24" stroke="url(#c0_3)"/><path d="M348.83,216.19Q352.6,154.0 414.88,155.47M414.88,155.61Q352.6,154.0 349.23,216.21" stroke="url(#c0_4)"/><path d="M347.88,216.12Q352.6,154.0 409.36,179.69M409.12,180.2Q352.6,154.0 348.83,216.19" stroke="url(#c0_5)"/><path d="M340.87,215.19Q352.6,154.0 396.92,197.78M395.34,199.33Q352.6,154.0 347.88,216.12" stroke="url(#c0_6)"/><path d="M340.18,215.05Q352.6,154.0 376.09,211.7M375.43,211.97Q352.6,154.0 340.87,215.19" stroke="url(#c0_7)"/><path d="M339.77,214.96Q352.6,154.0 368.48,214.24M368.06,214.35Q352.6,154.0 340.18,215.05" stroke="url(#c0_8)"/><path d="M339.62,214.93Q352.6,154.0 365.36,214.98M365.26,215Q352.6,154.0 339.77,214.96" stroke="url(#c0_9)"/><path d="M339.48,214.9Q352.6,154.0 362.07,215.58M361.96,215.59Q352.6,154.0 339.62,214.93" stroke="url(#c0_10)"/><path d="M339.39,214.88Q352.6,154.0 359.5,215.92M359.4,215.93Q352.6,154.0 339.48,214.9" stroke="url(#c0_11)"/><path d="M339.38,214.88Q352.6,154.0 357.05,216.14M357.05,216.14Q352.6,154.0 339.39,214.88" stroke="url(#c0_12)"/><path d="M332.56,212.99Q352.6,154.0 354.7,91.74M358.52,91.98Q352.6,154.0 338.43,214.67" stroke="url(#c1_0)"/><path d="M329.9,212.02Q352.6,154.0 381.24,98.67M382.03,99.09Q352.6,154.0 332.56,212.99" stroke="url(#c1_1)"/><path d="M326.14,210.4Q352.6,154.0 398.52,111.9M400.78,114.5Q352.6,154.0 329.9,212.02" stroke="url(#c1_2)"/><path d="M326.04,210.36Q352.6,154.0 412.65,137.42M412.67,137.5Q352.6,154.0 326.14,210.4" stroke="url(#c1_3)"/><path d="M325.91,210.29Q352.6,154.0 414.88,155.61M414.88,155.66Q352.6,154.0 326.04,210.36" stroke="url(#c1_4)"/><path d="M325.54,210.12Q352.6,154.0 409.12,180.2M409.03,180.4Q352.6,154.0 325.91,210.29" stroke="url(#c1_5)"/><path d="M324.76,209.73Q352.6,154.0 395.34,199.33M395.16,199.5Q352.6,154.0 325.54,210.12" stroke="url(#c1_6)"/><path d="M324.17,209.44Q352.6,154.0 375.43,211.97M374.86,212.19Q352.6,154.0 324.76,209.73" stroke="url(#c1_7)"/><path d="M324.08,209.39Q352.6,154.0 368.06,214.35M367.97,214.37Q352.6,154.0 324.17,209.44" stroke="url(#c1_8)"/><path d="M323.85,209.27Q352.6,154.0 365.26,215M365.12,215.03Q352.6,154.0 324.08,209.39" stroke="url(#c1_9)"/><path d="M323.82,209.25Q352.6,154.0 361.96,215.59M361.93,215.6Q352.6,154.0 323.85,209.27" stroke="url(#c1_10)"/><path d="M323.7,209.19Q352.6,154.0 359.4,215.93M359.28,215.94Q352.6,154.0 323.82,209.25" stroke="url(#c1_11)"/><path d="M323.59,209.13Q352.6,154.0 357.05,216.14M357,216.14Q352.6,154.0 323.7,209.19" stroke="url(#c1_12)"/><path d="M322.31,208.44Q352.6,154.0 358.52,91.98M359.09,92.04Q352.6,154.0 322.73,208.67" stroke="url(#c2_0)"/><path d="M313.89,202.81Q352.6,154.0 382.03,99.09M387.25,102.23Q352.6,154.0 322.31,208.44" stroke="url(#c2_1)"/><path d="M311.64,200.95Q352.6,154.0 400.78,114.5M403.59,118.21Q352.6,154.0 313.89,202.81" stroke="url(#c2_2)"/><path d="M308.59,198.1Q352.6,154.0 412.67,137.5M413.96,143.22Q352.6,154.0 311.64,200.95" stroke="url(#c2_3)"/><path d="M308.27,197.77Q352.6,154.0 414.88,155.66M414.87,155.95Q352.6,154.0 308.59,198.1" stroke="url(#c2_4)"/><path d="M308.03,197.53Q352.6,154.0 409.03,180.4M408.88,180.71Q352.6,154.0 308.27,197.77" stroke="url(#c2_5)"/><path d="M307.56,197.05Q352.6,154.0 395.16,199.5M394.89,199.75Q352.6,154.0 308.03,197.53" stroke="url(#c2_6)"/><path d="M307.39,196.87Q352.6,154.0 374.86,212.19M374.46,212.34Q352.6,154.0 307.56,197.05" stroke="url(#c2_7)"/><path d="M307.27,196.74Q352.6,154.0 367.97,214.37M367.67,214.45Q352.6,154.0 307.39,196.87" stroke="url(#c2_8)"/><path d="M307.2,196.66Q352.6,154.0 365.12,215.03M365,215.05Q352.6,154.0 307.27,196.74" stroke="url(#c2_9)"/><path d="M307.17,196.63Q352.6,154.0 361.93,215.6M361.88,215.6Q352.6,154.0 307.2,196.66" stroke="url(#c2_10)"/><path d="M307.16,196.62Q352.6,154.0 359.28,215.94M359.25,215.94Q352.6,154.0 307.17,196.63" stroke="url(#c2_11)"/><path d="M307.15,196.61Q352.6,154.0 357,216.14M356.98,216.15Q352.6,154.0 307.16,196.62" stroke="url(#c2_12)"/><path d="M301.82,190.09Q352.6,154.0 359.09,92.04M367.27,93.45Q352.6,154.0 306.48,195.89" stroke="url(#c3_0)"/><path d="M301.63,189.82Q352.6,154.0 387.25,102.23M387.41,102.33Q352.6,154.0 301.82,190.09" stroke="url(#c3_1)"/><path d="M300.45,188.09Q352.6,154.0 403.59,118.21M405.33,120.83Q352.6,154.0 301.63,189.82" stroke="url(#c3_2)"/><path d="M299.6,186.75Q352.6,154.0 413.96,143.22M414.29,145.27Q352.6,154.0 300.45,188.09" stroke="url(#c3_3)"/><path d="M299.53,186.63Q352.6,154.0 414.87,155.95M414.87,156.04Q352.6,154.0 299.6,186.75" stroke="url(#c3_4)"/><path d="M298.95,185.67Q352.6,154.0 408.88,180.71M408.42,181.67Q352.6,154.0 299.53,186.63" stroke="url(#c3_5)"/><path d="M295.49,178.9Q352.6,154.0 394.89,199.75M392,202.26Q352.6,154.0 298.95,185.67" stroke="url(#c3_6)"/><path d="M295.49,178.89Q352.6,154.0 374.46,212.34M374.43,212.35Q352.6,154.0 295.49,178.9" stroke="url(#c3_7)"/><path d="M295.47,178.84Q352.6,154.0 367.67,214.45M367.58,214.47Q352.6,154.0 295.49,178.89" stroke="url(#c3_8)"/><path d="M295.44,178.77Q352.6,154.0 365,215.05M364.92,215.07Q352.6,154.0 295.47,178.84" stroke="url(#c3_9)"/><path d="M295.43,178.75Q352.6,154.0 361.88,215.6M361.86,215.61Q352.6,154.0 295.44,178.77" stroke="url(#c3_10)"/><path d="M295.38,178.64Q352.6,154.0 359.25,215.94M359.04,215.97Q352.6,154.0 295.43,178.75" stroke="url(#c3_11)"/><path d="M295.36,178.59Q352.6,154.0 356.98,216.15M356.94,216.15Q352.6,154.0 295.38,178.64" stroke="url(#c3_12)"/><path d="M294.96,177.64Q352.6,154.0 367.27,93.45M367.33,93.47Q352.6,154.0 294.98,177.69" stroke="url(#c4_0)"/><path d="M294.61,176.76Q352.6,154.0 387.41,102.33M387.9,102.67Q352.6,154.0 294.96,177.64" stroke="url(#c4_1)"/><path d="M294.21,175.73Q352.6,154.0 405.33,120.83M406.3,122.41Q352.6,154.0 294.61,176.76" stroke="url(#c4_2)"/><path d="M293.89,174.83Q352.6,154.0 414.29,145.27M414.47,146.67Q352.6,154.0 294.21,175.73" stroke="url(#c4_3)"/><path d="M293.05,172.31Q352.6,154.0 414.87,156.04M414.78,157.79Q352.6,154.0 293.89,174.83" stroke="url(#c4_4)"/><path d="M292.91,171.83Q352.6,154.0 408.42,181.67M408.17,182.16Q352.6,154.0 293.05,172.31" stroke="url(#c4_5)"/><path d="M292.79,171.42Q352.6,154.0 392,202.26M391.81,202.41Q352.6,154.0 292.91,171.83" stroke="url(#c4_6)"/><path d="M292.78,171.41Q352.6,154.0 374.43,212.35M374.4,212.36Q352.6,154.0 292.79,171.42" stroke="url(#c4_7)"/><path d="M292.77,171.36Q352.6,154.0 367.58,214.47M367.48,214.5Q352.6,154.0 292.78,171.41" stroke="url(#c4_8)"/><path d="M292.76,171.35Q352.6,154.0 364.92,215.07M364.91,215.07Q352.6,154.0 292.77,171.36" stroke="url(#c4_9)"/><path d="M292.76,171.34Q352.6,154.0 361.86,215.61M361.84,215.61Q352.6,154.0 292.76,171.35" stroke="url(#c4_10)"/><path d="M292.76,171.33Q352.6,154.0 359.04,215.97M359.03,215.97Q352.6,154.0 292.76,171.34" stroke="url(#c4_11)"/><path d="M292.76,171.33Q352.6,154.0 356.94,216.15M356.94,216.15Q352.6,154.0 292.76,171.33" stroke="url(#c4_12)"/><path d="M292.37,169.93Q352.6,154.0 367.33,93.47M367.81,93.59Q352.6,154.0 292.49,170.39" stroke="url(#c5_0)"/><path d="M291.38,165.52Q352.6,154.0 387.9,102.67M389.89,104.09Q352.6,154.0 292.37,169.93" stroke="url(#c5_1)"/><path d="M291.36,165.46Q352.6,154.0 406.3,122.41M406.35,122.49Q352.6,154.0 291.38,165.52" stroke="url(#c5_2)"/><path d="M291.35,165.38Q352.6,154.0 414.47,146.67M414.48,146.77Q352.6,154.0 291.36,165.46" stroke="url(#c5_3)"/><path d="M291.13,164.17Q352.6,154.0 414.78,157.79M414.74,158.48Q352.6,154.0 291.35,165.38" stroke="url(#c5_4)"/><path d="M290.46,158.43Q352.6,154.0 408.17,182.16M405.58,186.77Q352.6,154.0 291.13,164.17" stroke="url(#c5_5)"/><path d="M290.35,156.43Q352.6,154.0 391.81,202.41M391.06,203.01Q352.6,154.0 290.46,158.43" stroke="url(#c5_6)"/><path d="M290.35,156.41Q352.6,154.0 374.4,212.36M374.38,212.37Q352.6,154.0 290.35,156.43" stroke="url(#c5_7)"/><path d="M290.35,156.41Q352.6,154.0 367.48,214.5M367.48,214.5Q352.6,154.0 290.35,156.41" stroke="url(#c5_8)"/><path d="M290.34,156.3Q352.6,154.0 364.91,215.07M364.81,215.09Q352.6,154.0 290.35,156.41" stroke="url(#c5_9)"/><path d="M290.34,156.28Q352.6,154.0 361.84,215.61M361.82,215.61Q352.6,154.0 290.34,156.3" stroke="url(#c5_10)"/><path d="M290.34,156.27Q352.6,154.0 359.03,215.97M359.02,215.97Q352.6,154.0 290.34,156.28" stroke="url(#c5_11)"/><path d="M290.34,156.12Q352.6,154.0 356.94,216.15M356.83,216.16Q352.6,154.0 290.34,156.27" stroke="url(#c5_12)"/><path d="M290.4,150.52Q352.6,154.0 367.81,93.59M374.74,95.77Q352.6,154.0 290.31,155.14" stroke="url(#c6_0)"/><path d="M290.46,149.6Q352.6,154.0 389.89,104.09M390.48,104.54Q352.6,154.0 290.4,150.52" stroke="url(#c6_1)"/><path d="M290.58,148.06Q352.6,154.0 406.35,122.49M407.92,125.34Q352.6,154.0 290.46,149.6" stroke="url(#c6_2)"/><path d="M290.71,146.9Q352.6,154.0 414.48,146.77M414.69,148.94Q352.6,154.0 290.58,148.06" stroke="url(#c6_3)"/><path d="M292.19,138.79Q352.6,154.0 414.74,158.48M413.87,165.3Q352.6,154.0 290.71,146.9" stroke="url(#c6_4)"/><path d="M292.66,137.03Q352.6,154.0 405.58,186.77M404.25,188.84Q352.6,154.0 292.19,138.79" stroke="url(#c6_5)"/><path d="M293.19,135.25Q352.6,154.0 391.06,203.01M390.01,203.82Q352.6,154.0 292.66,137.03" stroke="url(#c6_6)"/><path d="M293.34,134.78Q352.6,154.0 374.38,212.37M373.29,212.76Q352.6,154.0 293.19,135.25" stroke="url(#c6_7)"/><path d="M293.34,134.77Q352.6,154.0 367.48,214.5M367.47,214.5Q352.6,154.0 293.34,134.78" stroke="url(#c6_8)"/><path d="M293.47,134.39Q352.6,154.0 364.81,215.09M364.25,215.2Q352.6,154.0 293.34,134.77" stroke="url(#c6_9)"/><path d="M293.52,134.22Q352.6,154.0 361.82,215.61M361.48,215.66Q352.6,154.0 293.47,134.39" stroke="url(#c6_10)"/><path d="M293.55,134.13Q352.6,154.0 359.02,215.97M358.79,215.99Q352.6,154.0 293.52,134.22" stroke="url(#c6_11)"/><path d="M293.55,134.13Q352.6,154.0 356.83,216.16M356.83,216.16Q352.6,154.0 293.55,134.13" stroke="url(#c6_12)"/><path d="M294.1,132.57Q352.6,154.0 374.74,95.77M375.52,96.07Q352.6,154.0 293.87,133.2" stroke="url(#c7_0)"/><path d="M295.61,128.84Q352.6,154.0 390.48,104.54M392.44,106.1Q352.6,154.0 294.1,132.57" stroke="url(#c7_1)"/><path d="M295.66,128.71Q352.6,154.0 407.92,125.34M408.03,125.55Q352.6,154.0 295.61,128.84" stroke="url(#c7_2)"/><path d="M296,127.97Q352.6,154.0 414.69,148.94M414.78,150.13Q352.6,154.0 295.66,128.71" stroke="url(#c7_3)"/><path d="M298.82,122.54Q352.6,154.0 413.87,165.3M413.01,169.21Q352.6,154.0 296,127.97" stroke="url(#c7_4)"/><path d="M298.93,122.37Q352.6,154.0 404.25,188.84M404.13,189.02Q352.6,154.0 298.82,122.54" stroke="url(#c7_5)"/><path d="M307.41,111.12Q352.6,154.0 390.01,203.82M383.42,208.14Q352.6,154.0 298.93,122.37" stroke="url(#c7_6)"/><path d="M307.98,110.52Q352.6,154.0 373.29,212.76M371.86,213.25Q352.6,154.0 307.41,111.12" stroke="url(#c7_7)"/><path d="M308.04,110.46Q352.6,154.0 367.47,214.5M367.32,214.54Q352.6,154.0 307.98,110.52" stroke="url(#c7_8)"/><path d="M308.16,110.34Q352.6,154.0 364.25,215.2M364.06,215.24Q352.6,154.0 308.04,110.46" stroke="url(#c7_9)"/><path d="M308.3,110.2Q352.6,154.0 361.48,215.66M361.19,215.71Q352.6,154.0 308.16,110.34" stroke="url(#c7_10)"/><path d="M308.36,110.14Q352.6,154.0 358.79,215.99M358.62,216.01Q352.6,154.0 308.3,110.2" stroke="url(#c7_11)"/><path d="M308.59,109.91Q352.6,154.0 356.83,216.16M356.57,216.17Q352.6,154.0 308.36,110.14" stroke="url(#c7_12)"/><path d="M309.48,109.03Q352.6,154.0 375.52,96.07M375.84,96.2Q352.6,154.0 309.28,109.22" stroke="url(#c8_0)"/><path d="M309.7,108.83Q352.6,154.0 392.44,106.1M392.58,106.22Q352.6,154.0 309.48,109.03" stroke="url(#c8_1)"/><path d="M312.15,106.61Q352.6,154.0 408.03,125.55M410.32,130.55Q352.6,154.0 309.7,108.83" stroke="url(#c8_2)"/><path d="M312.51,106.31Q352.6,154.0 414.78,150.13M414.82,150.81Q352.6,154.0 312.15,106.61" stroke="url(#c8_3)"/><path d="M312.65,106.2Q352.6,154.0 413.01,169.21M412.98,169.33Q352.6,154.0 312.51,106.31" stroke="url(#c8_4)"/><path d="M314.23,104.92Q352.6,154.0 404.13,189.02M402.88,190.79Q352.6,154.0 312.65,106.2" stroke="url(#c8_5)"/><path d="M318.22,102.05Q352.6,154.0 383.42,208.14M381,209.45Q352.6,154.0 314.23,104.92" stroke="url(#c8_6)"/><path d="M318.29,102Q352.6,154.0 371.86,213.25M371.71,213.3Q352.6,154.0 318.22,102.05" stroke="url(#c8_7)"/><path d="M318.29,102Q352.6,154.0 367.32,214.54M367.31,214.54Q352.6,154.0 318.29,102" stroke="url(#c8_8)"/><path d="M318.33,101.97Q352.6,154.0 364.06,215.24M364.01,215.25Q352.6,154.0 318.29,102" stroke="url(#c8_9)"/><path d="M318.35,101.96Q352.6,154.0 361.19,215.71M361.15,215.71Q352.6,154.0 318.33,101.97" stroke="url(#c8_10)"/><path d="M318.37,101.95Q352.6,154.0 358.62,216.01M358.58,216.01Q352.6,154.0 318.35,101.96" stroke="url(#c8_11)"/><path d="M318.53,101.84Q352.6,154.0 356.57,216.17M356.41,216.18Q352.6,154.0 318.37,101.95" stroke="url(#c8_12)"/><path d="M319.67,101.11Q352.6,154.0 375.84,96.2M376.21,96.35Q352.6,154.0 319.36,101.31" stroke="url(#c9_0)"/><path d="M325.74,97.79Q352.6,154.0 392.58,106.22M395.39,108.72Q352.6,154.0 319.67,101.11" stroke="url(#c9_1)"/><path d="M326.01,97.66Q352.6,154.0 410.32,130.55M410.48,130.95Q352.6,154.0 325.74,97.79" stroke="url(#c9_2)"/><path d="M326.31,97.52Q352.6,154.0 414.82,150.81M414.84,151.23Q352.6,154.0 326.01,97.66" stroke="url(#c9_3)"/><path d="M329.44,96.16Q352.6,154.0 412.98,169.33M412.48,171.2Q352.6,154.0 326.31,97.52" stroke="url(#c9_4)"/><path d="M335.04,94.23Q352.6,154.0 402.88,190.79M399.47,195.04Q352.6,154.0 329.44,96.16" stroke="url(#c9_5)"/><path d="M339.63,93.06Q352.6,154.0 381,209.45M378.94,210.46Q352.6,154.0 335.04,94.23" stroke="url(#c9_6)"/><path d="M340.21,92.94Q352.6,154.0 371.71,213.3M370.81,213.58Q352.6,154.0 339.63,93.06" stroke="url(#c9_7)"/><path d="M340.33,92.92Q352.6,154.0 367.31,214.54M367.13,214.58Q352.6,154.0 340.21,92.94" stroke="url(#c9_8)"/><path d="M340.46,92.9Q352.6,154.0 364.01,215.25M363.89,215.27Q352.6,154.0 340.33,92.92" stroke="url(#c9_9)"/><path d="M340.62,92.86Q352.6,154.0 361.15,215.71M360.93,215.74Q352.6,154.0 340.46,92.9" stroke="url(#c9_10)"/><path d="M340.68,92.85Q352.6,154.0 358.58,216.01M358.49,216.02Q352.6,154.0 340.62,92.86" stroke="url(#c9_11)"/><path d="M340.77,92.83Q352.6,154.0 356.41,216.18M356.34,216.19Q352.6,154.0 340.68,92.85" stroke="url(#c9_12)"/><path d="M342.65,92.5Q352.6,154.0 376.21,96.35M377.79,97.02Q352.6,154.0 341.73,92.66" stroke="url(#c10_0)"/><path d="M342.96,92.45Q352.6,154.0 395.39,108.72M395.6,108.92Q352.6,154.0 342.65,92.5" stroke="url(#c10_1)"/><path d="M344.29,92.26Q352.6,154.0 410.48,130.95M411.63,134.08Q352.6,154.0 342.96,92.45" stroke="url(#c10_2)"/><path d="M344.88,92.18Q352.6,154.0 414.84,151.23M414.88,152.53Q352.6,154.0 344.29,92.26" stroke="url(#c10_3)"/><path d="M351.11,91.72Q352.6,154.0 412.48,171.2M410.51,176.98Q352.6,154.0 344.88,92.18" stroke="url(#c10_4)"/><path d="M351.62,91.71Q352.6,154.0 399.47,195.04M398.93,195.65Q352.6,154.0 351.11,91.72" stroke="url(#c10_5)"/><path d="M351.83,91.7Q352.6,154.0 378.94,210.46M378.78,210.53Q352.6,154.0 351.62,91.71" stroke="url(#c10_6)"/><path d="M351.88,91.7Q352.6,154.0 370.81,213.58M370.66,213.63Q352.6,154.0 351.83,91.7" stroke="url(#c10_7)"/><path d="M351.91,91.7Q352.6,154.0 367.13,214.58M367.07,214.6Q352.6,154.0 351.88,91.7" stroke="url(#c10_8)"/><path d="M352.01,91.7Q352.6,154.0 363.89,215.27M363.72,215.3Q352.6,154.0 351.91,91.7" stroke="url(#c10_9)"/><path d="M352.02,91.7Q352.6,154.0 360.93,215.74M360.9,215.74Q352.6,154.0 352.01,91.7" stroke="url(#c10_10)"/><path d="M352.06,91.7Q352.6,154.0 358.49,216.02M358.4,216.03Q352.6,154.0 352.02,91.7" stroke="url(#c10_11)"/><path d="M352.27,91.7Q352.6,154.0 356.34,216.19M356.08,216.2Q352.6,154.0 352.06,91.7" stroke="url(#c10_12)"/></g>
<path d="M337.4,12.6L346.39,85.48M307,24.9L327.27,90.03M261.9,52.2L309.68,100.23M221.2,92.5L294.43,117.26M217.9,136.2L284.61,143.5M218.8,173.2L284.57,164.29M218.5,202.5L287.65,176.68M235.9,229.7L294.74,191.22M264.9,263.5L310.48,208.4M302.8,289.3L328.56,218.46M324.9,304.5L346.54,222.53M386.7,15.2L367.52,86.84M438.3,45L392.16,97.71M481,89.7L411.48,118.41M493.5,145.8L420.62,143.65M483.9,195.5L420.02,167.72M456.1,232L410.2,191.62M422.9,268L392.16,210.29M377.1,281.1L375.57,218.85M374,282.5L374,238L369.36,238L369.36,220.73M369,291L369,236.5L365.79,236.5L365.79,221.52M362.5,300L362.5,235L362.41,235L362.41,222.1M356,309.5L356,233L359.61,233L359.61,222.44M352.6,320L352.6,231L356.98,231L356.98,222.66" stroke="#c9cfd4" stroke-width="0.5" fill="none" opacity="0.8"/>
<path d="M352.9,39A115,115 0 1 1 351.2,268.99L351.25,264.89A110.9,110.9 0 1 0 352.89,43.1Z" fill="url(#gT)"/>
<path d="M350.59,268.98A115,115 0 0 1 241.73,184.54L245.68,183.45A110.9,110.9 0 0 0 350.66,264.88Z" fill="url(#gO)"/>
<path d="M241.26,182.79A115,115 0 0 1 287.96,58.89L290.26,62.28A110.9,110.9 0 0 0 245.23,181.77Z" fill="#141c78"/>
<path d="M289.46,57.88A115,115 0 0 1 352.3,39L352.31,43.1A110.9,110.9 0 0 0 291.71,61.31Z" fill="#7a19a8"/>
<path d="M353.39,53.4A100.6,100.6 0 0 1 386.53,59.29L381.6,73.04A86,86 0 0 0 353.28,68Z" fill="#d7f0e6"/>
<path d="M388.01,59.84A100.6,100.6 0 0 1 426.86,86.13L416.08,95.98A86,86 0 0 0 382.87,73.5Z" fill="#d7f0e6"/>
<path d="M427.91,87.31A100.6,100.6 0 0 1 451.8,137.3L437.41,139.72A86,86 0 0 0 416.98,96.99Z" fill="#c3e9d9"/>
<path d="M452.05,138.86A100.6,100.6 0 0 1 452.64,164.57L438.12,163.03A86,86 0 0 0 437.62,141.05Z" fill="#a7dec8"/>
<path d="M452.47,166.14A100.6,100.6 0 0 1 439.08,205.4L426.53,197.94A86,86 0 0 0 437.97,164.38Z" fill="#a7dec8"/>
<path d="M438.26,206.75A100.6,100.6 0 0 1 413.78,233.86L404.9,222.27A86,86 0 0 0 425.83,199.1Z" fill="#a7dec8"/>
<path d="M412.52,234.81A100.6,100.6 0 0 1 374.33,252.23L371.18,237.97A86,86 0 0 0 403.82,223.08Z" fill="#a7dec8"/>
<path d="M372.83,252.55A100.6,100.6 0 0 1 361.89,254.17L360.54,239.63A86,86 0 0 0 369.89,238.24Z" fill="#a7dec8"/>
<path d="M360.84,254.26A100.6,100.6 0 0 1 359.44,254.37L358.45,239.8A86,86 0 0 0 359.65,239.71Z" fill="#a7dec8"/>
<path d="M358.57,254.42A100.6,100.6 0 0 1 357.16,254.5L356.5,239.91A86,86 0 0 0 357.7,239.85Z" fill="#a7dec8"/>
<path d="M356.29,254.53A100.6,100.6 0 0 1 354.88,254.57L354.55,239.98A86,86 0 0 0 355.75,239.94Z" fill="#a7dec8"/>
<path d="M354.18,254.59A100.6,100.6 0 0 1 353.13,254.6L353.05,240A86,86 0 0 0 353.95,239.99Z" fill="#a7dec8"/>
<path d="M352.42,254.6A100.6,100.6 0 0 1 351.55,254.59L351.7,240A86,86 0 0 0 352.45,240Z" fill="#a7dec8"/>
<path d="M350.36,254.57A100.6,100.6 0 0 1 325.41,250.86L329.36,236.8A86,86 0 0 0 350.68,239.98Z" fill="#7db9dd"/>
<path d="M323.9,250.42A100.6,100.6 0 0 1 302.67,241.34L309.92,228.66A86,86 0 0 0 328.06,236.43Z" fill="#7db9dd"/>
<path d="M301.31,240.54A100.6,100.6 0 0 1 277.03,220.41L288,210.77A86,86 0 0 0 308.75,227.98Z" fill="#1388c3"/>
<path d="M276,219.21A100.6,100.6 0 0 1 258.78,190.3L272.39,185.03A86,86 0 0 0 287.12,209.75Z" fill="#1388c3"/>
<path d="M258.22,188.82A100.6,100.6 0 0 1 255.62,180.76L269.7,176.88A86,86 0 0 0 271.92,183.77Z" fill="#1388c3"/>
<path d="M255.22,179.23A100.6,100.6 0 0 1 252.04,156.88L266.64,156.46A86,86 0 0 0 269.35,175.57Z" fill="#141c78"/>
<path d="M252.01,155.3A100.6,100.6 0 0 1 257.37,121.56L271.19,126.27A86,86 0 0 0 266.61,155.11Z" fill="#141c78"/>
<path d="M257.89,120.07A100.6,100.6 0 0 1 283.94,80.47L293.91,91.14A86,86 0 0 0 271.64,125Z" fill="#141c78"/>
<path d="M285.11,79.4A100.6,100.6 0 0 1 295.98,70.85L304.19,82.92A86,86 0 0 0 294.9,90.23Z" fill="#141c78"/>
<path d="M297.29,69.97A100.6,100.6 0 0 1 336.15,54.75L338.53,69.16A86,86 0 0 0 305.32,82.17Z" fill="#7a19a8"/>
<path d="M337.71,54.51A100.6,100.6 0 0 1 351.75,53.4L351.87,68A86,86 0 0 0 339.87,68.95Z" fill="#7a19a8"/>
<path d="M352.96,85.2A68.8,68.8 0 0 1 381.4,91.52L378.68,97.42A62.3,62.3 0 0 0 352.93,91.7Z" fill="#d7f0e6"/>
<path d="M382.38,91.98A68.8,68.8 0 0 1 400.87,104.97L396.31,109.6A62.3,62.3 0 0 0 379.57,97.84Z" fill="#d7f0e6"/>
<path d="M401.63,105.73A68.8,68.8 0 0 1 418.12,133.03L411.93,135.01A62.3,62.3 0 0 0 397,110.29Z" fill="#c3e9d9"/>
<path d="M418.45,134.06A68.8,68.8 0 0 1 421.4,153.46L414.9,153.51A62.3,62.3 0 0 0 412.23,135.94Z" fill="#a7dec8"/>
<path d="M421.4,154.54A68.8,68.8 0 0 1 416.14,180.38L410.14,177.89A62.3,62.3 0 0 0 414.9,154.49Z" fill="#a7dec8"/>
<path d="M415.72,181.38A68.8,68.8 0 0 1 403.04,200.79L398.27,196.37A62.3,62.3 0 0 0 409.75,178.79Z" fill="#a7dec8"/>
<path d="M402.3,201.58A68.8,68.8 0 0 1 380.53,216.88L377.89,210.94A62.3,62.3 0 0 0 397.6,197.08Z" fill="#a7dec8"/>
<path d="M379.54,217.31A68.8,68.8 0 0 1 371.51,220.15L369.72,213.9A62.3,62.3 0 0 0 376.99,211.33Z" fill="#a7dec8"/>
<path d="M370.58,220.41A68.8,68.8 0 0 1 368.14,221.02L366.67,214.69A62.3,62.3 0 0 0 368.88,214.13Z" fill="#a7dec8"/>
<path d="M367.2,221.23A68.8,68.8 0 0 1 364.37,221.79L363.26,215.38A62.3,62.3 0 0 0 365.82,214.88Z" fill="#a7dec8"/>
<path d="M363.42,221.94A68.8,68.8 0 0 1 361.4,222.23L360.57,215.79A62.3,62.3 0 0 0 362.4,215.52Z" fill="#a7dec8"/>
<path d="M360.57,222.34A68.8,68.8 0 0 1 358.66,222.53L358.08,216.06A62.3,62.3 0 0 0 359.81,215.88Z" fill="#a7dec8"/>
<path d="M357.82,222.6A68.8,68.8 0 0 1 356.14,222.71L355.81,216.22A62.3,62.3 0 0 0 357.33,216.12Z" fill="#a7dec8"/>
<path d="M355.18,222.75A68.8,68.8 0 0 1 338,221.23L339.38,214.88A62.3,62.3 0 0 0 354.94,216.26Z" fill="#7db9dd"/>
<path d="M336.95,221A68.8,68.8 0 0 1 320.57,214.89L323.59,209.13A62.3,62.3 0 0 0 338.43,214.67Z" fill="#7db9dd"/>
<path d="M319.61,214.38A68.8,68.8 0 0 1 302.41,201.05L307.15,196.61A62.3,62.3 0 0 0 322.73,208.67Z" fill="#1388c3"/>
<path d="M301.67,200.26A68.8,68.8 0 0 1 289.39,181.16L295.36,178.59A62.3,62.3 0 0 0 306.48,195.89Z" fill="#1388c3"/>
<path d="M288.97,180.16A68.8,68.8 0 0 1 286.52,173.14L292.76,171.33A62.3,62.3 0 0 0 294.98,177.69Z" fill="#1388c3"/>
<path d="M286.22,172.1A68.8,68.8 0 0 1 283.84,156.34L290.34,156.12A62.3,62.3 0 0 0 292.49,170.39Z" fill="#141c78"/>
<path d="M283.81,155.26A68.8,68.8 0 0 1 287.39,132.06L293.55,134.13A62.3,62.3 0 0 0 290.31,155.14Z" fill="#141c78"/>
<path d="M287.75,131.03A68.8,68.8 0 0 1 303.99,105.31L308.59,109.91A62.3,62.3 0 0 0 293.87,133.2Z" fill="#141c78"/>
<path d="M304.76,104.55A68.8,68.8 0 0 1 314.98,96.4L318.53,101.84A62.3,62.3 0 0 0 309.28,109.22Z" fill="#141c78"/>
<path d="M315.89,95.81A68.8,68.8 0 0 1 339.53,86.45L340.77,92.83A62.3,62.3 0 0 0 319.36,101.31Z" fill="#7a19a8"/>
<path d="M340.59,86.26A68.8,68.8 0 0 1 352.24,85.2L352.27,91.7A62.3,62.3 0 0 0 341.73,92.66Z" fill="#7a19a8"/>
<path d="M386.7,15.2L367.52,86.84M438.3,45L392.16,97.71M481,89.7L411.48,118.41M493.5,145.8L420.62,143.65M483.9,195.5L420.02,167.72M456.1,232L410.2,191.62M422.9,268L392.16,210.29M377.1,281.1L375.57,218.85M374,282.5L374,238L369.36,238L369.36,220.73M369,291L369,236.5L365.79,236.5L365.79,221.52M362.5,300L362.5,235L362.41,235L362.41,222.1M356,309.5L356,233L359.61,233L359.61,222.44M352.6,320L352.6,231L356.98,231L356.98,222.66" stroke="#9fb0aa" stroke-width="0.4" fill="none" opacity="0.45"/>
<text transform="translate(368.82,62.73) rotate(10.08) scale(0.68,1)" font-size="7.6" letter-spacing="0.2" text-anchor="middle" dy="0.36em" fill="#2f3a36" stroke="#2f3a36" stroke-width="0.04">5.60%</text>
<text transform="translate(404.56,77.23) rotate(34.09) scale(0.68,1)" font-size="7.6" letter-spacing="0.2" text-anchor="middle" dy="0.36em" fill="#2f3a36" stroke="#2f3a36" stroke-width="0.04">7.74%</text>
<text transform="translate(436.24,114.03) rotate(64.46) scale(0.68,1)" font-size="7.6" letter-spacing="0.2" text-anchor="middle" dy="0.36em" fill="#2f3a36" stroke="#2f3a36" stroke-width="0.04">9.13%</text>
<text transform="translate(445.28,151.87) rotate(88.69) scale(0.68,1)" font-size="7.6" letter-spacing="0.2" text-anchor="middle" dy="0.36em" fill="#2f3a36" stroke="#2f3a36" stroke-width="0.04">4.33%</text>
<text transform="translate(440.34,183.92) rotate(108.83) scale(0.68,1)" font-size="7.6" letter-spacing="0.2" text-anchor="middle" dy="0.36em" fill="#2f3a36" stroke="#2f3a36" stroke-width="0.04">6.86%</text>
<text transform="translate(421.4,216.13) rotate(132.08) scale(0.68,1)" font-size="7.6" letter-spacing="0.2" text-anchor="middle" dy="0.36em" fill="#2f3a36" stroke="#2f3a36" stroke-width="0.04">6.06%</text>
<text transform="translate(391.07,238.34) rotate(155.48) scale(0.68,1)" font-size="7.6" letter-spacing="0.2" text-anchor="middle" dy="0.36em" fill="#2f3a36" stroke="#2f3a36" stroke-width="0.04">6.94%</text>
<text transform="translate(366.22,245.69) rotate(171.55) scale(0.68,1)" font-size="7.6" letter-spacing="0.2" text-anchor="middle" dy="0.36em" fill="#2f3a36" stroke="#2f3a36" stroke-width="0.04">3.24%</text>
<text transform="translate(338.93,245.69) rotate(188.48) scale(0.68,1)" font-size="7.6" letter-spacing="0.2" text-anchor="middle" dy="0.36em" fill="rgba(255,255,255,0.75)">4.25%</text>
<text transform="translate(316.13,239.23) rotate(203.17) scale(0.68,1)" font-size="7.6" letter-spacing="0.2" text-anchor="middle" dy="0.36em" fill="rgba(255,255,255,0.75)">3.91%</text>
<text transform="translate(293.42,225.35) rotate(219.67) scale(0.68,1)" font-size="7.6" letter-spacing="0.2" text-anchor="middle" dy="0.36em" fill="rgba(255,255,255,0.75)">5.26%</text>
<text transform="translate(272.96,201.44) rotate(239.22) scale(0.68,1)" font-size="7.6" letter-spacing="0.2" text-anchor="middle" dy="0.36em" fill="rgba(255,255,255,0.75)">5.60%</text>
<text transform="translate(264.36,182.4) rotate(252.16) scale(0.68,1)" font-size="4.5" letter-spacing="0.2" text-anchor="middle" dy="0.36em" fill="rgba(255,255,255,0.75)">1.59%</text>
<text transform="translate(260.82,167.03) rotate(261.92) scale(0.68,1)" font-size="7.6" letter-spacing="0.2" text-anchor="middle" dy="0.36em" fill="rgba(255,255,255,0.75)">3.83%</text>
<text transform="translate(261.05,139.44) rotate(279.04) scale(0.68,1)" font-size="7.6" letter-spacing="0.2" text-anchor="middle" dy="0.36em" fill="rgba(255,255,255,0.75)">5.68%</text>
<text transform="translate(275.15,103.06) rotate(303.34) scale(0.68,1)" font-size="7.6" letter-spacing="0.2" text-anchor="middle" dy="0.36em" fill="rgba(255,255,255,0.75)">7.82%</text>
<text transform="translate(295.28,81.15) rotate(321.8) scale(0.68,1)" font-size="7.6" letter-spacing="0.2" text-anchor="middle" dy="0.36em" fill="rgba(255,255,255,0.75)">2.44%</text>
<text transform="translate(318.8,67.68) rotate(338.62) scale(0.68,1)" font-size="7.6" letter-spacing="0.2" text-anchor="middle" dy="0.36em" fill="rgba(255,255,255,0.75)">6.90%</text>
<text transform="translate(345.33,61.59) rotate(355.5) scale(0.68,1)" font-size="7.6" letter-spacing="0.2" text-anchor="middle" dy="0.36em" fill="rgba(255,255,255,0.75)">2.48%</text>
<defs><path id="arc1" d="M280.77,54.77A122.5,122.5 0 0 1 474.45,141.41"/></defs><text font-weight="bold" font-size="10.2" fill="#7a19a8" stroke="#7a19a8" stroke-width="0.75" letter-spacing="0.687"><textPath href="#arc1" textLength="116.20" lengthAdjust="spacingAndGlyphs">Systematic Knowledge 9.38%</textPath></text>
<defs><path id="arc2" d="M232.19,176.53A122.5,122.5 0 0 1 393.29,38.46"/></defs><text font-weight="bold" font-size="10.2" fill="#141c78" stroke="#141c78" stroke-width="0.75" letter-spacing="0.695"><textPath href="#arc2" textLength="122.15" lengthAdjust="spacingAndGlyphs">Conceptual Knowledge 19.77%</textPath></text>
<defs><path id="arc3" d="M329.76,274.86A123.0,123.0 0 0 1 259.35,73.79"/></defs><text font-weight="bold" font-size="10.2" fill="#1a8cc6" stroke="#1a8cc6" stroke-width="0.75" letter-spacing="0.797"><textPath href="#arc3" textLength="125.60" lengthAdjust="spacingAndGlyphs">Operational Knowledge 20.61%</textPath></text>
<defs><path id="arc4" d="M469.09,113.89A123.2,123.2 0 0 1 329.09,274.94"/></defs><text font-weight="bold" font-size="10.2" fill="#78bea3" stroke="#78bea3" stroke-width="0.45" letter-spacing="0.920"><textPath href="#arc4" textLength="99.97" lengthAdjust="spacingAndGlyphs">Tacit Knowledge 50.23%</textPath></text>
<g font-size="7.4" letter-spacing="0.25">
<text transform="translate(349.3,11.2) scale(0.64,1)" text-anchor="end" fill="#9467bd">Refereed journals</text>
<text transform="translate(305.5,23.9) scale(0.64,1)" text-anchor="end" fill="#9467bd">Books</text>
<text transform="translate(260.4,51.2) scale(0.64,1)" text-anchor="end" fill="#626a9a">Professional databases</text>
<text transform="translate(219.7,91.5) scale(0.64,1)" text-anchor="end" fill="#626a9a">Professional magazines</text>
<text transform="translate(216.4,135.2) scale(0.64,1)" text-anchor="end" fill="#626a9a">Professional documents and reports</text>
<text transform="translate(217.3,172.2) scale(0.64,1)" text-anchor="end" fill="#626a9a">Professional newsletters</text>
<text transform="translate(217,201.5) scale(0.64,1)" text-anchor="end" fill="#3d9fd0">Design competitions</text>
<text transform="translate(234.4,228.7) scale(0.64,1)" text-anchor="end" fill="#3d9fd0">Design historic precedents</text>
<text transform="translate(263.4,262.5) scale(0.64,1)" text-anchor="end" fill="#3d9fd0">Other landscape architects</text>
<text transform="translate(301.3,288.3) scale(0.64,1)" text-anchor="end" fill="#3d9fd0">Short courses and workshops</text>
<text transform="translate(323.4,303.5) scale(0.64,1)" text-anchor="end" fill="#3d9fd0">Professional conferences</text>
<text transform="translate(388.2,14.2) scale(0.64,1)" text-anchor="start" fill="#9cc9b7">Travelling</text>
<text transform="translate(439.8,44) scale(0.64,1)" text-anchor="start" fill="#9cc9b7">Everyday life</text>
<text transform="translate(482.5,88.7) scale(0.64,1)" text-anchor="start" fill="#9cc9b7">Internet</text>
<text transform="translate(495,144.8) scale(0.64,1)" text-anchor="start" fill="#9cc9b7">Clients</text>
<text transform="translate(485.4,194.5) scale(0.64,1)" text-anchor="start" fill="#9cc9b7">Related professionals</text>
<text transform="translate(457.6,231) scale(0.64,1)" text-anchor="start" fill="#9cc9b7">Architects and planners</text>
<text transform="translate(424.4,267) scale(0.64,1)" text-anchor="start" fill="#9cc9b7">Engineers</text>
<text transform="translate(378.6,280.1) scale(0.64,1)" text-anchor="start" fill="#9cc9b7">Behavioral scientists</text>
<text transform="translate(375.8,288.9) scale(0.64,1)" text-anchor="start" fill="#9cc9b7">Natural scientists</text>
<text transform="translate(370.6,297.2) scale(0.64,1)" text-anchor="start" fill="#9cc9b7">Humanistic academicians</text>
<text transform="translate(363.9,306.4) scale(0.64,1)" text-anchor="start" fill="#9cc9b7">Applied artists</text>
<text transform="translate(357.1,315.9) scale(0.64,1)" text-anchor="start" fill="#9cc9b7">Liberal artists</text>
<text transform="translate(350.7,326.4) scale(0.64,1)" text-anchor="start" fill="#9cc9b7">Systems analysts and computer specialists</text>
</g>
<text transform="translate(82.8,190.9) scale(0.82,1)" font-size="8" font-weight="bold" fill="#111" stroke="#111" stroke-width="0.3">Legend</text><g font-size="7.4" font-style="italic" fill="#3a3a3a" letter-spacing="0.25"><text transform="translate(82.8,205.6) scale(0.64,1) skewX(-9)">low-abstraction</text><text transform="translate(76.4,326.2) scale(0.64,1) skewX(-9)">high-abstraction</text><rect x="95.4" y="214" width="7.8" height="7.8" fill="#d7f0e6"/><text transform="translate(105.8,219.8) scale(0.64,1) skewX(-9)">Daily life 13.34%</text><rect x="95.4" y="229.3" width="7.8" height="7.8" fill="#c3e9d9"/><text transform="translate(105.8,235.1) scale(0.64,1) skewX(-9)">Internet 9.13%</text><rect x="95.4" y="244.6" width="7.8" height="7.8" fill="#a7dec8"/><text transform="translate(105.8,250.4) scale(0.64,1) skewX(-9)">Consult 27.77%</text><rect x="95.4" y="260" width="7.8" height="7.8" fill="#7db9dd"/><text transform="translate(105.8,265.8) scale(0.64,1) skewX(-9)">Conference 8.16%</text><rect x="95.4" y="275.4" width="7.8" height="7.8" fill="#1388c3"/><text transform="translate(105.8,281.2) scale(0.64,1) skewX(-9)">Design materials 12.45%</text><rect x="95.4" y="291.2" width="7.8" height="7.8" fill="#141c78"/><text transform="translate(105.8,297) scale(0.64,1) skewX(-9)">Professional printed media 19.77%</text><rect x="95.4" y="306.3" width="7.8" height="7.8" fill="#7a19a8"/><text transform="translate(105.8,312.1) scale(0.64,1) skewX(-9)">Academic materials 9.38%</text></g><rect x="89.5" y="213" width="3" height="41.7" fill="#a9dfca"/><rect x="89.5" y="254.7" width="3" height="32.7" fill="#1388c3"/><rect x="89.5" y="287.4" width="3" height="16.1" fill="#141c78"/><rect x="89.5" y="303.5" width="3" height="10.6" fill="#7a19a8"/><g font-size="8.6" font-weight="bold" stroke-width="0.15" letter-spacing="0.3"><text transform="translate(27.6,236.8) scale(0.70,1)" fill="#8fcab3" stroke="#8fcab3" style="white-space:pre">Tacit  Knowledge</text><text transform="translate(12.9,274.8) scale(0.70,1)" fill="#1a8cc6" stroke="#1a8cc6">Operational Knowledge</text><text transform="translate(12.9,297.6) scale(0.70,1)" fill="#141c78" stroke="#141c78">Conceptual Knowledge</text><text transform="translate(12.9,311.2) scale(0.70,1)" fill="#7a19a8" stroke="#7a19a8">Systematic Knowledge</text></g>
</svg></body></html>
